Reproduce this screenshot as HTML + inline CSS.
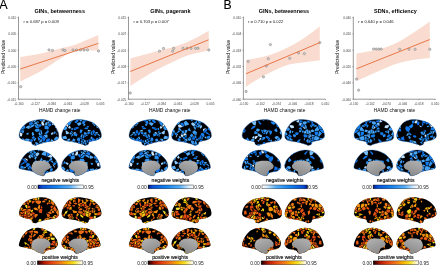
<!DOCTYPE html>
<html><head><meta charset="utf-8"><style>
html,body{margin:0;padding:0;background:#fff;width:440px;height:265px;overflow:hidden;}
svg text{font-family:"Liberation Sans", sans-serif;}
svg{will-change:transform;}
</style></head><body><svg width="440" height="265" viewBox="0 0 440 265" style="display:block"><defs><path id="latp" d="M0.20,14.60 L0.36,13.69 L0.60,12.65 L0.94,11.53 L1.39,10.38 L1.93,9.25 L2.60,8.20 L3.40,7.18 L4.34,6.16 L5.39,5.16 L6.51,4.21 L7.69,3.34 L8.90,2.60 L10.16,1.98 L11.51,1.46 L12.91,1.03 L14.33,0.67 L15.73,0.37 L17.10,0.10 L18.43,-0.13 L19.74,-0.32 L21.05,-0.46 L22.34,-0.52 L23.63,-0.51 L24.90,-0.40 L26.19,-0.20 L27.50,0.07 L28.79,0.42 L30.05,0.86 L31.23,1.39 L32.30,2.00 L33.26,2.73 L34.14,3.60 L34.95,4.54 L35.69,5.54 L36.37,6.54 L37.00,7.50 L37.59,8.45 L38.12,9.41 L38.60,10.38 L39.01,11.34 L39.35,12.29 L39.60,13.20 L39.78,14.10 L39.90,15.01 L39.94,15.89 L39.90,16.74 L39.76,17.51 L39.50,18.20 L39.15,18.79 L38.72,19.29 L38.19,19.73 L37.54,20.11 L36.75,20.46 L35.80,20.80 L34.62,21.09 L33.21,21.32 L31.67,21.52 L30.06,21.71 L28.48,21.93 L27.00,22.20 L25.56,22.55 L24.07,22.95 L22.61,23.38 L21.23,23.80 L20.01,24.18 L19.00,24.50 L18.27,24.77 L17.79,25.01 L17.45,25.22 L17.18,25.38 L16.89,25.48 L16.50,25.50 L15.98,25.44 L15.41,25.31 L14.82,25.12 L14.24,24.88 L13.73,24.60 L13.30,24.30 L13.05,23.95 L12.95,23.53 L12.91,23.07 L12.83,22.61 L12.59,22.18 L12.10,21.80 L11.29,21.49 L10.21,21.22 L8.99,20.98 L7.73,20.74 L6.53,20.49 L5.50,20.20 L4.61,19.90 L3.77,19.59 L3.00,19.27 L2.30,18.92 L1.70,18.54 L1.20,18.10 L0.80,17.63 L0.50,17.14 L0.28,16.62 L0.16,16.03 L0.13,15.37 Z"/><path id="medp" d="M0.00,16.80 L0.14,15.92 L0.40,14.84 L0.78,13.62 L1.24,12.34 L1.79,11.08 L2.40,9.90 L3.09,8.77 L3.87,7.60 L4.74,6.46 L5.66,5.36 L6.62,4.36 L7.60,3.50 L8.61,2.77 L9.65,2.14 L10.74,1.61 L11.86,1.16 L13.01,0.79 L14.20,0.50 L15.42,0.28 L16.69,0.12 L17.98,0.05 L19.30,0.07 L20.65,0.18 L22.00,0.40 L23.41,0.75 L24.90,1.22 L26.41,1.79 L27.88,2.43 L29.26,3.11 L30.50,3.80 L31.60,4.52 L32.60,5.31 L33.52,6.14 L34.35,6.98 L35.11,7.81 L35.80,8.60 L36.42,9.36 L36.95,10.10 L37.41,10.83 L37.80,11.56 L38.13,12.28 L38.40,13.00 L38.63,13.73 L38.82,14.47 L38.95,15.21 L39.00,15.93 L38.96,16.63 L38.80,17.30 L38.52,17.96 L38.14,18.61 L37.66,19.24 L37.10,19.83 L36.47,20.36 L35.80,20.80 L35.03,21.13 L34.14,21.37 L33.18,21.54 L32.22,21.69 L31.31,21.83 L30.50,22.00 L29.80,22.18 L29.16,22.35 L28.57,22.51 L28.02,22.70 L27.50,22.92 L27.00,23.20 L26.57,23.60 L26.23,24.10 L25.92,24.65 L25.58,25.16 L25.16,25.57 L24.60,25.80 L23.88,25.84 L23.03,25.75 L22.10,25.55 L21.13,25.27 L20.15,24.95 L19.20,24.60 L18.30,24.19 L17.40,23.69 L16.51,23.13 L15.59,22.57 L14.62,22.05 L13.60,21.60 L12.48,21.23 L11.26,20.91 L10.01,20.63 L8.76,20.37 L7.57,20.13 L6.50,19.90 L5.52,19.71 L4.58,19.56 L3.71,19.42 L2.91,19.29 L2.20,19.12 L1.60,18.90 L1.10,18.67 L0.67,18.46 L0.34,18.22 L0.11,17.90 L-0.00,17.44 Z"/><path id="wallp" d="M12.80,16.20 L12.99,15.59 L13.22,14.90 L13.51,14.18 L13.88,13.47 L14.33,12.83 L14.90,12.30 L15.59,11.87 L16.40,11.51 L17.29,11.21 L18.26,10.98 L19.27,10.81 L20.30,10.70 L21.41,10.65 L22.62,10.64 L23.88,10.71 L25.11,10.84 L26.28,11.07 L27.30,11.40 L28.22,11.87 L29.10,12.49 L29.89,13.19 L30.58,13.93 L31.13,14.65 L31.50,15.30 L31.67,15.90 L31.66,16.51 L31.50,17.09 L31.24,17.65 L30.93,18.16 L30.60,18.60 L30.21,18.96 L29.71,19.25 L29.16,19.49 L28.59,19.71 L28.05,19.94 L27.60,20.20 L27.22,20.47 L26.89,20.72 L26.59,20.97 L26.31,21.26 L26.05,21.59 L25.80,22.00 L25.61,22.55 L25.49,23.23 L25.39,23.97 L25.24,24.67 L25.00,25.24 L24.60,25.60 L24.02,25.74 L23.29,25.72 L22.47,25.58 L21.59,25.34 L20.68,25.04 L19.80,24.70 L18.88,24.28 L17.87,23.75 L16.84,23.15 L15.86,22.53 L14.99,21.93 L14.30,21.40 L13.80,20.94 L13.45,20.51 L13.21,20.11 L13.04,19.72 L12.92,19.32 L12.80,18.90 L12.69,18.48 L12.61,18.06 L12.58,17.64 L12.59,17.20 L12.66,16.72 Z"/><clipPath id="cl"><use href="#latp"/></clipPath><clipPath id="cm"><use href="#medp"/></clipPath><linearGradient id="gw" x1="0" y1="0" x2="0.5" y2="1"><stop offset="0" stop-color="#b4b4b4"/><stop offset="1" stop-color="#8c8c8c"/></linearGradient><g id="aneg0"><polygon points="12.7,2.1 13.8,2.5 13.9,2.6 14.5,3.5 14.6,3.8 11.4,5.4 10.5,4.7 10.4,4.4 10.1,2.8" fill="#1177eb"/><polygon points="4.8,4.8 4.1,2.2 2.1,3.9 3.4,5.2" fill="#46a4f7"/><polygon points="26.1,4.7 28.4,4.9 28.6,4.3 27.7,2.1 27.7,2.1 27.0,2.3 26.0,4.2" fill="#67b7fb"/><polygon points="23.6,15.6 22.3,15.2 20.5,15.5 19.7,16.4 22.2,18.5 22.9,18.5 23.6,15.6" fill="#1985f1"/><polygon points="14.7,28.4 14.6,27.9 14.2,27.1 11.8,26.7 11.7,26.7 12.3,27.6" fill="#1074e9"/><polygon points="21.8,13.9 22.3,14.8 20.4,15.2 19.4,13.5 20.5,12.1" fill="#41a1f7"/><polygon points="16.6,24.1 16.2,21.8 19.3,23.1 19.7,23.7 19.9,25.2 19.6,26.2 19.1,26.0 17.2,25.0" fill="#3c9df6"/><polygon points="1.6,24.8 0.2,23.4 0.8,21.1 1.4,20.9 2.8,22.5 2.2,24.3" fill="#9bd0fd"/><polygon points="39.0,22.3 42.2,22.9 42.4,24.0 38.9,22.7" fill="#46a4f7"/><polygon points="-0.5,9.5 -1.3,10.9 -3.9,8.9 -2.9,8.6" fill="#127aec"/><polygon points="3.2,22.1 1.7,20.5 3.7,18.3 5.6,19.2 5.8,20.4" fill="#41a0f7"/><polygon points="1.1,2.9 1.4,3.5 1.7,3.5 3.7,1.7 3.8,1.1 2.8,0.3 2.2,0.1" fill="#127ced"/><polygon points="9.2,0.8 11.3,-2.2 12.1,1.5 9.7,2.1 9.2,1.9 9.2,0.8" fill="#1c87f1"/><polygon points="26.1,24.6 26.1,22.9 25.5,21.8 24.5,21.8 21.5,23.4 21.4,25.0 25.4,26.0 25.5,25.8" fill="#5db3fa"/><polygon points="14.5,24.6 14.4,25.6 13.2,25.2 13.3,24.3 14.2,24.2" fill="#5fb3fa"/><polygon points="-1.3,17.8 -0.7,17.5 -0.3,17.5 -0.6,19.9 -1.6,19.9 -1.3,17.9" fill="#208af2"/><polygon points="27.5,-0.7 30.6,-3.8 31.5,-2.6 31.5,-2.5 29.9,0.2 28.0,0.8 27.9,0.8" fill="#3397f5"/><polygon points="24.2,15.5 23.0,18.8 24.5,21.1 25.7,21.1 26.9,18.6 24.5,15.5" fill="#0e6ee6"/><polygon points="28.7,25.5 29.5,27.7 30.1,28.6 31.2,26.5 31.1,25.4" fill="#127ced"/><polygon points="8.7,26.7 6.5,26.1 6.4,26.0 5.9,24.3 6.0,24.1 8.8,24.9 9.9,26.1" fill="#268ef3"/><polygon points="24.4,2.2 25.4,4.5 25.5,5.0 25.1,5.4 23.4,5.4 22.4,3.6 22.6,1.4 23.2,1.1" fill="#cfeaff"/><polygon points="20.5,7.2 20.6,7.6 22.9,5.6 22.0,4.1 19.9,4.5" fill="#1179eb"/><polygon points="36.3,7.6 36.3,7.7 37.4,7.9 39.2,7.8 39.8,6.8 39.6,6.5 36.9,5.6" fill="#b4dcfe"/><polygon points="29.0,5.2 29.3,4.5 30.8,3.3 32.5,3.5 32.4,5.2 32.4,5.5 30.3,7.1" fill="#1177eb"/><polygon points="1.2,8.8 0.8,9.1 1.1,12.0 1.9,12.1 2.9,10.0" fill="#1178eb"/><polygon points="16.1,-0.9 16.5,-0.8 17.3,-0.5 17.4,0.8 15.2,2.6 14.4,1.7" fill="#49a6f8"/><polygon points="31.4,26.7 33.4,27.7 30.4,30.4 30.5,28.8" fill="#0f6fe7"/><polygon points="2.5,7.4 5.4,8.6 4.8,9.6 3.0,9.8 1.8,8.8 2.0,7.7" fill="#268ef3"/><polygon points="25.6,27.0 26.0,30.7 21.9,28.5" fill="#389bf5"/><polygon points="16.7,3.9 15.4,4.0 15.2,3.8 15.1,3.5 17.4,1.4 17.5,1.4 18.6,3.7" fill="#4ca8f8"/><polygon points="19.0,3.6 18.0,1.2 20.0,1.8 19.2,3.6" fill="#4ba7f8"/><polygon points="25.7,13.9 28.0,13.8 30.0,12.1 29.2,10.1 29.0,10.1 25.8,13.2" fill="#1c88f1"/><polygon points="0.3,21.3 0.1,23.0 -0.5,22.9 -2.5,20.6 -1.7,20.4 -0.7,20.6" fill="#3296f4"/><polygon points="26.0,5.4 28.5,5.5 29.9,7.5 29.9,8.4 29.3,9.4 29.1,9.4 25.8,8.9 25.6,5.8" fill="#2990f3"/><polygon points="10.2,25.8 11.3,23.1 10.5,22.1 8.9,22.2 9.1,24.5 10.1,25.8" fill="#1a86f1"/><polygon points="24.9,15.4 27.0,18.1 28.6,17.6 28.7,15.1 27.9,14.4 25.6,14.7" fill="#4da9f8"/><polygon points="16.6,4.6 15.3,4.5 15.9,5.9 17.2,8.3 20.1,8.2 20.2,8.0 20.0,7.6" fill="#1784f0"/><polygon points="5.5,23.7 5.6,23.4 6.2,21.1 6.1,20.6 3.6,22.8 2.8,24.6" fill="#1177eb"/><polygon points="1.0,15.5 1.5,16.3 2.8,16.6 3.7,13.8 1.9,12.5 1.1,12.5 0.8,12.6" fill="#d8edff"/><polygon points="-0.5,15.1 -2.1,14.8 -2.0,15.5 -0.5,17.1 -0.1,17.1 1.3,16.6 0.8,15.8" fill="#3d9ef6"/><polygon points="31.3,21.9 32.3,19.2 32.5,19.2 33.3,19.5 34.5,20.6 33.9,23.5 32.1,23.4" fill="#56aefa"/><polygon points="2.9,28.3 3.0,26.7 1.6,25.4 1.7,29.5 1.7,29.4" fill="#1b87f1"/><polygon points="14.1,19.3 16.2,17.6 14.9,15.9 13.1,17.1 12.8,17.8 12.8,18.1" fill="#1178eb"/><polygon points="36.9,12.6 38.0,13.6 37.4,13.9 36.6,13.2" fill="#137fef"/><polygon points="23.5,14.4 22.4,14.4 22.1,13.6 22.3,10.1 22.8,10.2" fill="#42a1f7"/><polygon points="34.7,12.2 35.3,13.9 35.6,13.9 36.5,13.1 36.8,12.3 36.9,12.0 35.9,11.3" fill="#2e93f4"/><polygon points="10.2,21.6 10.9,18.9 7.2,18.5 6.2,19.2 6.4,20.4 6.7,20.9 8.6,21.7" fill="#45a3f7"/><polygon points="15.0,26.3 16.5,25.6 18.5,26.3 15.1,27.5 14.8,26.7" fill="#0f70e7"/><polygon points="14.7,28.7 12.0,28.2 12.0,28.8 12.0,28.9 13.8,29.6 14.8,28.9" fill="#1885f1"/><polygon points="36.8,4.4 36.9,3.6 39.5,4.9 39.7,6.1 36.8,5.0" fill="#258ef3"/><polygon points="6.0,-0.6 7.3,-0.8 8.7,0.5 8.7,0.5 5.4,0.3" fill="#1177eb"/><polygon points="20.4,11.3 17.7,11.9 15.6,10.8 16.8,9.1 20.1,8.8 20.6,9.3" fill="#2e94f4"/><polygon points="25.0,-0.4 24.6,-2.2 22.9,-2.5 22.9,-1.2 23.2,0.6" fill="#3297f4"/><polygon points="16.0,21.3 17.4,18.1 16.8,17.8 14.4,19.4 15.1,20.8 15.6,21.2" fill="#389bf5"/><polygon points="25.3,26.8 21.7,28.3 20.1,27.8 19.9,26.3 20.5,25.2 25.3,26.4" fill="#0f70e8"/><polygon points="42.1,2.7 43.2,2.4 40.8,-0.8 40.2,-1.1 39.1,0.1 39.1,0.6 41.0,2.4" fill="#127ced"/><polygon points="30.1,21.9 31.5,18.7 29.1,18.6 27.7,19.1 26.5,21.5 27.0,22.5" fill="#1073e9"/><polygon points="18.6,17.5 19.9,21.3 21.5,19.0 19.2,17.0" fill="#218bf2"/><polygon points="25.8,-0.1 25.9,1.6 24.7,1.9 23.5,0.7 23.6,0.6 25.0,-0.1" fill="#80c3fc"/><polygon points="37.2,3.1 39.7,4.5 40.4,3.2 38.5,1.3 37.2,3.1" fill="#4aa6f8"/><polygon points="40.8,11.1 40.7,11.1 38.0,11.4 37.8,8.9 39.7,8.8" fill="#a4d5fd"/><polygon points="34.3,12.2 33.1,12.4 32.0,13.2 32.2,14.2 32.6,15.1 34.7,13.9" fill="#91cbfc"/><polygon points="14.7,24.7 15.9,24.6 16.4,25.4 14.8,26.2 14.5,25.6" fill="#d2ebff"/><polygon points="0.9,2.4 2.0,0.2 1.4,-0.1 -1.0,0.9" fill="#1583f0"/><polygon points="-0.6,14.8 -2.1,14.6 -2.5,14.2 -3.0,13.2 -1.3,12.3 -1.0,12.4" fill="#248df2"/><polygon points="1.2,7.4 -0.4,5.9 -0.5,5.9 -1.5,7.3 0.2,8.9 0.7,8.7 1.0,8.4" fill="#1b87f1"/><polygon points="5.9,5.1 6.2,4.7 7.5,2.6 4.8,1.3 4.4,1.5 4.3,2.1 5.3,4.8" fill="#3b9cf6"/><polygon points="2.8,7.0 3.9,5.6 5.3,5.4 5.8,5.7 6.3,7.1 6.5,8.2 6.1,8.7" fill="#1a86f1"/><polygon points="10.8,21.8 11.8,19.2 12.3,18.9 13.7,19.6 14.2,21.0 11.9,22.6 11.4,22.7" fill="#1072e8"/><polygon points="3.1,10.3 2.2,12.0 4.1,13.2 4.5,13.0 5.4,10.8 5.3,10.4" fill="#3b9cf6"/><polygon points="37.5,14.1 38.0,13.8 38.8,14.0 37.7,14.5" fill="#c6e5ff"/><polygon points="11.5,-2.6 11.8,-4.7 13.9,-2.6 13.7,1.9 12.6,1.4" fill="#bbe0fe"/><polygon points="2.0,7.0 2.9,5.8 1.4,3.9 1.1,3.9 0.1,5.3 1.6,7.1" fill="#1583f0"/><polygon points="34.9,-2.1 39.7,-3.7 39.9,-1.9 38.6,-0.6 37.8,-0.8" fill="#127aec"/><polygon points="16.9,4.2 20.2,7.1 19.5,4.3 19.2,3.9 19.0,3.9" fill="#43a2f7"/><polygon points="-0.8,12.0 -1.2,11.9 -1.1,11.2 -0.3,9.8 0.2,9.5 0.7,9.4 0.8,11.9 0.5,12.1" fill="#1e89f2"/><polygon points="1.5,25.5 1.5,29.4 0.9,29.9 -1.0,27.6 1.5,25.4" fill="#2c92f4"/><polygon points="12.9,25.2 11.6,26.4 11.5,26.4 10.5,25.9 11.6,23.3 12.0,23.3 13.0,24.4" fill="#3b9df6"/><polygon points="36.9,2.6 38.5,0.8 38.5,0.4 37.7,0.2 35.7,0.8 35.9,2.3" fill="#8fcbfc"/><polygon points="5.0,29.3 3.2,28.0 3.1,26.8 3.4,26.9" fill="#2c92f4"/><polygon points="-2.4,14.8 -2.3,15.5 -3.0,16.8 -3.8,16.9 -2.7,14.4" fill="#56affa"/><polygon points="23.0,0.8 22.4,1.1 21.3,0.9 20.0,-0.9 22.7,-0.9 23.0,0.7" fill="#1482f0"/><polygon points="20.3,21.7 20.2,22.6 20.5,23.1 23.7,21.2 22.6,19.1 21.9,19.3" fill="#3195f4"/><polygon points="22.5,-2.6 21.1,-4.9 19.4,-1.9 19.9,-1.4 22.5,-1.5" fill="#258ef3"/><polygon points="37.3,16.5 34.9,19.0 35.8,20.3 37.9,21.2 39.3,17.8 39.0,16.9 37.5,16.4" fill="#3a9bf6"/><polygon points="14.1,25.8 14.5,26.4 14.4,26.7 12.2,26.3 13.2,25.4" fill="#1583f0"/><polygon points="21.6,13.1 21.8,9.7 21.2,9.4 20.6,11.4 20.6,11.6" fill="#258ef3"/><polygon points="33.2,5.2 33.2,3.4 33.7,2.7 35.6,3.0 36.5,3.4 36.5,3.4 36.4,4.3" fill="#a4d5fd"/><polygon points="32.2,-2.3 33.3,-0.1 35.0,-0.1 37.0,-0.8 34.3,-2.1 32.1,-2.5" fill="#41a0f7"/><polygon points="30.5,1.2 31.9,-1.7 33.1,0.6 33.1,2.1 32.6,2.6 30.7,2.5" fill="#3b9cf6"/><polygon points="15.3,5.9 11.0,8.3 11.6,5.8 14.8,4.3 15.0,4.4" fill="#40a0f6"/><polygon points="7.0,7.1 10.2,5.2 11.1,6.0 10.6,8.5 10.4,9.1 7.3,8.1" fill="#55aefa"/><polygon points="10.1,12.7 7.9,13.0 7.4,14.0 8.2,14.9 9.3,14.6" fill="#3b9cf6"/><polygon points="28.2,1.9 28.9,4.1 30.4,2.9 30.0,1.2" fill="#53acf9"/><polygon points="13.4,16.0 15.4,15.1 14.4,12.3 13.1,12.1 12.9,13.7" fill="#45a3f7"/></g><g id="aneg1"><polygon points="27.2,8.0 27.1,7.7 23.5,6.7 23.2,7.0 22.8,8.2 25.1,9.3" fill="#0f70e7"/><polygon points="1.4,4.8 1.0,5.6 -1.0,5.7 -2.9,4.4 -1.1,3.6 1.3,3.3" fill="#3f9ff6"/><polygon points="1.9,20.6 1.2,20.4 0.3,20.4 -0.7,21.9 -0.1,24.6 0.8,24.4 2.9,22.3 3.1,22.2" fill="#268ef3"/><polygon points="6.8,13.6 8.2,14.9 8.2,15.0 5.9,16.0 5.1,14.7" fill="#0f70e7"/><polygon points="15.3,25.3 17.1,23.7 16.7,22.9 16.7,22.8 15.3,22.9 15.0,23.0" fill="#3d9ef6"/><polygon points="8.2,4.7 7.2,4.0 6.8,3.0 7.9,2.5 9.5,2.6 9.4,3.6" fill="#43a2f7"/><polygon points="31.7,21.2 31.0,24.2 28.7,21.5 30.5,20.8 30.9,20.7" fill="#9ed2fd"/><polygon points="21.2,17.1 20.4,14.3 18.8,14.5 19.7,17.3" fill="#399bf5"/><polygon points="34.9,1.0 34.9,1.5 35.9,4.9 37.3,4.9 37.8,2.0 35.0,1.0" fill="#127ced"/><polygon points="14.0,14.1 14.4,12.7 13.9,11.9 11.2,11.7 12.3,13.9 13.7,14.4" fill="#137eee"/><polygon points="4.8,2.0 5.2,2.0 7.5,-1.1 7.2,-1.5 4.1,-0.5 3.6,-0.1 3.6,-0.0 3.5,0.4" fill="#127ced"/><polygon points="36.6,25.3 37.5,26.1 38.3,25.6 38.3,23.4 37.2,23.8" fill="#0f70e7"/><polygon points="6.0,5.5 6.5,4.0 6.0,3.0 5.6,2.7 5.3,2.6 4.9,3.7 5.3,5.5 5.6,5.6" fill="#228cf2"/><polygon points="20.6,20.9 20.6,20.9 20.9,21.3 20.5,21.9 20.2,22.2 19.6,22.4 18.7,21.4 18.7,21.0" fill="#2d93f4"/><polygon points="34.8,1.7 33.3,6.2 34.1,7.1 35.6,5.6" fill="#d7edff"/><polygon points="3.5,8.5 5.2,7.3 5.3,6.0 5.0,5.9 2.7,7.1 3.3,8.5" fill="#4ca8f8"/><polygon points="13.9,11.4 11.2,11.3 10.6,10.8 13.5,9.8 13.7,9.9" fill="#97cefd"/><polygon points="38.9,16.4 38.8,18.7 34.9,19.3 34.6,18.1 35.7,15.8 36.0,15.7 38.9,16.4" fill="#55aefa"/><polygon points="8.8,22.7 6.5,22.0 6.4,19.5 9.1,17.5 9.9,19.7" fill="#137eee"/><polygon points="26.5,24.0 26.4,21.3 28.1,21.9 27.9,23.7" fill="#1583f0"/><polygon points="3.1,0.2 3.0,-0.3 0.7,-0.7 -0.1,1.9 3.1,0.3" fill="#2990f3"/><polygon points="40.1,3.2 39.7,2.4 38.2,2.2 38.2,5.2 39.6,6.1" fill="#1279ec"/><polygon points="9.8,2.0 8.7,0.6 8.1,2.3 9.6,2.3" fill="#d2ebff"/><polygon points="19.2,23.4 19.5,22.7 20.3,22.5 20.6,24.2 19.0,24.1" fill="#3b9cf6"/><polygon points="17.4,23.7 18.4,24.6 18.8,24.2 18.9,23.5 17.1,22.9" fill="#127bed"/><polygon points="21.8,18.2 21.3,20.6 21.7,21.0 24.1,20.7 24.7,20.0 24.7,19.9 24.0,17.8 22.1,17.6" fill="#228bf2"/><polygon points="33.5,21.8 33.9,22.6 31.6,24.9 31.2,24.9 31.2,24.6 31.8,21.4" fill="#137eee"/><polygon points="26.5,24.6 25.5,25.1 25.4,26.2 27.9,27.3 29.0,25.9 27.9,24.2" fill="#1885f1"/><polygon points="13.1,19.6 13.2,19.8 12.6,22.1 10.0,23.3 9.2,22.6 10.3,19.8 11.3,19.4 12.9,19.3" fill="#0f6ee7"/><polygon points="4.3,14.4 2.1,16.0 1.8,15.9 1.4,15.7 1.4,15.6 3.7,13.5 4.1,14.0" fill="#4aa7f8"/><polygon points="38.7,20.2 35.1,20.5 34.1,21.4 34.5,22.3 34.9,22.7 37.0,23.3 38.2,23.1 38.4,22.9 38.6,22.1 38.8,20.3" fill="#1d88f1"/><polygon points="32.5,26.1 31.5,27.6 29.9,25.9 31.0,25.2 31.5,25.3 32.4,25.9" fill="#1481ef"/><polygon points="18.0,6.1 18.4,4.4 16.5,3.8 16.1,5.3" fill="#46a4f7"/><polygon points="34.5,0.8 34.4,0.8 30.0,2.4 31.9,5.2 33.0,5.9 34.6,1.4" fill="#238cf2"/><polygon points="27.1,2.4 25.4,3.3 23.0,1.0 23.4,-0.8 24.6,-0.7 26.7,1.6" fill="#127aec"/><polygon points="6.4,13.0 6.1,12.0 3.8,12.1 3.8,13.0 4.4,13.7" fill="#48a5f8"/><polygon points="11.2,13.9 10.6,11.8 10.2,11.3 10.0,11.2 8.9,14.8 8.9,14.8 9.4,15.4" fill="#1784f1"/><polygon points="28.8,13.8 29.1,13.8 30.0,14.4 29.1,15.9 28.8,15.9 28.1,15.4 28.4,14.3" fill="#238cf2"/><polygon points="3.5,26.7 3.4,23.0 1.1,24.8 2.7,26.6 3.0,27.0" fill="#1b87f1"/><polygon points="7.0,12.7 6.6,11.7 7.4,10.3 8.3,10.0 8.4,10.0 9.4,11.2 8.4,14.2 7.1,12.9" fill="#0f71e8"/><polygon points="5.6,22.6 3.9,22.8 3.8,23.0 3.4,26.3 4.6,25.8" fill="#46a4f7"/><polygon points="33.9,0.7 30.9,-3.0 29.1,1.6 30.0,1.8" fill="#44a3f7"/><polygon points="43.6,18.2 40.8,20.2 39.3,19.8 39.2,19.7 39.2,16.3" fill="#2f95f4"/><polygon points="32.7,6.5 33.4,7.5 33.4,8.1 31.5,8.8 30.8,7.5 31.8,5.8" fill="#badffe"/><polygon points="6.6,13.1 4.4,13.9 4.6,14.4 4.9,14.6 6.7,13.3" fill="#3b9df6"/><polygon points="28.2,13.0 26.6,11.7 25.1,13.3 27.9,13.9 28.3,13.3" fill="#83c5fc"/><polygon points="1.9,27.1 -2.5,29.0 -0.6,25.2 -0.5,25.1 0.3,25.1" fill="#127ced"/><polygon points="13.3,22.2 14.7,22.7 14.9,22.5 15.1,20.4 13.8,20.0" fill="#0f71e8"/><polygon points="17.7,9.0 15.8,7.3 13.5,8.3 13.9,9.2 14.1,9.3" fill="#127ced"/><polygon points="28.4,8.4 29.8,7.7 29.8,7.7 30.5,9.0 30.1,9.9 28.4,9.5" fill="#268ef3"/><polygon points="19.2,9.7 21.4,9.4 22.0,12.3 20.5,13.5 19.0,10.4" fill="#268ef3"/><polygon points="27.8,14.1 27.6,15.4 24.6,16.4 24.1,13.8 24.7,13.5" fill="#1c88f1"/><polygon points="17.0,22.6 17.1,22.7 18.9,23.3 19.2,22.6 17.9,21.5" fill="#258df2"/><polygon points="4.3,3.5 2.5,4.8 2.0,3.0 3.2,0.6 3.2,0.6 4.8,2.5" fill="#47a4f7"/><polygon points="16.9,14.7 14.5,14.1 14.9,12.8 17.4,12.1 17.9,14.3 17.1,14.7" fill="#3497f5"/><polygon points="8.2,5.1 7.0,6.3 6.2,5.7 7.1,4.2 8.2,4.9" fill="#3196f4"/><polygon points="31.1,14.5 32.2,13.8 31.7,12.8 31.1,12.3 29.5,13.2 30.5,14.2" fill="#43a2f7"/><polygon points="34.0,19.0 31.5,18.4 31.4,20.1 32.1,20.6 33.8,21.1 34.5,20.4" fill="#54adf9"/><polygon points="28.1,24.1 29.2,25.8 29.6,25.7 30.8,25.0 30.8,24.7 28.7,21.8 28.4,21.8" fill="#1073e9"/><polygon points="39.1,6.9 38.5,9.4 36.2,10.2 35.3,9.5 34.7,8.7 34.4,8.1 34.4,7.5 36.0,6.0 37.4,6.0 39.1,6.9" fill="#3699f5"/><polygon points="17.1,16.9 17.3,15.1 18.0,14.7 18.1,14.8 19.1,17.4 18.5,18.3 18.2,18.5 17.3,17.4" fill="#1784f0"/><polygon points="10.2,19.4 9.4,17.2 9.6,16.6 10.9,17.1 11.1,19.1" fill="#4da9f8"/><polygon points="16.0,20.3 15.7,22.7 16.7,22.5 17.5,21.3 17.5,20.9 17.3,19.7 16.8,19.8" fill="#4ea9f8"/><polygon points="33.1,27.9 32.8,26.2 34.9,27.2 35.0,27.3 33.2,28.0" fill="#1885f1"/><polygon points="30.8,14.7 30.5,16.7 29.7,16.4 30.3,14.5" fill="#3b9cf6"/><polygon points="16.9,3.4 18.5,4.2 19.4,3.6 19.5,2.1 18.3,0.6 17.5,0.5 16.6,1.8 16.5,2.8" fill="#1985f1"/><polygon points="26.7,20.7 25.8,20.1 25.8,20.0 28.1,18.2 29.6,20.5 28.2,21.4 28.0,21.4" fill="#3599f5"/><polygon points="43.7,24.8 42.1,25.7 38.9,23.1 39.2,22.4" fill="#1e89f1"/><polygon points="20.2,19.8 18.5,18.9 18.1,19.0 17.6,19.7 17.9,20.5 20.8,20.5" fill="#137fee"/><polygon points="23.1,5.8 24.9,3.6 22.0,2.2 20.5,2.6 20.2,3.9 22.8,6.1" fill="#52acf9"/><polygon points="6.1,21.7 5.5,21.9 3.8,21.9 2.4,20.4 3.7,18.0 5.0,18.1 5.9,19.6" fill="#1b87f1"/><polygon points="34.0,11.4 32.2,12.8 32.7,13.6 34.3,14.2 35.2,14.2 35.6,14.1 36.1,11.0 35.3,10.5" fill="#8dc9fc"/><polygon points="20.5,1.6 19.4,0.2 20.5,-3.0 22.2,-0.6 21.6,1.3" fill="#48a5f8"/><polygon points="2.6,1.0 -0.2,2.0 -1.1,2.5 1.6,2.9" fill="#1884f1"/><polygon points="21.8,21.4 23.5,21.3 23.6,22.9 22.4,24.2 21.5,21.9" fill="#0f71e8"/><polygon points="29.4,26.5 29.1,26.5 28.5,27.5 28.7,28.8 30.0,31.5 31.0,28.4 30.9,28.1" fill="#2b92f3"/><polygon points="20.6,19.5 21.4,18.1 21.5,17.7 21.2,17.5 19.6,17.4 19.1,18.1" fill="#1178eb"/><polygon points="27.5,8.1 25.3,9.5 26.5,10.3 27.6,9.9 27.9,9.5 27.9,8.5" fill="#1073e9"/><polygon points="34.6,23.5 35.0,24.7 36.1,25.2 36.5,25.1 36.7,23.9 34.6,23.3" fill="#1583f0"/><polygon points="14.9,16.2 13.9,15.5 13.9,14.7 14.2,14.5 16.7,15.0 15.1,16.2" fill="#278ff3"/><polygon points="14.8,6.2 12.9,5.9 12.7,6.2 12.7,6.4 13.5,7.9 15.2,7.1" fill="#1482f0"/><polygon points="2.1,16.6 1.9,16.4 1.5,19.8 2.1,20.1 3.0,17.4" fill="#258df2"/><polygon points="15.2,-1.9 13.4,-0.0 16.1,1.7 17.2,0.3 16.0,-1.6" fill="#1583f0"/><polygon points="16.6,16.9 17.2,15.0 17.0,15.0 15.5,16.5" fill="#1178eb"/><polygon points="28.7,12.9 29.0,11.8 30.3,10.6 30.6,11.5 30.7,12.0 29.1,13.1 28.8,13.2" fill="#1683f0"/></g><g id="aneg2"><polygon points="-0.9,11.4 0.2,13.0 0.2,13.7 0.0,13.7 -2.2,12.7 -1.7,11.0" fill="#2990f3"/><polygon points="5.2,28.5 7.8,27.7 5.2,25.4 4.8,25.5 4.1,28.2 4.1,28.2" fill="#1d88f1"/><polygon points="11.2,14.7 12.2,17.2 11.2,19.1 10.7,19.0 9.9,16.6" fill="#0f70e7"/><polygon points="25.2,23.1 26.6,23.1 28.0,23.8 28.3,24.3 25.1,24.2" fill="#137eee"/><polygon points="33.1,7.2 33.6,5.3 31.9,4.2 28.5,6.7 31.8,7.7" fill="#bfe2fe"/><polygon points="8.9,13.1 10.8,13.6 10.8,14.5 9.6,16.2 8.3,17.0 7.5,16.9 7.2,16.2 7.4,14.5 7.6,13.6" fill="#1582f0"/><polygon points="28.0,13.7 29.8,12.5 30.1,11.4 29.5,10.8 28.0,10.6 27.1,12.8" fill="#2b91f3"/><polygon points="12.4,17.4 14.0,18.2 11.9,19.8 11.5,19.3" fill="#127ced"/><polygon points="33.7,27.3 33.2,27.4 33.0,27.6 33.2,29.4 36.3,31.4 36.6,30.8 36.5,30.3 36.5,30.2" fill="#137fef"/><polygon points="-1.6,1.6 -1.3,1.9 -1.5,4.2 -2.1,4.7 -4.1,3.6 -2.2,1.5" fill="#3699f5"/><polygon points="26.7,12.7 25.4,13.4 24.1,10.4 24.4,9.9 26.6,9.9 27.0,10.5" fill="#42a1f7"/><polygon points="3.6,9.5 1.9,10.7 1.4,10.1 -0.0,8.1 0.1,7.5 1.9,7.0 3.9,8.5" fill="#1985f1"/><polygon points="8.3,11.5 5.2,8.5 4.5,8.9 4.1,9.8 5.1,11.3 6.5,12.7 7.2,12.8 8.6,12.3" fill="#0f70e7"/><polygon points="38.8,16.6 40.1,15.5 40.2,12.7 39.9,12.7 37.8,13.4 37.8,13.5" fill="#218bf2"/><polygon points="-0.3,8.5 -0.5,9.7 1.2,9.9 -0.3,8.4" fill="#3497f5"/><polygon points="14.4,2.4 15.8,3.9 16.3,3.7 17.6,2.6 14.4,0.4" fill="#1c87f1"/><polygon points="34.2,13.5 34.1,13.5 35.5,15.2 36.2,15.0 37.4,13.4 37.4,13.4 36.0,12.5 35.3,12.6" fill="#1784f0"/><polygon points="9.8,-1.0 10.0,-0.7 10.1,2.1 10.0,2.4 7.6,-0.6 7.7,-1.0 8.0,-1.1" fill="#6dbafb"/><polygon points="0.6,28.7 1.7,25.9 -0.7,24.6 -0.6,27.8" fill="#278ff3"/><polygon points="40.4,12.6 40.3,15.5 42.0,14.8 40.7,12.6" fill="#3e9ef6"/><polygon points="28.3,2.7 27.4,6.3 27.6,6.7 28.3,6.6 31.5,4.1 30.6,2.8" fill="#1176ea"/><polygon points="25.9,0.8 25.7,0.7 25.6,0.8 22.5,4.0 22.9,4.7 26.8,6.1 27.8,2.4" fill="#4aa7f8"/><polygon points="18.3,15.7 19.1,17.0 17.2,16.1 17.0,15.8" fill="#b0dbfe"/><polygon points="28.3,14.0 28.5,14.7 30.7,14.4 30.0,13.0" fill="#3498f5"/><polygon points="15.2,17.8 16.3,18.6 17.0,16.4 16.9,16.1 16.3,15.8 15.2,15.6" fill="#1582f0"/><polygon points="21.5,-1.4 20.8,0.1 19.7,1.5 19.3,1.3 18.5,-1.5 20.3,-1.7" fill="#3497f5"/><polygon points="40.4,12.1 40.2,12.1 39.7,10.6 45.1,9.8 40.7,12.1" fill="#1884f1"/><polygon points="31.4,11.2 33.9,13.1 34.7,12.4 33.2,10.3" fill="#2f94f4"/><polygon points="30.8,14.6 28.7,15.1 28.4,16.4 29.7,17.2 29.9,17.3 30.5,16.1 30.9,14.7" fill="#d6edff"/><polygon points="6.4,23.2 9.2,23.8 9.5,22.9 8.9,21.2 8.5,20.9 7.1,21.2 6.4,22.2" fill="#1177eb"/><polygon points="27.4,20.2 24.7,21.8 25.3,22.8 26.4,22.7 27.5,20.5" fill="#127ced"/><polygon points="22.1,-2.1 22.1,-2.1 21.0,0.0 23.7,-0.8" fill="#3e9ff6"/><polygon points="9.1,25.0 8.7,24.5 6.4,23.4 6.0,24.7 8.5,27.5 8.5,27.5" fill="#47a4f7"/><polygon points="13.6,-0.2 13.9,0.3 13.4,2.4 10.8,3.6 10.7,3.2 10.7,2.8 10.9,2.5" fill="#2e94f4"/><polygon points="10.7,24.5 9.9,24.5 9.7,24.0 10.0,23.1 11.5,22.0 11.7,22.5" fill="#278ff3"/><polygon points="29.9,21.6 29.0,23.7 29.2,24.4 29.6,25.6 30.5,25.0 32.0,23.5 31.7,22.6 30.6,21.4" fill="#3599f5"/><polygon points="8.5,8.9 8.7,11.3 5.2,8.1 5.2,8.1" fill="#cce8ff"/><polygon points="16.8,19.8 16.8,19.8 19.5,19.5 19.7,18.5 18.9,17.4 17.1,16.4 16.5,19.3" fill="#0f71e8"/><polygon points="43.5,2.5 39.4,0.5 39.4,0.5 37.8,2.2 37.3,3.4 39.3,4.2" fill="#2e94f4"/><polygon points="14.4,7.4 12.4,7.2 10.8,4.7 10.9,4.4 14.1,5.4" fill="#3e9ef6"/><polygon points="11.0,19.5 11.5,20.1 11.7,20.7 11.5,21.4 9.4,20.9 9.1,20.5 9.5,19.7 10.6,19.4" fill="#0f6ee7"/><polygon points="36.4,12.2 37.5,9.8 38.4,9.1 38.6,9.1 39.1,10.2 39.5,11.9 37.5,12.8" fill="#46a4f7"/><polygon points="23.4,18.0 20.6,17.9 21.5,16.3" fill="#1b87f1"/><polygon points="35.6,16.2 35.3,15.4 34.0,13.7 33.7,14.2 33.7,14.2 35.4,17.5 35.8,17.4" fill="#9ad0fd"/><polygon points="32.7,26.4 32.5,26.6 30.7,25.3 32.9,24.0 33.2,24.1" fill="#2a91f3"/><polygon points="3.0,3.2 3.0,2.8 3.7,0.9 4.2,0.2 5.5,0.4 3.7,3.2" fill="#1a86f1"/><polygon points="28.1,20.9 26.8,22.7 28.2,23.4 29.5,21.4" fill="#3095f4"/><polygon points="19.5,24.4 20.9,21.2 20.0,20.2 17.7,20.9 17.8,24.3 19.4,24.5" fill="#3799f5"/><polygon points="31.3,18.6 31.1,20.8 32.5,22.0 34.0,19.6 34.0,18.6 33.0,18.2" fill="#1d88f1"/><polygon points="33.7,24.0 33.6,23.8 34.0,23.6 37.3,24.9 34.4,25.0" fill="#3e9ef6"/><polygon points="10.0,-1.3 8.2,-1.6 8.9,-3.0 9.6,-2.5 10.0,-1.4" fill="#278ff3"/><polygon points="6.8,16.8 7.1,17.4 6.0,18.4 5.7,18.4 5.0,16.7" fill="#6ebbfb"/><polygon points="1.8,25.4 3.1,24.8 1.4,22.0 -0.7,23.8 -0.5,24.1" fill="#3296f4"/><polygon points="13.6,-0.8 10.8,-0.8 10.8,2.1 13.7,-0.2" fill="#1b87f1"/><polygon points="14.5,18.4 12.7,20.1 12.8,20.6 15.2,20.6 16.0,19.8 15.7,19.4 15.0,18.5" fill="#2890f3"/><polygon points="2.6,4.5 5.4,5.9 5.1,4.1 3.7,3.4 3.1,3.4 2.6,4.2" fill="#1c87f1"/><polygon points="0.1,2.3 0.3,3.6 -1.3,4.1 -1.0,2.0" fill="#4ba7f8"/><polygon points="30.4,17.6 31.0,18.3 32.6,17.7 32.8,16.0 31.0,16.4" fill="#57affa"/><polygon points="0.8,-0.8 0.6,0.5 -0.6,0.3 -0.5,-0.8 0.1,-1.9" fill="#1784f0"/><polygon points="18.6,14.8 19.9,13.6 21.9,15.4 21.4,16.1 20.4,17.2 20.1,17.5 19.3,16.7 18.6,15.5" fill="#2990f3"/><polygon points="16.3,9.7 16.7,9.7 18.1,7.0 16.7,6.0 15.6,8.4" fill="#46a4f7"/><polygon points="20.4,11.4 23.5,10.3 23.9,9.9 22.4,7.4" fill="#3699f5"/><polygon points="27.9,14.1 28.2,14.8 28.0,16.1 27.9,16.1 24.9,14.4 25.2,14.0 26.8,13.1" fill="#d7edff"/><polygon points="27.3,20.1 24.3,21.3 23.8,20.9 25.1,18.6 25.3,18.4 25.7,18.4 27.2,19.7" fill="#4ba7f8"/><polygon points="1.8,1.3 3.5,1.1 2.8,2.5 1.7,1.4" fill="#62b5fa"/><polygon points="33.3,26.6 32.8,26.7 33.3,23.7 33.3,23.7 33.4,23.9" fill="#3c9df6"/><polygon points="37.9,25.3 38.0,25.3 38.2,25.0 35.5,22.8 34.3,23.2" fill="#2990f3"/><polygon points="4.1,3.3 5.7,0.3 5.8,0.3 6.1,3.0 5.6,3.9" fill="#1179ec"/><polygon points="36.7,19.2 36.8,21.3 36.3,21.4 36.3,21.2 36.3,20.5" fill="#58b0fa"/><polygon points="6.3,13.0 1.7,15.3 1.7,15.3 1.4,14.7 4.9,11.8" fill="#0f71e8"/><polygon points="32.1,1.2 32.9,-0.6 33.0,-0.7 36.5,2.0 36.2,3.3 35.7,3.8 33.8,4.7 32.4,3.7 31.6,2.4" fill="#3699f5"/><polygon points="37.0,30.0 37.1,30.0 37.6,25.8 37.5,25.8 35.1,25.4" fill="#8ecafc"/><polygon points="30.8,11.1 30.5,11.1 29.8,10.5 31.8,8.1 33.0,7.6 33.2,8.0 33.3,9.7" fill="#3e9ef6"/><polygon points="11.3,25.5 10.9,28.0 12.0,28.5 11.6,25.5" fill="#127aec"/><polygon points="1.8,15.6 4.3,16.3 4.5,16.5 5.4,18.5 1.9,18.7 1.4,17.9 1.8,15.6" fill="#1c87f1"/><polygon points="9.7,7.2 11.2,8.8 12.1,7.3 10.5,4.8 9.6,6.1" fill="#87c7fc"/><polygon points="14.2,4.9 15.2,4.0 13.9,3.0 10.9,3.9 10.9,4.3" fill="#268ef3"/><polygon points="20.6,25.3 23.8,26.3 24.4,27.3 24.2,28.0 21.0,27.0 20.5,25.8 20.6,25.4" fill="#d6ecff"/><polygon points="6.6,3.0 10.0,3.1 10.0,2.7 7.1,-0.4 6.1,0.3" fill="#3b9cf6"/><polygon points="25.2,17.8 24.6,15.3 25.0,14.9 27.4,16.1 25.5,17.7" fill="#1784f1"/><polygon points="16.8,5.4 16.4,3.9 18.5,2.4 18.8,2.3 19.2,2.5 20.7,3.8 18.3,6.4" fill="#92ccfc"/><polygon points="-1.5,6.1 -1.9,5.2 -1.3,4.8 0.5,4.2 2.0,4.6 2.0,4.8 1.8,6.3 -0.2,6.7" fill="#258ef3"/><polygon points="14.4,13.4 17.7,14.4 16.2,15.4 15.3,15.1" fill="#2e93f4"/><polygon points="14.8,24.8 17.5,24.3 16.5,20.3 16.5,20.3 15.5,21.1 14.5,23.4" fill="#399bf5"/><polygon points="9.6,16.8 8.6,17.7 9.3,19.4 10.3,19.1" fill="#2f94f4"/><polygon points="27.6,19.4 26.0,18.1 28.0,16.5 28.1,16.5 29.5,17.5" fill="#127ced"/><polygon points="14.8,7.4 15.1,8.1 16.4,5.5 16.3,4.0 15.7,4.4 14.8,5.5" fill="#137eee"/><polygon points="11.6,24.9 11.2,24.7 12.3,23.2 14.2,23.9 14.4,24.9 14.3,25.1 11.8,25.0" fill="#3a9cf6"/><polygon points="19.6,25.4 17.6,24.8 14.9,25.3 14.8,25.5 14.8,27.2 16.1,27.7 17.1,27.8 19.6,25.8" fill="#46a4f7"/><polygon points="28.9,30.3 26.7,27.0 28.9,26.6 30.0,28.6" fill="#1481ef"/><polygon points="3.7,24.8 1.8,21.5 2.1,20.4 5.9,22.3 6.0,23.4 5.2,25.0 4.7,25.1" fill="#1d88f1"/><polygon points="14.2,12.7 14.7,13.4 17.7,14.0 18.1,13.9 19.3,12.0 19.3,11.7 17.8,10.7 16.9,10.3 16.6,10.4" fill="#3d9ef6"/><polygon points="23.1,20.8 24.5,18.6 23.4,18.2 20.6,18.2 20.3,18.6 20.1,19.5 21.3,20.8" fill="#379af5"/></g><g id="apos0"><polygon points="-0.7,18.5 -0.7,18.2 -2.6,17.4 -5.0,20.8 -3.6,20.2" fill="#e85c14"/><polygon points="10.9,29.6 10.9,32.1 12.0,30.0" fill="#f8c911"/><polygon points="38.6,0.0 39.0,-0.1 40.6,0.7 40.3,1.2 38.9,3.1 37.5,1.8 38.2,0.6" fill="#f17c16"/><polygon points="25.0,28.4 23.8,27.5 23.5,26.9 25.3,26.2" fill="#f8b604"/><polygon points="14.2,1.7 14.3,-1.8 15.3,-1.9 16.0,-1.8 16.1,-1.7 16.1,-0.9 15.6,2.5 14.4,2.1" fill="#f38a10"/><polygon points="30.4,-0.7 30.7,-1.1 33.1,-0.4 32.8,0.7 30.4,-0.4" fill="#e55012"/><polygon points="24.9,2.3 26.0,1.3 27.6,1.1 28.2,1.5 28.1,2.3 27.4,2.6" fill="#ec6816"/><polygon points="7.6,22.9 8.0,22.1 10.2,22.6 10.7,23.3 10.2,24.9 9.3,24.9 7.9,24.4 7.6,22.9" fill="#e14511"/><polygon points="32.3,13.4 33.7,11.9 33.7,10.8 31.9,11.6 31.6,11.9 31.3,12.9" fill="#f07b17"/><polygon points="27.1,23.6 26.0,23.7 25.6,25.2 25.7,25.9 26.6,26.1 27.4,25.6 27.5,24.5" fill="#f17e15"/><polygon points="34.0,-0.9 33.5,-0.2 33.2,0.7 33.2,1.1 34.5,1.7 35.0,0.5" fill="#e24711"/><polygon points="27.5,-0.6 29.2,-1.0 30.0,-0.7 30.0,-0.4 29.9,0.1 28.3,1.1 27.9,0.6" fill="#ed6d16"/><polygon points="14.5,16.9 15.0,16.7 16.3,15.9 14.5,14.5 13.8,14.4 12.1,14.8 14.3,16.9" fill="#e14511"/><polygon points="40.2,12.9 40.3,13.3 41.8,13.9 42.9,13.3 41.0,12.5" fill="#f5990a"/><polygon points="29.5,2.8 30.0,4.0 30.6,4.5 31.2,4.3 31.4,3.5 31.3,2.6 30.9,2.4" fill="#f8af01"/><polygon points="27.9,5.2 27.9,6.8 28.7,6.7 28.8,6.6 30.2,4.9 29.5,4.4" fill="#ec6b16"/><polygon points="9.1,-3.4 10.4,-3.6 9.9,-2.7 8.9,-2.9" fill="#f8df1f"/><polygon points="3.4,21.8 0.8,21.8 1.2,20.6 1.3,20.4 2.4,20.0" fill="#e75914"/><polygon points="21.0,10.7 20.0,12.1 18.9,9.5 19.8,7.5 21.0,6.9 21.3,7.8" fill="#f28612"/><polygon points="2.9,26.3 3.5,24.5 3.9,24.3 5.5,25.6 4.6,26.3" fill="#f8c911"/><polygon points="30.1,0.1 30.2,-0.3 32.7,1.1 32.8,1.4 31.8,2.2 31.3,1.9" fill="#f8b604"/><polygon points="10.8,5.3 12.2,3.8 12.7,3.0 9.4,1.9 10.1,3.9" fill="#f8b201"/><polygon points="0.5,15.2 -0.7,17.7 -2.2,16.8 -2.4,15.8 0.5,14.7" fill="#e75813"/><polygon points="11.8,9.3 11.1,10.0 8.2,10.7 8.1,10.6 9.1,7.9 10.0,7.7" fill="#e65613"/><polygon points="43.8,24.8 42.6,25.3 41.9,24.6" fill="#f8d519"/><polygon points="2.6,13.2 4.6,11.1 6.9,11.2 7.7,11.5 7.8,11.6 7.8,11.8 7.0,12.6 6.7,12.7 3.3,13.4" fill="#eb6615"/><polygon points="10.6,-3.6 11.8,-4.8 12.6,-3.0 10.5,-2.0 10.2,-2.0 10.0,-2.7" fill="#f4950c"/><polygon points="40.2,25.7 41.8,26.4 42.6,27.3 41.9,28.5 39.2,26.7" fill="#f9e335"/><polygon points="3.1,14.0 6.6,13.5 5.1,16.0" fill="#e24811"/><polygon points="12.7,-2.3 12.5,-2.8 11.1,-1.6 12.0,-0.5" fill="#f28811"/><polygon points="1.7,16.6 2.7,18.9 2.2,19.4 1.2,19.9 -0.2,18.4 -0.2,18.0 1.0,15.4" fill="#ee7217"/><polygon points="8.1,28.6 8.6,28.5 8.8,25.4 7.6,24.8 7.0,25.6 7.1,26.0" fill="#e55112"/><polygon points="14.6,17.3 14.4,20.4 14.0,20.6 12.8,19.4 14.5,17.3" fill="#e34911"/><polygon points="10.1,5.8 10.1,6.1 9.8,6.7 9.1,6.9 8.2,6.1 7.6,5.1 9.5,4.3" fill="#e75813"/><polygon points="5.8,28.5 5.1,28.5 5.0,26.7 5.7,25.9 6.4,25.9 6.5,26.2" fill="#e04110"/><polygon points="35.0,2.7 34.8,3.6 32.1,3.6 32.2,2.8 33.4,1.6 34.4,2.0" fill="#f8b806"/><polygon points="8.3,12.2 10.6,13.8 11.5,14.2 11.5,14.2 12.1,12.4 11.4,10.8 8.4,11.8" fill="#ec6b16"/><polygon points="2.0,15.9 4.7,16.4 4.7,16.2 4.6,16.0 2.9,14.3 2.2,14.1 1.5,14.1 1.5,14.1 1.2,14.7 1.3,15.1" fill="#e85d14"/><polygon points="23.4,10.6 21.3,11.2 19.7,12.8 19.7,13.4 20.3,14.9 23.1,15.5 23.1,15.4" fill="#e24611"/><polygon points="27.1,-1.2 27.8,-2.9 28.7,-1.1 27.5,-0.8" fill="#ee7117"/><polygon points="8.8,-2.5 6.7,-1.6 6.6,-1.2 7.8,0.3 9.9,-1.8 9.8,-2.6" fill="#ee7217"/><polygon points="12.3,12.5 14.2,11.6 14.3,11.8 13.7,13.9 12.2,14.1 12.1,14.1" fill="#f8df1f"/><polygon points="39.0,12.0 40.1,12.2 40.9,11.8 44.1,8.1 43.0,7.7 43.0,7.7 38.5,10.9" fill="#ea6215"/><polygon points="8.9,20.2 11.1,19.7 10.4,22.0 8.2,21.6 8.2,20.6" fill="#e14511"/><polygon points="23.3,3.3 23.5,3.1 24.7,2.6 26.3,3.0 26.4,4.4 23.3,4.5" fill="#ef7317"/><polygon points="8.5,19.9 8.8,17.2 8.5,17.2 7.1,19.4 7.8,20.5" fill="#e44d12"/><polygon points="33.9,20.7 33.7,19.0 32.9,19.3 32.7,19.5 32.2,20.4 33.4,21.3" fill="#ec6816"/><polygon points="35.3,0.8 34.8,1.8 35.6,2.4 37.0,1.7 37.5,0.7" fill="#f8b101"/><polygon points="13.9,17.0 11.9,15.0 11.7,15.0 11.7,15.0 11.0,16.9 11.9,18.6 12.3,18.7" fill="#f07a17"/><polygon points="9.7,3.8 7.0,4.6 6.2,3.8 8.1,1.6 8.5,1.8 8.8,2.0" fill="#e34b12"/><polygon points="-1.8,4.1 -2.6,5.1 1.1,4.5 1.1,4.4 0.8,3.4" fill="#f5990a"/><polygon points="23.5,10.1 23.6,9.8 22.2,7.7 21.8,10.8 23.4,10.2" fill="#e04210"/><polygon points="32.9,22.7 31.2,22.9 31.6,25.4 31.6,25.4 32.2,25.1 33.2,23.8" fill="#e96015"/><polygon points="29.0,25.9 27.9,25.6 27.9,24.8 28.9,24.6 29.5,25.7" fill="#e34c12"/><polygon points="15.3,17.0 15.9,20.3 16.2,20.3 18.7,17.7 19.0,16.4 16.5,16.3" fill="#ee7117"/><polygon points="36.0,21.0 34.2,21.0 33.6,21.5 33.5,22.0 35.3,22.4" fill="#f8db1c"/><polygon points="43.2,23.7 44.9,24.3 43.9,24.5 41.9,24.5 41.2,24.4" fill="#e65413"/><polygon points="31.8,4.7 32.6,5.9 33.8,7.3 35.0,7.6 35.2,7.6 35.5,6.2 35.1,4.3 32.1,3.9" fill="#ef7417"/><polygon points="31.8,20.1 30.3,20.6 29.9,20.0 30.8,19.1 32.3,19.4" fill="#f07818"/><polygon points="36.1,27.0 34.6,27.1 32.8,28.5 34.6,29.0 36.5,27.2" fill="#f8bd09"/><polygon points="3.4,0.1 3.7,-0.6 3.8,-0.7 5.9,-0.9 7.3,0.9 7.4,1.3 5.9,3.6 5.1,3.7" fill="#f8b604"/><polygon points="21.5,24.0 19.8,24.2 19.3,23.3 20.5,21.2 21.4,21.1 22.3,21.6 22.8,22.3" fill="#f8df1f"/><polygon points="13.4,23.0 11.4,23.3 10.7,25.1 11.6,26.0 13.9,26.0 14.2,25.8 14.1,25.2" fill="#f8be09"/><polygon points="-1.5,2.4 -2.1,0.6 -1.8,0.4 -0.8,0.3 0.9,1.1 0.6,2.2" fill="#f59a09"/><polygon points="20.3,1.9 19.0,1.7 18.9,0.6 19.1,-0.7 19.8,-0.8 20.4,-0.2" fill="#f8dd1e"/><polygon points="37.4,24.1 38.1,22.8 37.7,22.4 36.2,23.5" fill="#e44e12"/><polygon points="29.1,27.9 28.9,28.2 27.7,28.1 26.9,26.5 27.8,26.3 28.8,26.5" fill="#f8df1f"/><polygon points="24.9,28.6 24.9,28.9 24.5,29.5 23.3,28.9 23.9,27.7" fill="#f8bc08"/><polygon points="8.9,17.0 10.4,16.9 11.2,14.6 10.5,14.2 8.0,16.0 8.0,16.1 8.6,17.0" fill="#f17d16"/><polygon points="36.3,26.6 35.3,24.7 35.3,24.3 35.5,24.1 35.7,24.0 37.2,24.4 37.7,27.0 37.6,27.0 36.6,26.8" fill="#e85d14"/><polygon points="33.5,15.4 34.9,15.0 35.6,14.4 34.1,12.2 32.9,13.8" fill="#f28313"/><polygon points="37.7,17.3 35.6,17.3 35.1,18.3 36.2,19.0" fill="#f4970b"/><polygon points="2.4,16.9 3.1,18.9 4.4,18.5 4.8,16.9" fill="#e44d12"/><polygon points="29.0,22.9 28.8,24.1 28.0,24.5 27.5,23.4 28.2,22.8" fill="#f59d08"/><polygon points="33.9,-1.5 33.3,-0.6 30.8,-1.3 32.0,-4.6 34.1,-1.9" fill="#ea6415"/><polygon points="38.3,16.8 37.0,14.3 38.6,12.5 39.8,12.7 40.0,13.2 40.4,17.6" fill="#f18214"/><polygon points="35.9,7.9 36.4,6.5 39.1,4.4 41.8,6.8 36.4,8.2" fill="#ef7518"/><polygon points="31.8,8.3 33.3,7.8 34.2,8.2 33.5,10.3 32.1,11.0 31.6,9.0" fill="#e44e12"/><polygon points="27.0,20.5 25.8,20.9 25.3,22.4 25.8,23.2 26.9,23.2 27.8,22.7" fill="#ee7217"/><polygon points="8.8,19.8 11.3,18.9 11.4,18.8 10.9,17.5 9.3,17.7" fill="#eb6816"/><polygon points="34.3,-1.3 35.4,0.3 37.6,0.1 38.0,-0.5 37.3,-1.1 34.7,-1.8 34.4,-1.8" fill="#e44e12"/><polygon points="8.3,28.8 8.8,28.7 9.9,29.0 8.9,31.5 8.2,28.8" fill="#e24711"/><polygon points="5.4,16.2 6.8,13.5 7.1,13.3 7.3,15.8 7.3,15.9 5.5,16.4" fill="#f8c910"/><polygon points="7.3,10.1 8.1,10.6 8.5,7.7 7.3,7.0 6.0,7.9" fill="#f8d81b"/><polygon points="0.3,-1.8 2.7,-0.5 2.4,0.2 1.2,0.9 -0.2,-0.1" fill="#f8b101"/><polygon points="27.3,20.4 28.2,22.5 29.4,22.6 30.3,22.2 30.2,20.9 29.6,20.2 28.3,19.7" fill="#f28911"/><polygon points="36.1,26.8 34.7,26.8 34.0,26.0 35.1,24.8" fill="#e95f14"/><polygon points="35.6,23.6 35.5,22.4 36.2,21.1 36.6,20.9 37.1,21.1 37.8,22.1 35.7,23.6" fill="#e75713"/><polygon points="16.3,-0.7 18.4,0.9 18.6,2.1 16.2,2.8 16.0,2.6" fill="#f4970b"/><polygon points="36.2,13.8 34.5,11.8 34.3,10.5 35.2,8.4 35.4,8.3 36.0,8.7 37.5,11.1 38.1,12.2 36.7,13.8" fill="#e96115"/><polygon points="1.1,12.9 2.0,9.7 1.0,9.1 -0.6,9.8 -0.5,10.5 0.9,12.8 1.1,12.9" fill="#f4930c"/><polygon points="5.2,17.0 5.0,18.6 5.2,18.7 6.5,19.0 8.1,17.1 7.4,16.2 5.3,16.8" fill="#e24611"/><polygon points="10.7,28.4 11.6,26.5 14.0,26.3 13.5,27.9" fill="#ed6e17"/><polygon points="12.4,19.5 12.0,19.5 11.8,19.6 10.7,22.2 11.1,22.8 13.0,22.3 13.9,20.7" fill="#f4960b"/><polygon points="7.9,28.6 6.8,26.9 6.0,28.6 6.9,28.8 7.6,28.8 7.9,28.7" fill="#e85e14"/><polygon points="35.1,24.5 33.8,25.9 32.5,25.3 33.7,23.9 35.0,24.2" fill="#e44f12"/><polygon points="5.0,19.1 6.6,19.4 7.8,20.7 7.9,21.8 7.3,22.7 5.1,21.6" fill="#e85e14"/><polygon points="34.9,-1.9 36.8,-3.9 37.2,-2.2 37.2,-1.4" fill="#ec6b16"/><polygon points="36.0,20.9 34.4,20.8 34.0,18.9 34.2,18.5 35.0,18.5 35.9,19.2 36.4,20.6" fill="#f9e440"/><polygon points="33.5,26.3 32.3,25.7 31.7,25.9 31.8,26.7 32.7,28.3 32.7,28.3 34.2,27.0" fill="#ec6a16"/><polygon points="14.7,11.0 14.8,11.2 16.2,12.3 19.4,12.8 19.4,12.3 18.1,10.1 16.2,9.8 14.7,10.1" fill="#f28512"/><polygon points="20.8,-0.7 21.7,-1.9 19.9,-1.2 20.5,-0.5" fill="#f8e021"/><polygon points="36.9,20.4 36.5,19.2 38.1,17.4 38.3,17.2 40.2,17.9 40.3,18.0 37.3,20.5" fill="#e24711"/><polygon points="40.4,24.7 40.1,25.4 41.8,25.8 42.4,25.2 41.7,24.7 41.0,24.6" fill="#f28512"/><polygon points="-4.7,6.1 0.6,5.9 1.0,4.8 -2.9,5.0" fill="#f8ae01"/><polygon points="21.1,3.0 22.1,3.3 22.1,4.4 22.1,4.7 21.2,6.0 19.6,6.7 16.7,4.6 16.6,4.5 16.6,3.3 19.1,2.4 20.5,2.7" fill="#ed6e17"/><polygon points="1.6,13.4 2.3,9.7 3.8,10.0 4.0,10.5 2.2,13.2" fill="#f59a09"/><polygon points="4.1,22.4 4.1,23.6 7.1,22.9 7.1,22.9 5.0,21.8" fill="#e65413"/><polygon points="9.4,25.6 9.0,28.4 10.4,28.6 10.5,28.6 10.6,28.4 11.3,26.4 10.3,25.5" fill="#e24611"/><polygon points="32.9,15.5 32.3,14.1 31.1,13.4 28.3,15.0 31.3,16.3 32.6,16.0" fill="#ec6b16"/><polygon points="4.4,7.2 5.7,7.2 7.2,6.1 6.6,5.4 5.9,4.7 4.9,4.9 4.5,5.1 4.2,6.9" fill="#ed6f17"/><polygon points="28.5,18.9 27.3,15.3 27.7,15.4 31.0,16.9 31.0,17.7 30.6,18.6 29.9,19.5" fill="#e96115"/><polygon points="8.1,12.2 7.3,13.1 7.6,15.5 10.5,14.0" fill="#e65613"/><polygon points="31.5,26.9 32.4,28.8 31.0,30.9 29.1,28.6 29.3,28.2" fill="#ee7117"/><polygon points="0.9,20.1 -0.6,18.7 -3.1,20.2 0.8,20.3" fill="#ef7518"/><polygon points="37.1,2.1 39.0,4.0 39.0,4.2 36.0,5.9 35.6,4.0 35.6,3.1" fill="#e44f12"/><polygon points="30.6,4.8 29.0,6.5 32.1,5.7 31.3,4.7" fill="#e44d12"/><polygon points="25.2,28.5 25.3,28.8 26.4,28.9 27.3,28.6 27.4,28.5 26.7,26.4 25.6,26.1 25.5,26.2" fill="#f07a17"/><polygon points="13.4,3.2 14.4,2.9 15.5,3.1 15.8,3.2 15.7,4.2 13.6,6.0 13.3,5.9 12.7,4.0" fill="#e75914"/></g><g id="apos1"><polygon points="23.7,5.4 23.6,0.6 23.3,0.5 20.7,1.9 22.1,4.5 23.0,5.3" fill="#ea6215"/><polygon points="20.7,7.1 21.1,8.5 21.0,8.9 20.0,9.0 19.9,8.0 20.3,7.1" fill="#f17f15"/><polygon points="1.3,6.5 2.1,5.7 3.1,6.5 3.1,7.1 3.0,7.3 2.1,7.5" fill="#ea6315"/><polygon points="37.1,6.8 37.3,7.0 37.2,9.7 36.2,9.5 35.5,8.6 37.0,6.8" fill="#f18114"/><polygon points="38.7,2.8 39.5,2.0 41.7,1.9 42.1,2.5 41.8,3.9 41.1,4.5 38.9,3.6" fill="#e85c14"/><polygon points="29.0,18.1 28.8,18.9 29.2,19.3 30.4,19.4 30.0,18.2" fill="#e95e14"/><polygon points="0.3,20.2 0.7,17.6 0.6,17.3 -1.6,17.1 -2.1,19.2 -1.7,20.2 -0.6,20.8 -0.2,20.5" fill="#e75813"/><polygon points="41.2,6.0 42.2,6.8 44.0,5.7 42.1,4.3 41.3,4.9" fill="#e85a14"/><polygon points="24.4,19.4 25.7,19.0 26.0,19.8 25.2,21.2 24.3,21.3 23.7,21.0 23.7,20.8" fill="#e14411"/><polygon points="4.5,4.0 4.5,4.0 6.2,4.7 7.5,3.8 7.0,3.0 6.6,2.4 6.0,2.3" fill="#f28612"/><polygon points="3.4,8.0 4.4,8.6 5.7,7.7 5.9,7.5 3.3,7.3 3.3,7.4" fill="#e04110"/><polygon points="0.1,21.3 -0.3,21.5 -1.0,22.8 0.1,24.9 1.1,25.6 1.3,25.6 1.6,25.3" fill="#f38e0f"/><polygon points="8.4,12.6 9.7,12.1 10.0,12.8 10.0,14.7 9.8,14.9 8.2,15.0 8.0,12.8" fill="#ee7017"/><polygon points="38.1,7.6 37.1,10.1 38.3,11.0 38.4,11.0 40.1,9.3 39.2,7.8" fill="#e34a11"/><polygon points="20.8,6.8 22.5,5.9 21.7,5.1 19.8,5.3 19.3,5.9 20.3,6.7" fill="#e45012"/><polygon points="12.0,12.9 10.4,13.0 10.4,14.4 12.3,14.2 12.3,14.1 12.1,12.9" fill="#e85d14"/><polygon points="17.9,26.4 17.9,26.9 17.8,27.0 17.4,27.9 15.0,28.4 14.0,27.7 13.9,25.9 15.7,24.1 16.8,24.3" fill="#f7ab02"/><polygon points="30.5,24.7 30.9,24.9 31.2,26.0 29.9,26.4 28.5,24.9 29.6,24.5" fill="#f18015"/><polygon points="0.8,6.7 0.3,7.5 0.9,8.0 1.8,7.5 1.2,6.5" fill="#f8ce14"/><polygon points="7.9,4.1 9.6,4.8 10.6,4.3 8.9,2.2 7.3,2.9" fill="#f8d317"/><polygon points="2.7,2.2 2.2,0.6 3.1,-0.4 4.2,-0.3 4.9,1.1" fill="#ee7317"/><polygon points="27.6,26.9 26.6,28.9 29.2,29.8 29.3,29.6 28.6,27.6" fill="#e44e12"/><polygon points="26.6,26.4 26.7,26.7 25.7,28.9 24.0,29.8 23.9,29.1 24.0,27.7 24.7,26.4" fill="#e95f14"/><polygon points="2.8,2.5 4.9,1.6 5.4,2.1 4.3,3.8 2.6,3.2" fill="#e55112"/><polygon points="21.6,8.8 22.5,8.6 23.0,9.2 23.1,11.0 23.1,11.4 21.7,10.3 21.5,9.2" fill="#e44e12"/><polygon points="8.2,10.4 9.8,10.1 10.0,10.2 9.8,11.5 8.4,11.9" fill="#ee7317"/><polygon points="2.1,10.1 3.6,10.2 2.8,9.2 2.6,9.3" fill="#f5980a"/><polygon points="2.3,14.1 3.5,14.8 5.0,17.6 1.1,17.3 1.0,16.9 1.8,14.5 2.3,14.1" fill="#e44d12"/><polygon points="33.6,11.7 35.2,10.3 34.6,9.3 33.6,8.6 32.6,9.3 33.3,11.6" fill="#e55012"/><polygon points="3.3,8.4 4.2,9.0 4.7,10.3 4.5,10.5 3.9,10.1 3.1,9.1" fill="#f8b000"/><polygon points="23.2,10.9 23.9,8.6 23.1,9.2" fill="#f8ad01"/><polygon points="23.3,21.1 22.4,21.5 22.0,23.7 22.1,23.9 22.9,23.7 23.9,21.4" fill="#f38c0f"/><polygon points="17.0,6.4 16.9,8.8 14.5,7.6 15.5,6.1" fill="#e34c12"/><polygon points="-2.2,4.7 -2.2,2.5 -0.6,1.8 -0.1,3.7 -0.4,3.9" fill="#f18214"/><polygon points="7.6,22.6 7.0,22.6 5.6,20.7 5.9,18.2 6.8,17.6 7.8,18.8 8.0,22.2" fill="#fae64c"/><polygon points="33.0,19.5 31.6,17.9 31.8,16.3 32.0,16.1 34.2,17.1 33.0,19.5" fill="#f38a10"/><polygon points="7.9,4.7 9.4,5.1 9.3,5.3 8.2,7.2 7.5,7.3 6.5,7.0 6.4,6.4 6.7,5.7" fill="#ee7217"/><polygon points="33.3,1.6 35.3,3.7 36.6,2.2 36.0,1.5 33.3,1.3" fill="#e85b14"/><polygon points="19.4,5.0 20.0,2.1 18.7,1.7 17.8,4.2 18.0,5.7 19.0,5.8" fill="#f38a10"/><polygon points="16.0,15.2 13.5,16.0 13.0,19.3 13.1,19.4 15.8,18.1 16.3,15.3" fill="#f8c70f"/><polygon points="10.4,15.1 12.3,14.7 13.3,15.9 12.7,19.2 11.5,18.3 10.2,15.3" fill="#f4970b"/><polygon points="33.2,5.9 34.0,6.3 33.6,8.2 32.3,9.1 30.7,7.8 30.7,7.5 30.7,7.1" fill="#ea6315"/><polygon points="26.9,7.1 29.8,7.6 29.8,7.8 29.3,8.3 27.5,8.9 26.8,8.8 26.4,7.5" fill="#e14411"/><polygon points="18.0,15.2 18.0,15.2 19.8,16.2 17.7,18.2 16.1,17.8 16.8,15.5" fill="#e55112"/><polygon points="21.7,15.9 20.3,16.0 18.6,15.1 19.6,13.5 23.8,13.5 23.9,13.6 23.7,14.5 21.9,15.8" fill="#ec6816"/><polygon points="42.4,-2.5 39.4,0.6 39.5,1.7 41.6,1.4" fill="#e34a11"/><polygon points="0.8,10.8 0.8,11.7 -0.6,11.5 -2.2,9.7 -0.6,9.7 0.5,10.1" fill="#f8cd13"/><polygon points="0.2,7.6 0.2,7.6 -0.4,9.4 0.5,9.7 0.8,8.6 0.8,8.2" fill="#f38d0f"/><polygon points="-0.2,-1.1 1.1,0.6 0.8,0.8 -0.6,0.9 -1.0,-0.4" fill="#e44e12"/><polygon points="17.1,6.1 15.4,5.9 15.0,4.8 16.1,3.9 17.5,4.2 17.5,5.8" fill="#f59a0a"/><polygon points="10.6,26.9 12.3,25.7 10.9,25.2 10.4,25.3" fill="#f4930d"/><polygon points="40.0,17.7 39.7,17.1 41.2,15.9 42.0,17.4 41.8,17.8 41.2,18.2" fill="#f59d08"/><polygon points="10.0,24.4 10.5,24.4 11.1,23.5 11.3,22.0 8.5,22.8 8.0,23.1 9.0,24.2" fill="#ec6b16"/><polygon points="38.8,4.2 41.0,4.8 40.8,5.8 38.9,6.9 37.7,6.5 37.5,6.4" fill="#e34a11"/><polygon points="30.2,22.9 30.4,24.4 29.5,24.3 29.2,22.7 29.5,22.5" fill="#ec6a16"/><polygon points="16.7,12.7 17.7,14.6 16.5,14.9 16.2,14.8 16.2,14.7 15.3,12.8 15.8,12.4" fill="#f59b09"/><polygon points="2.7,29.1 -0.1,31.9 6.6,29.4 5.6,28.8" fill="#e75a14"/><polygon points="-0.5,-1.6 -0.2,-2.0 -1.8,-4.0 -2.7,-1.8 -2.2,-0.9 -1.2,-0.9" fill="#f28712"/><polygon points="2.4,21.7 5.0,21.4 6.5,22.6 5.0,24.3 2.8,24.5" fill="#eb6716"/><polygon points="26.3,23.6 24.9,24.8 24.7,26.0 27.2,26.2 27.5,25.0 26.5,23.8" fill="#f8cd13"/><polygon points="0.7,16.9 -2.0,16.5 -2.3,16.3 -2.4,14.0 1.5,14.5" fill="#f17f15"/><polygon points="1.8,0.4 1.2,0.6 0.0,-1.4 0.3,-1.9 1.5,-2.1 2.7,-0.7" fill="#f8bd09"/><polygon points="32.1,2.8 33.0,5.4 30.6,6.6 30.0,5.5 31.5,3.1" fill="#ea6215"/><polygon points="30.3,22.8 29.7,22.3 29.9,21.7 30.9,22.3" fill="#f8dd1e"/><polygon points="22.5,11.7 23.1,12.8 23.1,13.0 19.5,12.3 19.3,11.4 19.2,10.9 19.4,10.8 21.4,10.5" fill="#ee7117"/><polygon points="28.6,2.7 28.3,4.9 27.8,4.5 26.6,1.7 27.7,1.9" fill="#f4940c"/><polygon points="13.7,10.2 16.1,10.6 15.5,12.0 15.1,12.4 14.6,12.1 14.1,11.5" fill="#e44d12"/><polygon points="0.6,6.6 -0.2,4.5 -2.1,5.2 -3.0,6.2 0.0,7.3 0.0,7.3" fill="#e34911"/><polygon points="29.5,20.8 28.4,20.8 27.6,20.0 28.7,19.4 29.1,19.6 29.8,20.6" fill="#f8d317"/><polygon points="24.4,14.8 24.5,13.8 28.9,12.3 29.3,12.3 28.1,15.4 24.7,15.0" fill="#f38c10"/><polygon points="6.8,12.5 6.0,12.9 6.9,14.6 7.9,15.2 8.0,15.1 7.4,13.0" fill="#f4970b"/><polygon points="12.8,9.0 13.3,8.2 14.0,7.9 17.0,9.1 17.0,9.2 17.1,9.9 16.7,10.1 13.6,9.8" fill="#ed6e17"/><polygon points="27.9,25.4 28.4,25.3 29.5,26.3 28.5,27.0 27.6,26.6 27.6,26.4" fill="#e44f12"/><polygon points="2.3,25.9 2.0,26.2 2.6,28.3 5.0,27.8 4.8,25.2 3.0,25.3" fill="#f4960b"/><polygon points="21.0,7.0 23.0,5.8 23.6,5.9 23.8,6.1 23.9,6.2 22.6,8.1 21.7,8.4" fill="#f4910d"/><polygon points="39.0,15.7 40.9,14.4 41.1,14.7 41.1,15.4 39.9,16.8" fill="#e95f14"/><polygon points="6.0,10.2 5.9,7.8 4.5,8.7 4.9,10.4" fill="#e55313"/><polygon points="30.0,-0.2 25.3,-0.2 25.0,0.1 26.4,1.3 26.5,1.4 27.6,1.5" fill="#f17e16"/><polygon points="21.9,16.7 20.4,16.8 18.1,19.0 18.5,20.2 20.9,18.6 21.8,16.8" fill="#f8db1c"/><polygon points="35.4,16.3 35.9,16.2 36.8,15.3 36.5,13.9 33.5,12.5" fill="#f9e338"/><polygon points="41.1,6.3 42.1,7.2 42.0,8.8 41.4,9.3 40.5,9.4 39.3,7.3" fill="#f8c30d"/><polygon points="33.4,27.5 35.3,23.2 37.5,23.9 37.5,25.2 36.4,27.0 33.6,27.6" fill="#ef7317"/><polygon points="19.9,7.1 18.8,6.2 17.8,6.1 17.4,6.4 17.4,8.7 17.4,8.9 19.5,7.9" fill="#e14411"/><polygon points="1.2,10.9 1.2,11.9 2.2,13.7 2.3,13.7 3.7,12.4 4.3,10.8 3.6,10.4 2.0,10.4" fill="#e85b14"/><polygon points="1.1,8.2 1.2,8.6 2.6,9.1 2.8,9.0 3.2,8.0 3.0,7.5 2.1,7.7" fill="#e55112"/><polygon points="31.9,2.1 32.2,1.3 32.3,1.0 32.1,0.0 31.4,-0.7 30.7,-0.2 28.8,1.7 29.4,2.5 31.3,2.6" fill="#f8c60f"/><polygon points="32.5,11.7 32.1,9.7 30.5,8.6 30.0,8.9 29.8,11.6 32.1,11.9" fill="#f4970b"/><polygon points="33.0,2.6 33.6,5.5 34.1,5.9 35.0,5.6 35.0,4.1 33.3,1.7" fill="#e14310"/><polygon points="-0.1,25.0 -1.4,23.0 -1.5,23.1 -3.3,26.5" fill="#e34911"/><polygon points="31.6,22.0 33.4,22.0 33.8,21.8 33.8,21.7 33.1,20.6 33.0,20.6 32.3,20.4 30.5,20.7 30.4,21.0 30.4,21.3" fill="#ee7217"/><polygon points="14.7,28.7 14.7,28.7 13.1,30.3 12.5,29.0 13.8,28.0" fill="#f8b403"/><polygon points="31.7,20.1 30.8,19.5 29.7,19.4 30.2,20.8" fill="#e44e12"/><polygon points="12.7,19.6 12.8,19.7 12.7,20.3 11.5,21.0 8.5,22.0 8.7,18.9 11.6,18.8" fill="#e44d12"/><polygon points="16.9,12.6 17.9,14.5 17.9,14.5 18.8,12.5 18.5,11.6" fill="#ec6916"/><polygon points="33.1,20.1 31.4,17.9 30.5,18.3 31.0,19.4 32.3,20.1" fill="#ee7317"/><polygon points="24.3,6.0 25.2,6.5 25.8,6.8 26.4,6.5 28.2,5.5 28.1,5.4 27.6,5.1 25.8,4.7 24.2,5.8" fill="#ec6a16"/><polygon points="31.0,17.4 30.1,17.9 29.0,18.0 29.0,16.5 31.2,15.8" fill="#e65613"/><polygon points="2.3,2.6 1.8,1.0 1.2,1.1 1.0,1.2 1.3,3.6 1.5,3.7 2.1,3.3" fill="#f28612"/><polygon points="14.5,12.7 15.1,12.8 15.6,14.4 13.6,14.0" fill="#f8b906"/><polygon points="-1.2,-0.5 -2.2,-0.5 -3.5,1.1 -2.6,1.9 -1.0,1.1 -0.9,1.0" fill="#e34b12"/><polygon points="12.4,12.6 12.6,14.1 13.3,13.8 14.0,12.5 13.5,11.9" fill="#eb6615"/><polygon points="39.5,17.7 39.4,17.2 38.5,16.4 38.0,16.2 37.8,18.5 38.3,18.5" fill="#e14511"/><polygon points="11.5,8.8 10.2,5.4 10.2,5.1 11.0,4.6 11.4,4.3 12.5,7.8 12.1,8.7" fill="#e65613"/><polygon points="37.6,18.7 37.3,18.7 36.2,16.5 37.1,15.5 37.5,15.8" fill="#f8ad01"/><polygon points="42.1,17.1 44.0,15.7 42.5,14.8 41.7,14.7 41.6,15.4" fill="#f07918"/><polygon points="27.7,4.5 25.9,4.0 26.3,1.7 26.5,1.7" fill="#e24811"/><polygon points="40.3,10.1 41.2,10.0 42.5,12.0 41.2,12.7 39.1,11.3" fill="#f8d217"/><polygon points="24.4,25.0 23.0,24.1 22.0,24.1 22.0,24.2 23.2,26.8 23.5,27.2 24.3,26.2" fill="#f8c20c"/><polygon points="7.8,15.7 7.0,17.0 5.7,17.5 5.3,17.4 3.8,15.4 6.7,15.4" fill="#f8ae01"/><polygon points="11.0,9.9 12.3,11.8 12.4,11.9 13.7,11.4 13.2,10.3 12.4,9.6 11.7,9.7" fill="#f38e0f"/><polygon points="21.6,24.1 21.6,24.2 20.3,25.8 18.4,26.0 17.3,23.9 18.1,23.2 21.4,23.9" fill="#f8c810"/><polygon points="22.6,16.5 24.2,15.1 24.5,15.3 25.4,18.6 24.1,18.8" fill="#f4950b"/><polygon points="18.7,27.4 22.9,28.9 23.1,29.6 22.4,31.6 19.4,28.5 18.7,27.5" fill="#f5990a"/><polygon points="6.3,5.4 6.1,6.1 3.9,5.8 4.3,4.5" fill="#ee7017"/><polygon points="20.5,25.9 22.9,27.0 21.8,24.4" fill="#f8c30d"/><polygon points="10.7,4.0 11.3,3.7 12.0,2.9 10.9,0.8 10.3,0.6 9.2,2.2" fill="#f59b09"/><polygon points="34.2,22.1 34.6,22.5 33.1,27.2 32.5,27.1 31.6,25.9 31.5,25.0 33.7,22.4" fill="#e24611"/><polygon points="18.7,26.3 18.7,26.8 23.0,28.9 22.9,27.7 22.6,27.3 20.4,26.2" fill="#f28512"/><polygon points="6.9,10.8 7.9,10.7 8.0,12.0 7.6,12.1 7.1,11.8 6.8,10.8" fill="#f07718"/><polygon points="41.9,23.7 40.3,26.3 37.9,25.2 37.8,23.6 38.3,23.4" fill="#e85d14"/><polygon points="12.6,14.5 12.6,14.5 13.5,15.7 15.8,14.9 15.8,14.8 13.4,14.0" fill="#f8e022"/><polygon points="15.7,3.5 16.2,0.6 12.7,3.0 14.7,4.3" fill="#f38a10"/><polygon points="30.0,26.7 31.3,26.3 32.4,27.5 29.6,29.3 28.9,27.5" fill="#f18114"/><polygon points="36.7,6.5 35.3,8.7 34.3,8.1 34.5,6.2 35.5,6.0" fill="#f07a17"/></g><g id="apos2"><polygon points="0.6,25.5 1.1,22.1 0.7,21.6 -0.5,23.1 0.4,25.9 0.4,25.9" fill="#ef7317"/><polygon points="32.0,26.1 27.7,25.6 27.6,26.9 29.2,27.8 29.5,27.9 31.8,27.3" fill="#e44e12"/><polygon points="13.8,8.9 15.4,5.6 17.3,6.6 14.9,8.9 13.9,9.1" fill="#ed6e17"/><polygon points="25.1,24.6 26.8,24.5 27.1,23.9 26.9,22.4 24.4,22.0 24.0,22.6" fill="#f28811"/><polygon points="14.2,19.5 14.6,20.7 13.6,21.3 12.4,20.2 12.6,19.0 13.4,18.8" fill="#f8cd13"/><polygon points="35.9,0.6 35.5,1.3 38.6,2.3 38.4,0.9 37.1,0.2" fill="#f8d71a"/><polygon points="41.7,25.5 40.0,24.8 38.8,23.8 38.9,23.6 42.0,23.8" fill="#f8bf0a"/><polygon points="9.0,12.1 9.9,10.1 10.1,10.0 11.2,10.5 10.3,13.6 10.3,13.6" fill="#e85a14"/><polygon points="17.2,23.5 18.1,21.8 18.4,21.7 18.8,21.6 19.1,21.8 19.6,24.2 19.4,24.2" fill="#f8b503"/><polygon points="10.1,7.4 10.4,9.6 11.5,10.0 12.8,10.0 13.5,9.2 13.4,9.0 13.1,8.2 12.2,7.6" fill="#e75713"/><polygon points="-0.5,8.7 -1.1,8.9 -1.8,8.0 -2.9,5.3 -0.7,5.9 -0.2,6.8" fill="#f8d116"/><polygon points="37.1,13.9 37.2,14.0 38.7,14.8 40.7,14.2 40.8,14.1 40.6,12.8" fill="#fae64c"/><polygon points="31.6,19.8 31.6,20.3 29.5,20.3 28.6,17.4 30.5,17.7 30.8,17.8" fill="#f8b906"/><polygon points="31.8,11.0 31.6,10.0 32.3,9.8 35.8,10.0 35.7,11.7 35.5,12.0 33.2,12.2 31.9,11.4" fill="#f9e336"/><polygon points="18.1,25.7 19.3,25.3 19.5,25.2 19.8,25.7 17.7,26.9" fill="#ea6215"/><polygon points="13.1,23.1 13.8,24.7 16.1,21.6 15.0,21.3 13.8,21.7" fill="#e65613"/><polygon points="8.4,15.8 8.4,15.8 6.0,14.1 5.4,14.5 6.3,16.9 8.0,16.1" fill="#f8cf15"/><polygon points="1.6,24.2 1.4,22.1 1.4,22.1 0.6,25.3" fill="#f59d08"/><polygon points="25.4,6.8 23.9,5.9 22.8,6.9 25.1,8.5 25.5,7.9" fill="#f3900e"/><polygon points="35.8,12.6 33.5,13.1 33.2,14.5 35.7,16.3 36.6,13.8 36.5,13.7" fill="#e55112"/><polygon points="27.9,11.0 29.0,9.1 26.3,9.9 26.9,10.9 27.9,11.1" fill="#f28811"/><polygon points="41.1,27.1 39.6,27.7 39.4,28.2 40.2,29.4 41.4,29.4 42.6,27.8 41.8,27.1" fill="#f8d317"/><polygon points="24.0,-2.1 23.9,-1.3 25.6,0.8 26.9,0.3 27.2,-0.6 24.5,-2.7" fill="#f8c810"/><polygon points="2.3,1.1 2.2,1.6 -1.3,1.5 -2.4,0.9 -1.5,0.2 0.7,-0.4" fill="#ec6a16"/><polygon points="23.6,17.2 21.6,18.6 23.6,20.3 24.9,19.7 25.3,16.6" fill="#e24611"/><polygon points="16.0,17.4 16.3,18.6 18.2,20.7 18.6,20.5 19.0,19.1 17.0,16.9 16.9,16.9" fill="#ef7417"/><polygon points="9.3,22.9 9.3,22.2 8.9,22.0 7.6,22.1 6.7,22.8 8.3,24.6" fill="#e95f14"/><polygon points="32.0,27.7 29.7,28.2 34.0,32.2 34.1,31.9" fill="#e14511"/><polygon points="10.6,4.8 13.7,4.8 14.2,4.4 14.1,2.7 13.6,2.4 9.7,3.8 9.8,4.5" fill="#e75a14"/><polygon points="36.4,24.0 35.1,22.2 33.3,23.8 33.3,23.9 35.4,24.2" fill="#f8e020"/><polygon points="5.6,3.0 6.8,2.6 4.9,0.9 3.6,0.7 3.0,1.4 2.9,1.9 3.0,2.2 4.5,3.0" fill="#e85c14"/><polygon points="13.5,25.6 12.3,25.7 10.9,26.8 11.6,28.4 14.0,26.7 13.6,25.7" fill="#f28313"/><polygon points="41.8,23.5 42.8,22.9 41.4,21.2 39.5,22.2 39.4,23.3" fill="#f8bf0a"/><polygon points="12.7,13.8 13.5,12.3 12.7,10.8 11.5,10.8 10.6,13.5 11.1,13.8" fill="#ec6b16"/><polygon points="24.3,4.1 23.9,5.5 25.6,6.3 26.0,5.8" fill="#f8be0a"/><polygon points="16.6,24.3 16.8,24.1 17.7,21.5 16.2,21.6 14.0,24.9 14.0,25.2 14.1,25.3 16.4,24.5" fill="#f3900e"/><polygon points="27.1,16.5 28.0,17.2 27.1,21.2 27.0,21.4 25.1,19.7 25.8,16.6 26.1,16.3" fill="#e34911"/><polygon points="10.8,22.1 12.7,23.0 13.5,21.5 12.3,20.5" fill="#fae64c"/><polygon points="24.9,9.3 24.8,8.9 22.6,7.1 20.1,7.3 20.1,7.8 21.6,11.2 22.7,11.3" fill="#f07917"/><polygon points="3.8,25.6 2.9,26.5 3.2,27.1 4.6,27.5 5.5,26.0 5.5,25.9 5.2,25.3" fill="#e14310"/><polygon points="10.2,18.7 10.6,18.4 11.5,18.7 11.7,18.8 11.5,20.1 10.4,21.7 9.8,21.9 9.5,21.6 9.8,19.0 10.0,18.8" fill="#e04110"/><polygon points="26.5,11.2 26.5,11.3 25.9,14.6 23.4,11.4 25.1,9.6 25.8,10.0" fill="#ea6115"/><polygon points="38.6,18.1 41.4,17.3 41.0,14.6 38.8,15.1" fill="#f28612"/><polygon points="20.1,25.5 21.1,26.0 21.2,26.0 22.2,24.9 21.9,23.5 20.0,22.6 19.8,25.2" fill="#eb6816"/><polygon points="23.9,31.0 25.7,28.3 22.7,28.3 22.7,28.4" fill="#e44f12"/><polygon points="34.2,26.7 33.0,25.9 32.8,26.1 32.7,27.4 34.1,31.8 35.0,29.4 34.9,28.2" fill="#f4920d"/><polygon points="39.0,1.0 40.0,0.3 41.5,0.6 42.8,2.7 42.0,3.1 39.6,3.0 39.1,2.4" fill="#e65413"/><polygon points="3.6,6.5 3.2,6.9 3.6,9.0 4.4,6.8" fill="#ea6515"/><polygon points="4.8,22.3 4.7,19.1 5.6,18.9 6.9,21.8 6.1,22.6 5.7,22.9" fill="#f38e0f"/><polygon points="33.3,-2.3 30.5,-3.0 30.1,-1.5 31.1,-0.6 31.9,-0.6" fill="#f18214"/><polygon points="14.0,1.8 14.1,1.9 14.6,2.3 15.9,1.9 16.7,-0.3 15.6,-2.0 14.0,1.3" fill="#f9e43f"/><polygon points="33.5,6.0 33.4,7.9 32.3,9.0 31.8,9.2 31.0,8.0 30.6,6.2 32.0,5.1 32.7,5.0" fill="#f5980a"/><polygon points="39.3,-1.9 39.9,-0.5 40.1,-0.3 41.5,0.1 41.7,-3.1" fill="#f8ba07"/><polygon points="7.2,27.8 8.9,28.6 9.2,26.9 9.1,26.8" fill="#f8b604"/><polygon points="20.2,18.2 21.3,18.0 23.2,17.0 22.4,16.4 20.2,15.2" fill="#f59c09"/><polygon points="28.7,11.3 30.9,11.1 31.0,11.6 30.6,12.1 29.3,13.3 28.6,11.3" fill="#f8bd09"/><polygon points="8.5,16.3 9.0,16.8 9.8,18.1 9.6,18.2 8.2,16.6" fill="#fae547"/><polygon points="3.3,9.1 3.2,9.7 2.5,10.0 2.3,9.4 2.0,7.6 2.0,7.5 2.0,7.4 2.5,7.2 3.0,7.0" fill="#ec6a16"/><polygon points="14.9,27.9 12.4,29.7 13.8,31.1 15.4,28.4" fill="#e04010"/><polygon points="28.5,21.4 27.4,21.9 27.4,22.1 27.3,22.3 27.7,23.9 31.2,22.4 31.3,21.3" fill="#eb6615"/><polygon points="5.0,7.0 5.8,7.6 4.5,9.9 3.7,9.8 3.7,9.2 4.8,7.0" fill="#ed6e17"/><polygon points="28.2,10.8 29.4,9.2 30.4,8.8 31.2,9.6 31.4,10.6" fill="#f4950b"/><polygon points="15.6,4.9 17.6,5.7 19.0,5.7 19.3,4.7 18.8,3.4 16.1,2.9 14.7,3.3 14.9,4.5" fill="#f07718"/><polygon points="8.2,-4.2 9.9,-1.7 7.5,-1.8" fill="#ea6215"/><polygon points="8.6,4.5 8.5,3.8 8.3,3.5 7.6,3.1 7.3,3.1 6.4,3.5 5.9,6.5 6.5,7.0 7.0,7.0 8.5,5.5" fill="#e96015"/><polygon points="9.0,21.2 9.2,19.4 6.0,18.6 5.7,18.9 7.6,21.1" fill="#f38b10"/><polygon points="9.2,16.7 10.4,17.2 10.5,18.2 10.0,18.4" fill="#e75914"/><polygon points="12.2,7.2 13.2,7.9 13.5,5.8 12.2,6.2" fill="#f5990a"/><polygon points="33.0,23.6 32.0,22.4 32.1,21.1 32.1,21.1 34.7,20.9 34.6,21.9" fill="#f07918"/><polygon points="36.3,18.8 36.4,18.9 35.0,20.8 32.2,21.0 32.1,20.6 32.1,20.0" fill="#ec6b16"/><polygon points="29.0,21.2 31.5,21.1 31.5,21.0 31.4,20.7 29.7,20.7" fill="#ea6315"/><polygon points="28.5,13.9 26.7,11.5 25.8,15.0 26.1,15.7 27.1,15.9" fill="#ea6415"/><polygon points="1.5,6.8 2.0,6.5 1.1,4.9 -0.0,5.9 0.2,6.5" fill="#ea6415"/><polygon points="25.2,25.1 26.7,25.1 26.8,25.5 26.7,26.7 26.2,27.6 25.7,27.9 23.3,28.0 22.6,26.8 23.4,25.5" fill="#f17f15"/><polygon points="10.5,4.8 13.9,5.0 13.5,5.7 12.2,6.0" fill="#e65513"/><polygon points="10.1,-0.1 8.6,2.4 7.6,2.1 7.1,-1.0 7.5,-1.1 10.2,-1.2 10.3,-1.2" fill="#e85c14"/><polygon points="1.9,7.6 2.2,9.3 1.5,8.4" fill="#e65413"/><polygon points="12.6,16.7 12.1,18.3 12.3,18.4 13.1,18.2 14.1,17.1 13.6,15.8 13.5,15.8" fill="#e65413"/><polygon points="1.5,7.2 1.5,7.1 0.4,6.8 -0.3,8.8 0.0,8.8 0.4,8.5" fill="#f8bc08"/><polygon points="6.5,27.8 5.8,29.6 5.2,28.9 4.9,27.8 5.9,26.1" fill="#e55012"/><polygon points="36.1,6.8 34.3,6.1 33.9,7.8 36.5,8.5 37.0,7.9" fill="#f8ba07"/><polygon points="25.3,3.1 25.8,1.6 27.3,0.6 28.0,2.6 27.8,3.7" fill="#f8dc1d"/><polygon points="10.0,16.5 8.9,15.7 8.9,15.7 8.7,15.9 8.7,15.9 9.2,16.6 10.1,17.1 10.1,17.0" fill="#f38c10"/><polygon points="0.1,-4.6 -1.2,-0.3 0.7,-0.6 1.0,-1.2" fill="#ef7518"/><polygon points="14.2,26.9 14.9,27.8 12.2,29.6 11.4,29.3 11.5,28.8" fill="#e34c12"/><polygon points="3.7,0.3 5.0,0.5 6.3,-1.6 5.1,-2.4 3.8,-1.2" fill="#e44f12"/><polygon points="24.5,3.8 26.0,5.4 28.6,4.8 28.1,3.9 24.9,3.4 24.5,3.6" fill="#f8cb12"/><polygon points="5.7,3.8 5.1,6.4 4.8,6.4 3.6,6.1 3.5,5.4 4.5,3.8" fill="#f7ab02"/><polygon points="36.5,17.7 36.4,16.9 36.8,14.1 38.1,15.1 38.0,18.4 37.4,18.9 37.1,18.7 37.0,18.6" fill="#ed6d16"/><polygon points="0.6,8.8 0.1,9.1 2.3,10.4 2.6,10.2 2.3,9.6 1.4,8.5" fill="#f59a09"/><polygon points="17.9,27.3 19.9,25.9 20.9,26.6 20.4,27.0 18.9,28.1 17.6,27.9 17.8,27.5" fill="#e44e12"/><polygon points="32.6,24.2 32.3,25.4 32.1,25.5 27.9,24.9 27.8,24.6 27.9,24.2 31.4,23.3 32.5,24.1" fill="#f8c20c"/><polygon points="19.1,12.8 18.5,12.6 17.7,10.7 20.0,8.2 21.0,11.4 20.5,11.9 19.6,12.8" fill="#ef7618"/><polygon points="36.8,4.4 34.8,2.8 33.5,4.6 34.3,5.6 36.0,6.3" fill="#e55213"/><polygon points="4.1,3.3 2.9,2.5 1.6,4.2 3.1,5.1" fill="#f3900e"/><polygon points="24.0,21.5 26.9,22.2 26.9,21.9 25.1,20.1 23.8,20.8" fill="#e24811"/><polygon points="1.3,-1.2 1.0,-0.5 2.7,1.0 3.3,0.3 3.5,-1.1 2.7,-1.4" fill="#f17e16"/><polygon points="11.2,28.8 11.1,29.2 9.4,30.4 9.1,28.8 9.5,27.1 10.6,27.1" fill="#f17f15"/><polygon points="28.5,20.7 27.5,21.0 28.0,17.8 28.3,17.9 29.2,20.3" fill="#e24811"/><polygon points="27.8,0.1 29.0,2.0 30.4,1.0 30.6,0.1 29.5,-1.0 28.0,-0.7" fill="#f8b805"/><polygon points="3.2,22.7 3.0,24.2 3.7,25.3 5.0,24.8 5.3,23.3 4.4,22.6" fill="#e14411"/><polygon points="9.9,23.3 9.9,22.7 10.8,22.5 12.8,23.2 13.2,24.6 13.2,24.8 11.9,25.2 10.3,24.3" fill="#e45012"/><polygon points="4.5,27.8 4.9,28.9 3.0,28.9 2.8,28.7 2.9,27.5" fill="#f9e441"/><polygon points="14.6,15.0 15.6,13.2 16.1,13.4 16.2,15.4" fill="#f28811"/><polygon points="3.0,6.1 2.6,6.6 2.3,6.6 1.4,4.6 1.5,4.4 1.5,4.4 2.9,5.4" fill="#ea6515"/><polygon points="13.8,15.0 13.9,15.1 14.5,15.0 15.2,13.4 14.7,13.0 13.6,12.4 13.1,13.9" fill="#e85b14"/><polygon points="20.4,19.2 19.7,20.9 19.9,21.2 21.7,22.9 22.7,22.0 22.9,21.4 22.8,20.7 21.3,18.8 20.4,19.1" fill="#e24811"/><polygon points="34.4,26.3 32.7,25.6 33.0,24.1 35.5,24.7" fill="#e14511"/><polygon points="11.1,15.5 11.0,14.4 12.7,14.3 13.2,15.3 12.3,16.2 11.9,16.1" fill="#e75813"/><polygon points="38.9,24.0 38.5,24.5 39.0,27.3 40.5,26.6 39.8,25.0" fill="#f38f0e"/><polygon points="20.1,14.1 22.4,15.5 20.9,12.4 19.9,13.1" fill="#f59d08"/><polygon points="35.9,17.6 35.8,16.8 33.1,14.7 31.6,17.2" fill="#e14210"/><polygon points="24.4,2.9 23.4,2.6 21.8,0.8 23.4,-0.2 25.1,1.6 24.7,2.7" fill="#ee7117"/><polygon points="1.0,4.0 -1.2,1.7 2.5,1.9 2.6,2.3 1.1,4.0" fill="#ea6315"/></g><g id="bneg0"><polygon points="36.9,17.2 34.4,19.5 33.7,19.1 33.1,18.5 32.6,17.5 33.5,16.6 34.6,16.0 36.6,16.4" fill="#4ba7f8"/><polygon points="35.3,25.4 35.7,25.9 35.8,25.9 36.6,25.8 36.7,25.6 37.2,23.8 37.0,23.7" fill="#44a3f7"/><polygon points="21.1,-1.7 22.0,-1.6 22.3,-2.2 21.0,-4.5" fill="#1176ea"/><polygon points="17.8,21.0 19.2,18.6 19.2,17.8 18.0,17.8 17.3,19.5" fill="#b6ddfe"/><polygon points="0.2,10.0 3.4,11.6 3.5,12.0 1.3,12.7" fill="#1784f1"/><polygon points="35.9,26.2 36.4,26.3 38.4,28.2 35.7,30.3 35.3,29.7" fill="#1d88f1"/><polygon points="33.6,20.0 31.4,22.4 33.4,22.6 34.6,21.2 34.2,20.5" fill="#59b1fa"/><polygon points="18.3,9.7 18.2,9.9 16.1,11.8 16.1,11.8 13.9,10.7 14.8,8.5 15.7,8.5" fill="#44a3f7"/><polygon points="24.3,14.7 24.0,14.8 23.8,13.5 23.8,12.6 25.8,10.2 26.2,10.0 26.7,10.3 26.4,11.4" fill="#40a0f6"/><polygon points="23.2,12.6 21.6,12.9 20.8,13.7 20.6,14.1 23.4,13.7" fill="#137eee"/><polygon points="21.0,24.8 23.7,24.2 23.9,25.6 21.2,28.1 21.1,28.1 20.6,25.9" fill="#1b87f1"/><polygon points="15.3,24.7 16.0,24.2 18.0,24.5 18.7,25.3 16.8,27.1 15.7,26.5 15.1,25.0" fill="#3c9df6"/><polygon points="17.0,21.4 17.0,20.1 15.3,20.1 16.4,22.2 17.0,21.6" fill="#2f94f4"/><polygon points="29.5,22.4 28.2,21.1 28.4,20.3 28.5,20.2 29.3,19.4 30.1,21.0" fill="#47a4f7"/><polygon points="23.5,12.2 25.2,9.9 22.0,9.5 21.1,9.7 21.8,12.4" fill="#2b92f3"/><polygon points="11.1,29.7 14.4,30.9 14.3,30.8 12.5,29.2" fill="#56affa"/><polygon points="38.0,7.2 38.0,7.2 39.2,7.0 39.0,3.9 37.6,4.1" fill="#268ef3"/><polygon points="35.5,21.6 35.6,21.8 34.9,24.7 33.6,24.4 33.6,23.0 34.9,21.4" fill="#1d88f1"/><polygon points="34.9,3.1 36.8,3.8 36.9,7.3 34.9,7.0 34.4,4.4 34.6,3.3 34.7,3.1" fill="#1583f0"/><polygon points="3.5,27.6 5.9,26.7 6.4,27.7 5.8,28.9 3.1,28.7" fill="#379af5"/><polygon points="19.0,9.7 19.0,10.0 20.4,13.2 21.1,12.5 20.6,9.9 19.1,9.7" fill="#1f89f2"/><polygon points="15.8,15.4 15.8,14.1 16.2,13.3 16.2,13.3 19.8,15.2 20.2,16.4 19.8,16.8 19.5,16.9 18.3,17.0 16.4,16.3" fill="#79c0fb"/><polygon points="8.8,21.3 9.2,22.0 12.1,21.3 12.5,19.6 12.3,19.3 10.0,18.8 8.6,20.1" fill="#43a2f7"/><polygon points="40.2,0.5 41.1,-0.3 40.7,-0.6 36.2,-2.6 35.6,-1.9 38.0,0.7" fill="#3095f4"/><polygon points="6.3,-0.3 7.5,2.8 7.5,2.8 8.6,2.3 9.2,1.5 7.2,-0.6" fill="#42a1f7"/><polygon points="18.4,24.6 20.1,24.0 20.5,24.6 20.2,25.6 19.1,25.5" fill="#238cf2"/><polygon points="12.5,29.0 14.4,30.8 14.2,28.6 13.0,28.7" fill="#c4e4fe"/><polygon points="28.1,20.2 27.9,21.0 25.7,20.4 25.7,19.9 26.9,18.7" fill="#137dee"/><polygon points="6.8,25.1 7.8,23.1 4.7,23.7 4.7,24.0 6.1,25.9" fill="#4da8f8"/><polygon points="5.1,21.4 7.4,21.5 7.3,20.1 5.5,17.5 4.0,19.3" fill="#228bf2"/><polygon points="4.2,4.8 2.8,3.8 3.2,2.6 4.8,2.5 6.6,2.9 6.0,3.7" fill="#3b9cf6"/><polygon points="22.2,0.0 22.7,0.2 20.9,0.8 20.3,-0.4 20.7,-0.6" fill="#238cf2"/><polygon points="27.3,17.6 26.7,16.7 24.6,16.1 24.2,16.1 23.3,16.7 24.0,17.5 25.7,19.0 26.8,18.2" fill="#1072e8"/><polygon points="42.0,9.5 41.0,10.7 38.6,10.2 38.1,7.9 39.2,7.7 39.8,7.8" fill="#1073e9"/><polygon points="32.0,10.3 34.3,8.1 35.7,11.2 34.3,12.2" fill="#2b91f3"/><polygon points="35.9,2.9 38.1,1.2 39.6,1.0 39.2,3.0 38.8,3.4 37.9,3.6" fill="#1986f1"/><polygon points="7.5,25.2 8.6,23.4 8.9,23.1 10.9,25.7 9.0,26.1" fill="#127aec"/><polygon points="25.6,0.2 26.5,-1.9 27.0,-0.2 25.8,0.6" fill="#73bdfb"/><polygon points="12.6,16.4 15.3,15.8 15.8,16.8 13.9,18.9 13.1,19.0 12.9,18.8" fill="#cbe8ff"/><polygon points="20.9,23.7 20.8,22.6 22.6,22.0 23.5,22.6 23.6,22.8 23.3,23.9 21.3,24.3" fill="#1074e9"/><polygon points="27.6,17.7 27.0,18.5 28.4,20.0 28.4,20.0 27.9,17.8" fill="#1179ec"/><polygon points="5.1,-1.5 4.9,-1.0 4.5,-0.8 0.8,-0.9 0.6,-1.1 -0.1,-2.9 3.7,-2.4" fill="#43a2f7"/><polygon points="11.1,16.3 12.1,16.2 12.2,16.3 12.5,18.7 10.2,18.2 10.1,17.7" fill="#a8d7fd"/><polygon points="-0.4,0.6 -3.6,1.8 -2.3,3.0 -1.0,3.2" fill="#a7d6fd"/><polygon points="3.9,10.6 3.8,10.9 0.1,9.7 -0.3,9.5 1.3,6.9 1.6,7.1" fill="#0f71e8"/><polygon points="40.1,6.8 40.0,7.0 39.5,6.9 39.3,3.7 39.7,3.3 40.8,4.8 40.8,5.0" fill="#49a6f8"/><polygon points="40.2,14.3 41.2,13.7 40.8,11.7 38.4,11.2 37.7,11.7 37.8,12.8 38.4,14.3" fill="#4faaf9"/><polygon points="2.9,2.0 0.9,-0.0 4.6,-0.4 4.5,1.8" fill="#1177eb"/><polygon points="13.6,7.1 9.5,9.4 8.9,8.8 11.0,5.9 13.2,6.1" fill="#1177eb"/><polygon points="6.4,-2.4 6.7,-0.8 5.9,-0.4 5.5,-1.1 5.7,-1.6" fill="#51abf9"/><polygon points="24.4,-0.6 25.2,0.1 26.5,-1.9 26.4,-2.3" fill="#3b9df6"/><polygon points="32.9,25.4 33.6,26.7 33.5,27.8 32.3,27.2 32.9,25.4" fill="#4da9f8"/><polygon points="37.0,17.3 34.8,20.2 35.2,21.0 35.9,21.2 38.1,20.1 38.3,18.8" fill="#3a9bf6"/><polygon points="7.9,-4.2 9.8,0.8 9.4,1.1 7.3,-0.7 6.7,-2.3" fill="#2890f3"/><polygon points="33.8,3.0 30.4,1.5 30.0,1.3 29.4,1.6 28.6,2.8 31.3,4.7 33.6,4.1" fill="#1a86f1"/><polygon points="21.5,28.2 24.2,26.2 25.3,26.8 25.8,28.2 23.8,29.0" fill="#268ef3"/><polygon points="3.7,23.6 2.3,24.0 2.2,23.8 0.9,21.4 1.0,20.9 2.5,19.6 2.8,19.6 4.1,21.8 3.8,23.4" fill="#3598f5"/><polygon points="30.4,1.0 33.9,-1.8 31.3,-2.1 30.4,-0.7 30.1,0.9" fill="#1784f0"/><polygon points="20.3,17.5 20.8,17.0 22.9,17.0 23.3,17.9 21.9,20.0 21.5,19.8" fill="#2d93f4"/><polygon points="13.7,5.6 11.5,5.0 9.5,1.9 10.0,1.3 10.3,1.1 13.2,0.9 13.4,1.0 14.2,1.7" fill="#79c0fb"/><polygon points="18.0,4.5 15.8,1.5 17.2,1.2 19.0,3.2 19.2,4.2 18.6,4.7" fill="#1075ea"/><polygon points="32.4,25.8 29.7,25.6 30.0,26.9 30.5,27.1 32.0,27.1" fill="#b2dbfe"/><polygon points="19.6,18.5 19.5,20.8 21.3,20.0 20.0,17.4 19.7,17.6" fill="#1583f0"/><polygon points="4.7,23.4 5.1,21.9 8.1,21.9 8.6,22.5 8.6,22.8 8.3,23.1" fill="#2a91f3"/><polygon points="12.4,14.0 15.5,13.8 15.9,12.8 13.5,11.0 12.5,11.3 12.1,13.6" fill="#258df2"/><polygon points="38.4,20.4 35.9,21.4 36.0,21.6 37.1,23.2 37.2,23.3 39.0,23.8 39.8,23.9 40.9,22.3" fill="#47a5f8"/><polygon points="27.9,14.8 29.5,14.1 30.0,11.9 29.9,11.0 27.1,10.2 27.1,11.4" fill="#1985f1"/></g><g id="bneg1"><polygon points="13.4,19.7 13.3,17.9 15.8,18.7 15.6,19.0 13.7,19.7" fill="#238cf2"/><polygon points="32.3,20.6 34.8,20.5 35.0,19.4 34.3,18.1 34.1,18.1 31.7,19.9" fill="#44a3f7"/><polygon points="19.1,8.9 20.2,5.8 20.1,5.3 18.6,5.0 17.8,7.1 17.9,8.5" fill="#3196f4"/><polygon points="-1.4,8.2 0.4,9.5 1.8,8.6 1.7,6.1 -0.8,5.3 -1.6,5.6" fill="#0f71e8"/><polygon points="31.5,25.2 31.0,25.5 31.0,25.9 31.1,26.9 33.4,28.0 33.6,26.8" fill="#3a9cf6"/><polygon points="22.4,10.2 22.8,9.1 24.2,9.8 23.0,10.5" fill="#1e89f2"/><polygon points="35.4,11.5 34.1,9.8 33.6,10.8 33.5,12.8 34.8,13.7 35.1,13.8" fill="#42a1f7"/><polygon points="17.8,2.9 18.4,1.3 21.3,1.5 22.2,3.1 22.2,3.4 20.6,4.7 19.0,4.5 17.9,3.0" fill="#47a4f7"/><polygon points="19.2,10.3 19.2,10.3 17.9,13.5 20.9,13.5 21.0,13.1 20.2,11.2" fill="#52acf9"/><polygon points="30.0,-4.1 31.0,-2.6 31.5,-1.0 30.1,0.8 29.8,-2.8" fill="#2d93f4"/><polygon points="12.9,2.3 13.4,4.2 13.4,4.3 11.5,3.6 11.5,2.5 12.0,1.5" fill="#1176ea"/><polygon points="14.3,5.3 14.1,7.3 12.7,7.4 12.7,7.2 12.7,6.6 13.7,4.4 13.7,4.4 13.8,4.4" fill="#2a91f3"/><polygon points="28.2,15.3 26.7,14.8 26.3,14.1 25.9,12.5 25.9,12.4 29.1,12.2 29.7,13.9" fill="#127bed"/><polygon points="39.3,16.6 39.2,16.5 40.4,12.5 42.1,14.4 41.1,16.9 40.1,16.9" fill="#4da9f8"/><polygon points="32.0,24.6 32.5,22.9 35.5,23.3 35.5,24.0 35.5,24.7 35.4,24.8" fill="#49a6f8"/><polygon points="13.7,20.4 15.4,20.0 15.8,22.6 14.8,22.8 13.9,21.6" fill="#3a9cf6"/><polygon points="11.7,21.8 11.6,24.9 12.3,25.0 14.1,23.3 13.5,22.1" fill="#0f6ee7"/><polygon points="25.9,4.3 25.0,2.6 24.9,2.6 22.9,3.1 22.8,3.4 24.0,6.0" fill="#7dc2fc"/><polygon points="23.6,-2.0 22.9,-3.6 21.0,-1.9 21.9,-0.5" fill="#49a6f8"/><polygon points="41.8,27.6 42.0,28.4 40.8,30.4 40.0,28.3 41.0,27.6" fill="#1178eb"/><polygon points="-0.5,24.3 -2.9,22.7 -1.2,20.5 -0.9,20.4 -0.1,21.2" fill="#258df2"/><polygon points="39.0,15.7 40.1,12.5 39.9,11.1 38.7,11.7 37.1,14.7 37.2,14.8" fill="#41a1f7"/><polygon points="23.2,9.1 22.8,8.1 24.4,7.2 25.8,8.5 25.8,8.8 25.4,9.5 24.5,9.6" fill="#258ef3"/><polygon points="29.7,17.3 31.8,16.2 31.4,14.3 30.0,14.2 28.4,15.6 29.6,17.2" fill="#2e93f4"/><polygon points="31.2,24.8 30.7,25.1 28.8,23.7 28.3,22.6 28.6,22.1 31.8,22.8 31.8,23.0 31.3,24.6" fill="#3799f5"/><polygon points="1.3,20.4 1.2,18.3 1.7,17.9 4.8,18.3 4.9,19.1 4.8,19.2 3.0,21.0" fill="#42a1f7"/><polygon points="19.1,25.4 20.0,27.7 22.5,27.2 20.8,24.8" fill="#43a2f7"/><polygon points="19.5,9.3 19.4,9.3 19.1,9.2 20.8,6.1 21.7,7.7" fill="#afdafe"/><polygon points="15.9,14.4 13.5,14.9 13.2,14.6 15.7,14.3" fill="#137fee"/><polygon points="20.1,17.3 19.6,17.4 17.2,17.3 17.3,14.9 17.6,14.8 20.6,14.3 21.0,14.9 21.4,16.0" fill="#1481ef"/><polygon points="16.7,14.0 17.0,14.2 17.3,14.1 19.1,9.9 18.7,9.7 17.4,9.3 16.9,9.5 16.4,10.1 16.6,13.9" fill="#389af5"/><polygon points="24.4,18.9 25.9,19.4 27.9,21.5 27.9,21.8 27.7,22.3 26.5,22.4 25.0,21.6 24.2,19.4" fill="#127ded"/><polygon points="42.5,26.2 41.5,24.6 41.4,22.9 42.4,22.6 43.1,26.1" fill="#1e89f1"/><polygon points="6.7,15.8 5.7,11.4 5.4,11.1 2.7,13.3 5.6,16.7" fill="#3397f5"/><polygon points="16.1,18.5 16.2,18.3 16.4,17.5 16.2,15.1 16.0,14.9 13.6,16.6 13.9,16.9" fill="#3e9ef6"/><polygon points="31.7,10.9 32.9,10.7 32.7,12.9 32.3,13.1 31.0,11.4" fill="#2b92f3"/><polygon points="30.5,25.3 28.6,24.0 27.6,25.6 28.1,26.8 30.4,25.7" fill="#3e9ef6"/><polygon points="15.8,14.3 16.2,14.5 16.3,14.6 12.8,16.7 12.7,16.7 13.5,15.2" fill="#95cefd"/><polygon points="36.8,3.7 42.4,2.4 41.4,0.7 36.8,2.1" fill="#42a1f7"/><polygon points="15.9,13.9 16.4,14.0 16.2,10.3 14.7,10.6 13.6,12.7 14.0,13.0 15.8,13.8" fill="#51acf9"/><polygon points="15.1,14.2 13.9,13.2 13.2,14.3 13.4,14.6" fill="#268ef3"/><polygon points="14.9,0.8 16.6,2.7 17.2,2.7 17.9,1.1 17.8,0.9 15.3,0.3 14.9,0.6" fill="#1179ec"/><polygon points="36.2,10.8 34.7,9.4 34.7,9.1 36.3,7.2 40.2,8.9 40.1,9.1 39.8,9.7 38.5,10.5" fill="#389af5"/><polygon points="27.6,27.0 27.1,25.9 25.1,26.0 24.7,26.7 27.6,27.2" fill="#1073e9"/><polygon points="20.3,17.7 19.8,17.8 19.8,20.3 21.0,20.3 21.1,20.2" fill="#3095f4"/><polygon points="5.9,23.8 5.6,19.6 5.7,19.4 7.5,21.0 7.7,24.7 7.1,24.6" fill="#137eee"/><polygon points="10.3,12.1 9.7,14.8 9.5,15.2 7.2,15.7 6.5,11.7 10.1,11.5" fill="#137eee"/><polygon points="28.4,1.6 26.7,-0.0 25.9,0.0 25.2,2.4 25.3,2.5 27.5,2.2" fill="#b5ddfe"/><polygon points="16.1,19.4 16.0,22.6 16.7,22.9 18.0,22.1 18.6,20.4 16.6,18.8 16.4,19.0" fill="#2f94f4"/><polygon points="28.4,30.8 27.7,27.6 24.4,27.2 23.9,27.8 28.3,31.9" fill="#1176ea"/><polygon points="4.0,26.7 5.0,26.9 5.4,28.2 2.7,28.0" fill="#137fef"/><polygon points="10.8,11.7 13.2,12.3 14.1,10.2 11.8,9.5 10.9,10.2 10.6,11.0" fill="#4ba7f8"/><polygon points="4.3,24.4 5.4,24.2 7.0,25.0 5.4,26.3 4.3,26.3" fill="#3b9cf6"/><polygon points="10.9,3.8 13.6,4.5 12.3,6.4 9.7,4.7" fill="#1583f0"/><polygon points="14.2,0.8 14.1,1.1 13.3,2.1 12.3,1.2 12.0,-0.2 12.1,-0.2 13.3,0.1 14.2,0.6" fill="#248df2"/><polygon points="30.6,7.2 31.3,5.5 33.9,5.0 35.1,5.4 35.3,6.0 33.7,8.3 31.0,7.9" fill="#c1e3fe"/><polygon points="37.6,19.4 35.3,19.7 35.1,20.8 36.0,22.3 37.6,21.5" fill="#4da8f8"/><polygon points="22.0,10.5 20.8,10.8 21.4,13.0 22.9,12.3 22.6,10.8" fill="#2a91f3"/><polygon points="22.3,7.5 23.9,6.7 23.9,6.7 23.8,6.2 22.6,3.8 21.0,5.1 21.0,5.6 22.2,7.5" fill="#1178eb"/><polygon points="26.6,5.1 24.3,6.5 24.2,6.0 26.0,4.7" fill="#2b91f3"/><polygon points="23.2,10.6 23.6,12.0 25.7,12.2 25.7,12.1 25.5,10.2 24.5,10.2" fill="#42a1f7"/><polygon points="37.0,29.7 34.6,28.6 36.4,28.3 37.6,28.7" fill="#3498f5"/><polygon points="9.9,10.9 6.1,10.8 5.8,10.5 5.6,9.8 7.0,6.2 7.9,7.1 10.2,10.0" fill="#40a0f6"/><polygon points="1.9,23.4 2.7,21.4 1.1,20.9 0.4,21.4 -0.2,24.5 -0.2,24.5" fill="#4ba7f8"/><polygon points="10.7,19.9 10.4,17.0 9.6,16.0 7.0,16.4 5.9,17.3 5.4,18.2 5.5,19.0 8.0,20.6 10.6,20.0" fill="#43a2f7"/><polygon points="2.7,23.7 3.4,21.5 5.0,19.5 4.8,23.7 3.9,24.1" fill="#3598f5"/><polygon points="13.1,15.3 12.4,16.6 10.9,16.5 10.1,15.7 10.2,15.3 12.5,14.6 12.9,14.9" fill="#42a1f7"/><polygon points="2.2,23.9 0.4,25.1 0.3,27.1 1.2,28.7 1.8,28.2 3.3,26.4 3.5,24.4" fill="#208af2"/><polygon points="0.3,13.0 2.1,12.9 4.9,10.5 4.8,9.9 2.4,9.3 0.9,10.3" fill="#137eee"/><polygon points="0.7,17.7 1.3,17.3 -0.5,14.6 -0.7,14.7 -1.8,17.8 -0.1,18.0" fill="#1072e9"/><polygon points="42.1,26.5 41.8,27.2 40.9,27.2 39.1,26.1 41.2,25.1" fill="#3f9ff6"/><polygon points="30.5,26.3 28.1,27.1 28.0,27.4 28.8,30.0 30.7,27.2" fill="#4ba7f8"/><polygon points="5.6,3.9 2.4,5.9 2.5,8.6 5.2,9.7 6.6,5.8 6.6,5.4" fill="#1481f0"/><polygon points="-0.3,18.5 -1.6,18.3 -2.5,18.8 -1.3,20.1 -1.0,20.0" fill="#248df2"/><polygon points="0.8,20.4 0.8,18.4 0.1,18.7 -0.7,20.1 0.1,20.9" fill="#1380ef"/><polygon points="11.1,19.8 11.1,17.1 12.5,17.0 12.5,17.0 12.8,17.2 12.9,19.6" fill="#278ff3"/><polygon points="35.8,24.1 38.6,24.4 38.5,25.8 38.4,25.8 36.4,25.0 35.9,24.6" fill="#218bf2"/><polygon points="41.3,22.8 40.2,22.4 39.8,22.5 39.1,23.9 38.6,25.6 38.7,25.6 41.1,24.6" fill="#1178eb"/><polygon points="26.5,22.9 27.9,22.7 28.4,23.8 27.3,25.5 24.8,25.8 24.8,25.6" fill="#3095f4"/><polygon points="25.3,-0.0 25.5,0.1 24.8,2.2 22.8,2.5 21.8,1.2 21.9,0.8" fill="#1073e9"/><polygon points="14.6,1.0 16.6,2.8 15.5,3.1 14.5,1.2" fill="#0f70e8"/><polygon points="38.8,16.6 38.7,16.6 37.1,15.9 34.8,18.1 35.3,19.4 37.5,18.7" fill="#258df2"/><polygon points="9.5,5.0 7.8,5.5 7.8,5.9 8.4,6.8 11.1,6.8 11.1,6.3" fill="#2f94f4"/><polygon points="11.1,20.3 13.1,20.0 13.5,20.0 13.5,21.5 11.2,21.2 11.0,20.3" fill="#1481f0"/><polygon points="34.1,17.7 34.3,17.7 36.7,15.5 36.6,15.3 35.4,14.3 34.9,14.3 32.7,16.4" fill="#127aec"/><polygon points="18.9,25.4 18.1,25.5 17.4,26.9 18.2,28.1 19.3,27.9 19.4,27.8" fill="#40a0f6"/><polygon points="10.7,20.7 8.1,21.2 8.5,24.7 9.3,25.2 11.3,24.9 11.0,21.6" fill="#1073e9"/></g><g id="bneg2"><polygon points="12.3,14.5 13.9,11.5 15.5,11.8 16.3,12.3 15.5,13.7 15.0,14.4 12.9,14.9" fill="#2e94f4"/><polygon points="40.0,6.7 39.1,7.8 37.9,8.4 37.7,8.2 37.2,4.7 37.6,4.4 37.7,4.5" fill="#268ef3"/><polygon points="21.8,23.2 24.4,20.5 24.5,20.3 20.6,21.5 20.2,23.0" fill="#5cb2fa"/><polygon points="11.5,19.9 11.5,19.6 9.8,19.0 8.8,20.0 8.8,21.0 10.5,21.4 11.3,20.4" fill="#44a3f7"/><polygon points="38.2,10.3 38.0,11.1 39.4,12.4 40.8,12.2 40.8,12.2 40.6,11.2" fill="#1e89f2"/><polygon points="9.8,17.5 10.6,17.0 11.8,17.5 12.3,18.5 11.7,19.5 9.9,18.6 9.6,18.0" fill="#1179ec"/><polygon points="4.6,14.1 6.3,12.3 6.2,10.4 5.2,10.9 3.7,14.6 3.7,14.6" fill="#399bf5"/><polygon points="30.6,15.8 28.4,12.6 27.9,12.7 28.0,15.0 28.7,15.6" fill="#56affa"/><polygon points="2.7,16.0 2.1,16.2 1.7,18.1 2.0,20.9 2.5,20.9 3.5,20.8 3.6,18.1" fill="#40a0f6"/><polygon points="11.5,12.2 12.9,11.2 13.2,11.4 12.0,14.4 11.3,14.0" fill="#3f9ff6"/><polygon points="26.3,18.6 26.0,17.5 26.5,16.6 27.6,16.1 28.4,16.6 27.7,18.7 27.2,18.8" fill="#3e9ff6"/><polygon points="-0.9,8.8 0.3,8.2 -3.5,2.3 -1.6,8.6" fill="#1075ea"/><polygon points="1.9,26.3 -0.8,27.1 -0.9,27.0 -2.3,24.5 -0.5,23.4" fill="#1074e9"/><polygon points="15.3,7.3 14.8,6.5 15.0,6.2 17.3,5.3 17.4,5.4 16.5,7.0" fill="#85c6fc"/><polygon points="10.4,11.6 10.7,9.9 12.7,10.5 13.0,10.9 11.1,11.9" fill="#1075ea"/><polygon points="41.3,10.3 43.8,10.7 41.1,12.1 41.0,11.2" fill="#57b0fa"/><polygon points="-1.1,14.5 -4.0,14.7 -5.3,14.4 -1.2,11.8 -0.6,12.2" fill="#94cdfd"/><polygon points="14.8,2.0 12.2,-0.3 10.2,0.8 11.4,3.2 12.6,3.6 14.7,2.3" fill="#0f70e7"/><polygon points="32.6,16.5 32.0,20.4 35.5,19.8 36.0,17.7 33.0,16.3" fill="#0f6ee7"/><polygon points="38.2,10.0 40.7,11.0 40.9,10.1 40.8,9.6 39.4,8.2 38.3,8.7" fill="#1177eb"/><polygon points="4.0,15.3 4.0,15.3 3.8,15.4 3.5,16.0 4.2,17.8 6.2,17.4 6.4,17.1 6.7,16.2" fill="#1482f0"/><polygon points="14.5,18.5 13.6,18.2 15.0,15.3 15.9,17.7" fill="#3598f5"/><polygon points="23.1,-2.4 24.7,-2.6 24.4,-1.5 23.2,-1.7" fill="#3799f5"/><polygon points="38.1,17.0 39.5,12.8 40.9,12.6 42.1,15.2 39.1,17.1 38.5,17.1" fill="#3196f4"/><polygon points="18.8,31.7 18.8,31.9 16.4,29.1 16.6,27.6 18.5,28.3" fill="#137fef"/><polygon points="3.5,14.5 2.7,12.7 2.4,10.8 4.3,11.2 3.7,14.4" fill="#4aa6f8"/><polygon points="39.1,1.0 39.2,0.4 37.5,-1.3 36.9,-1.6 36.2,0.1 37.5,1.8" fill="#1178eb"/><polygon points="9.3,18.0 9.4,18.6 8.3,19.7 7.5,18.9 7.3,18.1 7.6,17.8" fill="#1f8af2"/><polygon points="39.2,21.9 40.0,22.2 39.1,24.8 38.9,22.1" fill="#218bf2"/><polygon points="35.3,11.3 36.7,11.5 37.5,10.9 37.7,10.1 37.8,8.9 37.5,8.7 35.8,8.4" fill="#1177eb"/><polygon points="15.1,21.1 12.4,19.8 12.3,20.3 14.4,21.9 15.1,21.5 15.1,21.1" fill="#137fee"/><polygon points="31.2,7.5 30.5,6.3 28.8,6.5 26.3,8.6 27.5,11.7 27.9,11.9 28.5,11.8 30.1,11.2 31.3,8.7" fill="#1075ea"/><polygon points="8.2,15.7 8.7,15.7 9.8,15.2 10.2,14.6 8.9,13.7 8.1,13.5 7.6,14.6" fill="#3095f4"/><polygon points="6.4,5.7 5.4,4.5 3.5,3.8 3.6,6.8 5.5,7.5 6.2,6.3" fill="#d6edff"/><polygon points="10.3,15.4 10.7,14.7 11.0,14.5 11.7,14.8 12.1,15.2 11.7,17.0 10.7,16.7" fill="#d7edff"/><polygon points="35.8,20.0 35.8,20.7 36.6,21.5 38.4,20.9 38.7,20.8 38.4,18.0 38.0,17.9 37.2,18.0 36.8,18.2" fill="#1583f0"/><polygon points="-2.5,20.2 -5.2,19.5 -2.6,18.7 -2.1,19.3 -2.4,20.2" fill="#379af5"/><polygon points="20.3,17.4 22.6,17.6 23.6,16.5 23.5,15.3 20.7,15.6 20.5,15.8" fill="#1176ea"/><polygon points="17.7,5.0 16.8,2.5 19.1,1.0 19.8,3.6 19.2,5.2 17.8,5.0" fill="#0f6ee7"/><polygon points="19.5,25.5 19.3,24.5 19.5,23.9 20.0,23.5 21.7,24.0 23.3,24.6 21.7,26.7 21.4,26.8" fill="#3d9ef6"/><polygon points="35.9,7.8 37.5,8.2 36.6,4.8 36.4,4.8 35.5,7.5" fill="#53acf9"/><polygon points="34.1,25.1 36.7,25.2 37.4,25.9 34.9,27.6 33.3,26.8" fill="#3498f5"/><polygon points="14.4,5.9 14.9,2.6 12.9,4.0 14.0,6.2 14.2,6.2" fill="#0f71e8"/><polygon points="21.8,28.2 23.7,27.6 21.9,27.1 21.7,27.1" fill="#49a6f8"/><polygon points="6.1,9.8 5.0,10.3 2.7,10.3 2.2,9.5 1.7,8.4 2.9,7.1 5.5,7.8 6.2,9.7" fill="#137eee"/><polygon points="5.0,14.1 6.7,12.5 7.9,13.3 8.0,13.4 7.5,14.5" fill="#2a91f3"/><polygon points="26.1,8.3 28.3,6.4 24.7,3.9 23.8,4.3 23.2,5.9 24.9,8.1" fill="#1482f0"/><polygon points="22.9,3.2 21.7,0.6 22.1,0.4 24.6,0.7 24.9,1.0 24.5,3.3 23.6,3.8" fill="#137dee"/><polygon points="2.3,12.6 2.4,10.6 1.8,9.8 0.2,11.9" fill="#248df2"/><polygon points="5.0,-2.9 7.4,0.5 2.7,2.7 0.4,0.9" fill="#1074e9"/><polygon points="11.0,4.1 11.0,3.5 9.4,1.4 8.3,1.3 8.3,3.4 10.2,4.5" fill="#1178eb"/><polygon points="15.6,20.8 14.6,18.9 16.1,17.9 18.2,18.5 15.6,20.8" fill="#379af5"/><polygon points="15.6,21.7 16.7,22.4 15.1,23.7 14.6,23.7 13.8,23.3 14.5,22.3" fill="#2890f3"/><polygon points="19.1,0.5 20.0,3.5 22.4,3.1 21.0,0.5 19.2,0.3" fill="#cbe8ff"/><polygon points="7.1,5.5 5.7,4.3 8.1,0.9 8.3,1.0 7.9,3.9 7.4,5.2" fill="#1784f0"/><polygon points="9.6,17.2 10.4,16.7 9.9,15.5 8.9,16.1" fill="#1884f1"/><polygon points="23.6,24.3 22.1,23.7 24.5,20.7 24.6,24.5" fill="#50abf9"/><polygon points="27.0,12.5 24.8,14.6 26.2,15.4 27.2,14.8 27.6,12.6 27.3,12.4" fill="#1583f0"/><polygon points="36.2,-1.4 35.8,-0.1 33.8,0.8 33.1,-1.1 35.6,-2.9" fill="#137fef"/><polygon points="33.1,23.7 31.4,23.1 29.3,25.2 30.4,26.4 31.7,27.0 32.5,26.6 33.7,24.8" fill="#66b7fb"/><polygon points="15.1,20.9 14.0,19.0 13.2,18.6 12.6,18.5 12.2,19.3 12.2,19.6" fill="#1480ef"/><polygon points="-0.6,22.7 -2.5,23.6 -3.6,23.2 -2.2,21.1 -2.1,21.1 0.0,22.0 -0.2,22.4" fill="#5bb1fa"/><polygon points="31.7,21.0 31.4,21.2 31.7,22.0 33.4,23.0 35.2,21.7 34.9,20.8" fill="#1073e9"/><polygon points="1.1,7.9 2.4,6.5 2.3,3.6 2.2,3.3 -0.1,1.4 -1.0,1.3 -3.3,1.9 -3.2,2.0 0.3,7.9" fill="#2c92f4"/><polygon points="9.4,5.9 7.6,5.6 7.3,5.8 7.2,6.4 9.1,7.3 9.8,6.7" fill="#2f95f4"/><polygon points="25.8,24.9 26.9,24.4 27.0,20.0 26.1,19.7 24.8,20.2 24.8,20.2 24.8,20.5 24.8,24.2" fill="#137eee"/><polygon points="2.6,26.1 2.5,25.1 1.4,23.8 0.3,22.7 -0.1,23.1 2.1,26.2 2.5,26.1" fill="#248df2"/><polygon points="8.0,16.6 7.7,17.6 9.0,17.7 9.2,17.2 8.7,16.1 8.3,16.2" fill="#3c9df6"/></g><g id="bpos0"><polygon points="27.5,-0.2 26.6,-1.5 26.1,-1.4 24.3,-0.7 23.9,-0.5 24.1,0.6 27.4,-0.1" fill="#f38a10"/><polygon points="20.7,27.9 21.9,29.0 22.3,28.4 21.7,26.7 21.4,26.8 20.9,27.3" fill="#ea6415"/><polygon points="4.9,16.5 4.3,12.9 3.6,12.6 2.2,13.3 2.1,16.8" fill="#e85b14"/><polygon points="14.8,21.5 15.5,21.2 15.3,20.1 14.2,19.2 14.0,19.2 13.6,21.2" fill="#e85c14"/><polygon points="10.1,10.8 8.2,10.6 7.8,8.9 9.3,7.8 10.4,8.0 11.6,8.8 11.1,10.1 11.0,10.2" fill="#e04110"/><polygon points="11.0,22.5 10.3,21.7 9.5,21.5 8.6,22.2 8.8,26.0 10.2,26.2 11.2,25.9 11.4,25.7" fill="#f8b302"/><polygon points="7.5,1.9 5.5,0.3 4.2,3.0 6.6,2.5 7.4,2.0" fill="#f07a17"/><polygon points="4.7,28.7 6.4,26.4 6.7,26.5 6.5,28.9 6.1,29.5 5.5,29.8 4.8,29.4" fill="#ec6a16"/><polygon points="-0.7,1.8 -0.7,1.7 -3.5,1.8 -2.0,3.6 -1.6,3.2" fill="#f28612"/><polygon points="38.6,28.0 37.7,26.7 36.5,27.5 35.5,28.4 35.5,28.6 35.8,29.5" fill="#eb6515"/><polygon points="0.3,3.3 -0.5,4.3 -1.3,3.3 -0.2,1.8 0.3,1.9" fill="#ec6b16"/><polygon points="37.6,3.9 37.5,4.1 35.9,2.9 36.0,2.7 36.6,2.3" fill="#e44f12"/><polygon points="14.9,2.8 14.0,2.4 13.2,4.2 13.2,4.6 14.8,3.2" fill="#f8d71a"/><polygon points="31.3,3.6 31.8,3.7 31.4,4.4 28.9,6.5 28.9,6.4 28.1,4.2 30.9,3.6" fill="#eb6716"/><polygon points="22.9,20.4 21.0,19.1 22.7,18.4 23.2,20.4" fill="#e04110"/><polygon points="11.4,3.6 11.5,3.5 12.8,4.5 13.0,4.8 13.1,5.4 11.7,5.4 10.5,4.5 10.5,4.4" fill="#ea6415"/><polygon points="22.5,21.0 20.4,21.1 19.7,19.6 19.4,18.9 20.4,19.1" fill="#fae548"/><polygon points="7.4,-1.9 9.7,-0.2 9.7,-0.2 9.7,-2.8" fill="#f9e230"/><polygon points="19.7,12.0 20.9,13.3 19.9,13.4 18.8,13.1 18.9,12.7" fill="#f8bc08"/><polygon points="6.4,17.3 7.0,16.7 7.6,16.6 10.0,17.2 8.3,19.2 7.7,18.9" fill="#e85b14"/><polygon points="15.2,12.4 17.2,9.8 17.0,9.4 16.2,9.0 14.9,11.8 14.9,11.8" fill="#eb6716"/><polygon points="33.4,10.8 33.6,11.0 35.5,12.0 36.4,11.4 35.4,10.2 34.0,10.2" fill="#e65513"/><polygon points="3.5,6.7 2.4,8.9 1.6,8.6 2.6,6.3" fill="#e24911"/><polygon points="23.2,-0.2 23.7,1.4 23.5,2.9 23.2,2.8 22.0,2.0 21.8,1.7 22.3,0.0" fill="#e04210"/><polygon points="13.8,2.2 13.0,1.4 12.3,1.1 11.7,3.1 12.9,4.1" fill="#f8c30c"/><polygon points="34.7,-0.0 32.7,1.4 31.6,-0.1 32.9,-3.3 35.6,-1.2" fill="#ea6115"/><polygon points="8.5,1.9 10.8,3.2 10.0,4.2 8.4,3.0 8.1,2.3 8.2,2.2" fill="#ea6415"/><polygon points="19.1,19.0 18.8,18.6 17.4,18.7 16.8,20.9 19.2,19.7" fill="#e55313"/><polygon points="34.9,15.2 36.5,14.9 37.2,12.0 36.7,11.9 35.6,12.5 35.0,14.1 34.8,15.2" fill="#eb6716"/><polygon points="26.6,22.7 24.9,23.1 24.4,22.8 24.0,21.8 23.8,20.9 25.1,20.4" fill="#f07918"/><polygon points="22.7,24.7 24.1,23.1 23.6,22.2 21.0,23.7" fill="#ef7417"/><polygon points="20.0,11.9 21.1,13.2 22.1,13.6 21.8,11.0 20.5,10.5 20.0,11.7" fill="#f8dc1d"/><polygon points="3.2,9.1 4.0,10.4 6.5,8.9 5.5,7.7" fill="#ed6f17"/><polygon points="0.6,1.3 0.9,1.3 1.3,0.7 0.6,-1.8 0.6,-1.8 -0.7,-0.8 -0.4,0.5 0.1,1.1 0.1,1.2" fill="#eb6515"/><polygon points="22.0,26.6 22.9,25.7 24.1,26.6 24.1,27.4 22.5,28.3" fill="#f5980a"/><polygon points="34.7,13.9 33.3,11.4 35.5,12.2" fill="#e44d12"/><polygon points="21.3,26.1 19.7,25.3 19.7,24.1 20.9,24.3 22.4,25.0 22.5,25.3 21.6,26.0" fill="#f07818"/><polygon points="7.5,2.7 6.7,3.1 5.8,5.9 5.9,6.0 7.7,5.0 7.9,3.4" fill="#f07718"/><polygon points="15.3,3.2 16.0,3.1 16.9,3.4 16.9,5.2 14.7,6.3 14.7,6.3 14.5,6.0 15.2,3.6" fill="#f8cc13"/><polygon points="38.6,28.2 36.0,29.6 36.3,30.8 38.7,28.3" fill="#f07b17"/><polygon points="35.4,28.1 36.3,27.4 35.1,25.5 35.2,28.0" fill="#e65613"/><polygon points="17.5,28.9 15.9,28.9 16.4,27.9 17.6,27.6" fill="#f8b504"/><polygon points="10.4,-4.7 11.7,-2.6 11.9,-0.6 11.6,-0.1 10.0,-0.2 9.8,-3.1" fill="#e85d14"/><polygon points="32.7,26.9 35.0,28.2 35.2,28.3 35.1,28.5 32.7,29.0 31.6,28.8" fill="#ea6215"/><polygon points="14.5,14.0 11.0,14.5 11.0,15.6 11.3,16.7 12.4,17.3 12.6,17.4 13.0,17.0" fill="#f28811"/><polygon points="1.6,5.1 0.7,5.3 0.7,3.5 0.8,2.0 1.0,2.0 2.8,3.1" fill="#e04010"/><polygon points="32.1,3.8 31.7,4.6 32.8,6.9 33.0,6.9 34.0,3.6 32.8,3.2" fill="#ea6315"/><polygon points="25.6,5.5 25.7,8.3 24.9,8.0 24.2,7.2 24.7,4.0 25.4,4.0" fill="#f8de1f"/><polygon points="32.9,11.2 33.1,11.4 34.4,14.1 34.2,15.5 34.1,15.5 32.6,14.7 31.2,13.5 31.9,11.4" fill="#f28512"/><polygon points="22.9,25.3 24.3,26.1 25.5,25.3 24.8,23.7 24.2,23.5 22.9,24.9" fill="#e04010"/><polygon points="-2.9,7.9 -0.8,10.1 -0.0,8.7" fill="#f28313"/><polygon points="36.0,5.1 35.6,5.0 35.1,3.9 35.9,3.1 37.2,4.1 37.2,5.1" fill="#f59a0a"/><polygon points="10.0,26.6 8.6,26.5 7.2,26.6 7.0,28.9 8.0,29.4 8.9,29.5" fill="#f28413"/><polygon points="30.6,25.9 29.1,28.1 28.2,27.3 27.9,25.7 28.3,25.0" fill="#f07b17"/><polygon points="37.0,15.0 40.5,15.1 40.8,14.6 40.2,11.5 40.2,11.5 39.9,11.4 38.0,11.7" fill="#e85c14"/><polygon points="10.7,15.5 10.9,16.6 10.2,17.0 7.9,16.5 8.9,15.8" fill="#e85b14"/><polygon points="4.0,23.4 3.3,22.5 1.6,22.3 0.7,22.5 0.8,25.1" fill="#ed6f17"/><polygon points="11.2,10.4 11.2,10.3 13.1,11.9 12.0,12.2" fill="#e44c12"/><polygon points="1.8,18.5 1.3,21.5 0.3,21.7 -0.3,21.5 -0.0,18.3 1.5,18.1" fill="#e14511"/><polygon points="33.1,7.6 32.9,7.5 30.9,8.8 31.9,10.8 32.8,10.6 33.5,9.9 33.7,7.8" fill="#f8b604"/><polygon points="5.9,17.4 5.1,18.9 5.1,20.0 6.3,20.1 7.5,19.1 6.2,17.4" fill="#e75813"/><polygon points="10.7,14.3 10.8,15.4 8.9,15.5 9.0,14.4 9.9,14.0 10.6,14.2" fill="#e04010"/><polygon points="22.8,3.2 21.9,6.2 20.2,5.7 20.3,4.8 21.5,2.6" fill="#e44d12"/><polygon points="9.9,11.2 8.2,10.7 8.0,11.5 10.0,13.8 10.7,14.0 10.7,13.2" fill="#e55112"/><polygon points="31.1,25.3 28.7,24.6 28.7,23.0 30.4,21.1 31.0,21.0 32.8,23.5 32.0,25.2" fill="#f17c16"/><polygon points="7.5,19.5 8.1,19.8 8.9,21.3 8.3,21.8 6.7,22.3 6.7,20.3" fill="#ed6e17"/><polygon points="22.1,-0.2 21.6,-0.8 19.5,-1.8 18.6,-0.7 19.2,1.0 21.2,1.5" fill="#f8e126"/><polygon points="14.9,2.3 15.7,2.1 16.1,-0.1 13.5,1.5 14.1,2.1" fill="#f8e126"/><polygon points="16.7,14.7 17.0,14.8 18.1,15.5 19.4,16.5 18.7,18.2 17.3,18.2 16.9,18.0 16.8,18.0 16.3,16.6" fill="#e04210"/><polygon points="14.7,22.5 14.4,24.4 13.5,25.1 11.9,25.2 11.3,22.6 13.4,22.1" fill="#f5980a"/><polygon points="4.3,-1.4 4.3,-1.8 4.2,-2.0 1.6,-2.6 2.0,0.5" fill="#f4950c"/><polygon points="28.3,18.5 27.7,14.9 26.4,14.4 24.4,15.2 26.1,18.6" fill="#f38e0e"/><polygon points="28.7,9.0 26.4,9.8 26.8,13.1 28.1,13.5 28.8,13.4 30.6,13.0 31.3,11.4 30.1,9.7" fill="#f5980a"/><polygon points="5.1,5.8 5.3,5.9 6.7,3.1 3.9,3.4 3.7,3.5" fill="#ee7017"/><polygon points="42.5,25.7 38.3,25.5 37.9,24.7 41.0,23.6 42.5,25.7" fill="#e24711"/><polygon points="16.9,21.6 17.0,21.3 18.9,20.3 19.5,21.6 19.1,23.1 18.3,23.0" fill="#f4940c"/><polygon points="8.6,15.6 7.6,16.2 7.0,16.2 7.3,14.7 8.7,14.6" fill="#ec6a16"/><polygon points="16.5,18.2 16.6,18.3 15.4,19.9 14.4,18.9" fill="#e65313"/><polygon points="32.5,25.7 32.6,26.3 34.7,27.7 34.9,24.9 34.9,23.7 33.5,23.8" fill="#f18214"/><polygon points="27.2,0.6 24.4,1.4 24.0,2.8 25.1,3.2 25.9,3.2 26.7,2.8 27.1,1.3" fill="#f7aa03"/><polygon points="8.4,3.2 8.1,5.0 9.1,6.4 10.3,4.7 10.2,4.5" fill="#ee7017"/><polygon points="7.8,1.6 8.6,0.2 7.0,-2.0 6.9,-2.1 5.5,-1.8 5.4,-1.4 5.7,-0.6 7.6,2.0" fill="#f28413"/><polygon points="8.7,1.7 9.9,0.4 10.0,0.4 11.5,0.4 12.0,0.9 11.3,2.9 11.3,2.9" fill="#f8b201"/><polygon points="14.7,7.1 15.9,8.7 14.6,11.4 13.4,8.5 14.6,7.1" fill="#f38a10"/><polygon points="14.9,29.2 15.1,27.2 16.1,27.8 15.6,28.8" fill="#f59d08"/><polygon points="35.0,15.8 37.5,17.9 37.8,18.0 40.4,16.3 40.5,15.6 36.7,15.3" fill="#eb6515"/><polygon points="16.3,2.0 17.2,2.3 18.2,1.8 18.8,1.2 18.2,-0.3 16.4,-0.3 16.3,-0.2" fill="#e96015"/><polygon points="14.7,14.0 13.7,16.4 16.1,16.3 16.3,14.7 15.2,13.7" fill="#e95f14"/><polygon points="38.4,2.5 39.6,2.6 40.0,0.1 38.8,0.0 38.2,0.1 37.9,1.5" fill="#ea6315"/><polygon points="28.5,7.8 26.2,8.9 25.7,8.7 26.3,5.7 28.7,6.7 28.7,6.9" fill="#f17d16"/><polygon points="31.0,25.9 29.6,28.1 30.4,29.5 31.5,28.8 32.0,26.5 31.8,25.8" fill="#f28712"/><polygon points="30.3,20.3 28.6,19.0 28.1,14.7 28.8,14.6 30.8,17.4 31.0,20.3 31.0,20.3" fill="#f17d16"/><polygon points="41.7,6.6 41.8,9.9 44.3,8.3 42.3,6.4" fill="#f07818"/><polygon points="11.9,17.6 10.0,20.9 9.4,20.8 8.9,19.6 10.6,17.6 11.2,17.2" fill="#f9e541"/><polygon points="15.1,22.1 15.9,21.8 16.3,21.8 18.0,23.3 16.7,24.4 14.7,24.5" fill="#f17e16"/><polygon points="40.1,2.8 40.3,3.4 42.1,3.3 41.9,-0.1 40.8,0.4" fill="#f28313"/><polygon points="5.0,19.1 3.2,19.6 3.9,21.5 5.0,20.1" fill="#ed6c16"/><polygon points="10.2,5.0 9.5,6.5 9.6,7.4 10.5,7.6 11.1,5.9" fill="#f18214"/><polygon points="16.4,21.4 16.5,21.1 17.0,18.9 16.7,18.7 15.6,20.1 16.0,21.4" fill="#e85c14"/><polygon points="13.4,21.2 13.6,18.8 12.6,17.8 12.3,17.8 10.5,21.2 11.3,22.0" fill="#f4930c"/><polygon points="20.8,27.1 21.2,26.6 19.5,25.3 19.3,26.1" fill="#e65413"/><polygon points="18.1,30.3 19.7,27.9 18.7,27.3 18.1,27.7 18.0,27.8 17.8,28.9" fill="#f59d08"/><polygon points="21.2,1.9 19.5,1.7 18.8,2.5 19.8,4.2 21.3,2.1" fill="#f07618"/><polygon points="-3.7,7.5 -4.5,7.0 -3.2,6.4 -0.4,6.6 0.5,8.5 0.3,8.6" fill="#e65613"/><polygon points="37.3,7.4 36.6,7.3 36.5,5.6 37.8,5.5 38.2,5.9 37.4,7.3" fill="#e34c12"/><polygon points="2.3,29.0 3.3,28.3 2.9,27.8 1.8,28.6" fill="#e24611"/><polygon points="17.9,9.3 17.6,8.9 18.4,7.0 19.1,7.1 19.5,9.1 18.0,9.3" fill="#e95f14"/><polygon points="1.2,25.9 1.3,25.1 4.0,23.6 4.3,23.9 4.3,24.3" fill="#ea6215"/><polygon points="37.8,7.4 40.3,10.5 40.6,10.6 39.4,6.3 39.3,6.3 38.3,6.3" fill="#f38a10"/><polygon points="0.5,3.6 0.5,5.5 0.0,5.9 -0.4,4.7" fill="#f4930c"/><polygon points="11.6,13.0 11.5,13.8 11.5,14.0 14.4,13.8 14.8,13.4 14.8,13.3 14.7,12.8 14.2,12.1 13.1,12.0 12.2,12.4" fill="#e14310"/><polygon points="34.6,7.9 35.8,9.3 35.8,9.6 33.8,9.6 34.0,8.0" fill="#f59a09"/><polygon points="17.0,9.0 16.1,8.6 15.3,7.2 17.5,5.8 18.2,6.1" fill="#f8d116"/><polygon points="2.5,29.5 2.4,30.8 4.1,29.3 4.0,28.8 3.5,28.5" fill="#f28612"/><polygon points="15.7,-0.4 15.8,-0.6 14.6,-1.9 12.3,-0.6 12.1,-0.1 12.6,0.5 13.3,0.8" fill="#f5990a"/><polygon points="17.8,11.7 16.0,12.9 15.8,12.4 17.5,10.1 17.6,10.1 17.9,11.3" fill="#f8b201"/></g><g id="bpos1"><polygon points="12.4,24.4 12.1,24.0 9.1,23.7 9.0,24.7 9.1,24.8 12.3,24.6" fill="#e44f12"/><polygon points="11.9,23.8 11.8,22.3 9.5,22.2 8.9,22.8 9.1,23.4" fill="#f38d0f"/><polygon points="2.1,-4.3 -1.1,-2.4 -0.7,-1.3 1.2,-1.2 2.1,-3.3" fill="#f8c911"/><polygon points="33.9,19.3 33.1,19.9 32.6,17.7 33.6,16.8" fill="#f28712"/><polygon points="23.2,5.2 21.7,5.6 20.0,5.3 19.9,4.8 20.0,4.5 21.8,3.7 21.9,3.7" fill="#e44f12"/><polygon points="36.4,6.7 34.2,6.2 34.3,6.8 35.0,7.0 36.4,7.0 36.4,6.8" fill="#e04110"/><polygon points="17.9,22.7 19.7,23.3 19.8,23.8 19.7,24.0 17.9,24.3" fill="#e75a14"/><polygon points="4.4,13.3 4.0,11.3 4.4,10.3 6.1,10.0 6.5,10.5 6.6,10.8" fill="#f7a604"/><polygon points="26.9,-1.1 26.1,-0.6 26.0,-0.6 25.4,-3.4 27.3,-1.8" fill="#e24511"/><polygon points="27.7,-0.1 28.1,0.8 28.0,0.9 26.0,-0.4 27.1,-1.0" fill="#e55213"/><polygon points="17.2,-0.3 15.1,-0.7 15.9,1.6 16.8,2.4 17.0,2.4" fill="#f8e021"/><polygon points="13.9,6.9 13.6,6.0 13.6,6.0 14.6,5.1 15.9,5.7 15.2,7.6" fill="#f4940c"/><polygon points="14.9,12.5 15.2,12.4 17.1,13.6 16.6,16.7 15.7,17.2 14.6,14.4" fill="#ed6e17"/><polygon points="37.1,30.3 35.3,27.2 36.0,25.9 38.1,25.8 39.1,27.1" fill="#f8b302"/><polygon points="8.6,28.9 10.4,30.1 10.9,29.2 10.3,27.5 10.1,27.5 9.0,28.1" fill="#e24711"/><polygon points="35.1,19.1 34.3,16.3 34.0,16.8 34.3,19.1" fill="#e14210"/><polygon points="14.5,4.8 14.9,3.9 14.0,2.8 12.8,3.5 13.4,5.6" fill="#ec6a16"/><polygon points="40.3,-0.6 41.3,-2.4 40.8,-5.0 38.6,-2.0 40.3,-0.6" fill="#ec6a16"/><polygon points="36.5,19.6 36.1,21.9 38.6,23.1 40.7,20.9 37.0,19.2" fill="#f18114"/><polygon points="3.0,4.8 1.9,5.2 0.5,3.3 1.3,0.5 4.1,2.0" fill="#f38e0f"/><polygon points="37.3,8.5 37.3,9.3 37.6,9.7 39.9,9.4 40.6,9.2 40.7,8.6 39.5,6.9 38.4,7.2 37.4,8.2" fill="#f8b503"/><polygon points="12.0,22.1 9.6,21.9 9.7,20.9 12.0,20.5 12.3,21.5" fill="#e55012"/><polygon points="32.1,13.4 34.5,14.9 35.6,14.6 36.2,13.2 36.4,11.9 36.4,11.9 33.4,11.4 32.7,12.2" fill="#e44e12"/><polygon points="20.3,18.1 22.9,16.6 23.0,16.8 22.9,18.0 21.9,19.3 21.5,19.3" fill="#e34b12"/><polygon points="1.3,8.3 0.9,8.5 -0.1,12.3 0.7,13.0 3.0,11.1 3.4,10.2" fill="#ec6c16"/><polygon points="39.5,-0.4 39.6,2.2 35.9,0.4 35.5,-0.1 37.2,-1.7 37.6,-1.8 38.0,-1.7" fill="#e24811"/><polygon points="17.6,-0.9 19.6,-4.3 16.3,-2.6 15.3,-1.0 15.4,-1.0 17.3,-0.7" fill="#f28612"/><polygon points="27.4,3.7 25.7,4.6 26.3,6.1 27.9,5.1" fill="#f07618"/><polygon points="4.8,15.5 5.0,17.5 5.7,18.4 5.7,18.5 5.9,18.1 5.8,15.8" fill="#f8c810"/><polygon points="3.8,21.6 3.4,22.2 1.6,22.1 -0.2,20.5 -0.6,19.4 -0.6,19.4 0.9,19.5 3.7,21.3" fill="#f28712"/><polygon points="22.2,1.0 21.6,2.7 19.9,3.4 18.7,2.6 19.7,1.3 22.2,0.7" fill="#f07918"/><polygon points="3.8,25.4 3.1,24.8 1.8,26.2 1.7,26.6 3.2,27.5" fill="#ec6b16"/><polygon points="0.7,13.7 3.2,14.4 2.4,15.4 1.8,15.6 0.4,14.5" fill="#f8e22c"/><polygon points="35.5,22.7 36.2,22.3 38.1,23.2 37.9,24.8 36.0,25.4 35.1,24.3" fill="#ed6d16"/><polygon points="22.1,19.7 23.1,18.4 23.8,20.2 23.9,20.4 22.8,20.9 22.4,20.7" fill="#f59b09"/><polygon points="25.6,20.9 24.4,20.3 24.3,20.1 25.9,18.6 26.3,18.7 26.6,18.9 26.3,20.0" fill="#f8c10b"/><polygon points="23.2,5.8 22.0,6.0 23.0,7.2 23.5,6.2 23.3,5.9" fill="#e24611"/><polygon points="25.0,4.4 25.4,4.6 25.9,6.4 25.9,6.6 24.4,6.2 24.0,6.1 23.8,5.7" fill="#e85c14"/><polygon points="27.8,15.7 29.8,15.4 30.0,17.0 29.3,18.2 27.9,18.2" fill="#e55112"/><polygon points="37.2,5.0 37.6,4.4 39.9,3.4 39.9,3.5 39.4,6.3 38.4,6.6 37.5,6.0" fill="#fae64e"/><polygon points="27.4,14.5 27.6,15.3 27.8,15.3 29.6,15.0 30.2,13.6 28.2,12.6" fill="#ed6e17"/><polygon points="25.5,21.9 23.5,23.8 23.0,21.1 24.1,20.6 25.4,21.5" fill="#f8b202"/><polygon points="34.3,7.1 33.9,8.5 36.9,9.3 36.9,8.5 34.9,7.3" fill="#ed6e17"/><polygon points="36.9,9.8 36.8,9.5 34.0,9.0 33.5,9.6 33.2,10.8 36.3,11.4" fill="#f8d217"/><polygon points="14.2,1.7 15.6,1.9 16.3,2.7 15.9,3.2 15.2,3.6 14.4,2.5" fill="#ea6215"/><polygon points="25.6,1.9 24.6,2.2 22.8,0.3 22.7,-0.2 22.8,-0.4 24.9,0.1 25.6,1.9" fill="#e44d12"/><polygon points="39.1,13.4 37.1,13.4 37.1,12.1 39.4,12.2 40.1,12.8 39.9,13.0" fill="#ec6916"/><polygon points="25.8,12.2 25.3,12.4 23.5,10.5 24.3,10.2 24.3,10.2 27.2,10.9 27.3,11.4" fill="#f07718"/><polygon points="-1.0,19.9 -2.2,23.2 -0.9,23.1 -0.5,20.8 -0.8,19.9" fill="#f8b403"/><polygon points="-3.0,14.3 -0.5,15.2 0.1,14.4 0.2,13.7 0.2,13.6 -0.6,12.9 -1.6,12.5 -3.0,14.3" fill="#e85b14"/><polygon points="7.9,10.7 7.8,10.4 10.1,8.7 11.6,10.0 11.9,11.4 9.5,12.7 8.7,12.0" fill="#e95e14"/><polygon points="11.6,2.3 12.7,3.2 13.8,2.5 13.6,1.6 12.9,0.8 12.3,0.8" fill="#e85b14"/><polygon points="17.6,5.3 17.3,5.8 17.8,7.8 19.3,6.2 19.4,5.6 19.3,4.9" fill="#ed6e17"/><polygon points="32.6,21.2 33.1,20.3 34.4,19.7 35.2,19.5 36.2,19.6 35.6,21.5 34.8,21.9" fill="#e65613"/><polygon points="2.4,18.0 1.4,19.0 4.0,20.9 5.6,19.0 5.6,18.8 5.6,18.7" fill="#f8c40d"/><polygon points="6.8,9.6 7.5,10.3 10.1,8.4 10.0,5.9 9.5,5.5 7.1,6.7" fill="#f59b09"/><polygon points="4.4,14.1 7.5,12.9 8.0,12.4 7.2,11.1 4.4,13.4" fill="#e34911"/><polygon points="1.2,0.2 -0.0,3.0 -1.1,2.7 -2.8,0.6 -0.8,-0.3 0.9,-0.4" fill="#f18015"/><polygon points="27.9,-0.0 28.1,0.6 29.9,-0.6 29.5,-1.2 29.5,-1.2" fill="#f38e0e"/><polygon points="40.6,16.5 37.3,16.0 36.5,15.0 36.9,13.7 39.0,13.7" fill="#f28512"/><polygon points="5.9,6.5 6.2,6.8 6.1,9.7 3.8,9.7 1.7,7.8 1.6,6.7 1.8,5.8 1.8,5.7 2.9,5.3" fill="#f38d0f"/><polygon points="21.9,-0.4 20.3,-4.7 20.0,-4.2 18.7,-1.2 20.1,0.3 21.9,-0.2" fill="#f07918"/><polygon points="1.2,5.8 -2.4,5.7 -2.3,6.8 1.0,6.6" fill="#f38f0e"/><polygon points="39.8,6.4 41.0,8.2 42.6,7.1 41.9,5.3 40.2,3.8" fill="#e14411"/><polygon points="39.1,11.8 37.1,12.0 37.0,12.0 37.7,10.1 39.6,9.6" fill="#e34a11"/><polygon points="9.7,20.5 9.3,19.7 10.4,17.9 12.0,18.8 12.0,20.1" fill="#eb6615"/><polygon points="40.5,16.8 37.7,16.3 37.8,18.7 40.9,20.4 41.5,20.2 40.7,16.9 40.6,16.8" fill="#f7a704"/><polygon points="33.3,24.4 34.2,23.8 34.6,22.4 32.8,21.7 32.6,21.8 33.1,24.2" fill="#f07818"/><polygon points="35.9,5.4 34.6,5.5 35.1,3.9 35.4,3.2 36.9,4.3 36.5,5.0" fill="#f8c60f"/><polygon points="31.7,11.1 32.4,10.4 32.8,9.3 30.5,8.0 29.5,9.0 29.5,9.4" fill="#f38a10"/><polygon points="-3.3,14.4 -3.8,9.8 -1.9,12.2" fill="#f28811"/><polygon points="17.2,2.6 17.0,2.7 16.4,3.2 17.3,5.1 19.6,4.7 19.7,4.3 18.4,3.0" fill="#f18114"/><polygon points="34.7,3.6 31.8,2.2 32.4,0.7 33.7,-0.0 34.6,0.2 35.0,0.7 35.1,2.9" fill="#ee7217"/><polygon points="22.7,9.4 22.9,7.8 23.6,6.5 24.1,6.7 24.0,9.4 23.2,9.6 22.8,9.6" fill="#f07b17"/><polygon points="25.6,22.4 23.4,24.0 22.9,24.8 24.9,24.8 26.9,24.6 27.2,23.4" fill="#f38c10"/><polygon points="6.1,15.7 6.3,18.0 9.0,16.5 6.2,15.6" fill="#f8b805"/><polygon points="8.5,1.3 10.0,3.3 9.6,4.8 8.0,3.4" fill="#ea6315"/><polygon points="30.3,27.4 29.4,27.4 29.2,28.4 29.5,28.6 30.4,28.4" fill="#e65513"/><polygon points="40.5,16.2 39.6,13.8 40.3,13.3 40.5,16.3" fill="#f59b09"/><polygon points="30.8,21.7 31.8,21.4 32.5,24.3 30.7,23.9 30.5,22.4" fill="#f18114"/><polygon points="26.1,13.2 25.7,13.4 24.6,15.1 26.7,15.4 27.0,15.2 26.9,14.5" fill="#f8ad01"/><polygon points="3.9,14.3 3.9,14.3 3.3,14.3 0.9,13.5 0.9,13.4 3.1,11.5 4.0,13.6" fill="#e44e12"/><polygon points="20.9,12.3 20.9,12.6 21.1,13.0 23.3,15.2 24.0,14.8 24.8,13.4 22.7,10.5 22.3,10.5" fill="#e34b12"/><polygon points="30.9,13.7 30.4,15.1 30.7,16.8 32.3,17.4 33.5,16.5 33.9,16.1 34.2,15.4 31.4,13.4" fill="#f38c10"/><polygon points="30.8,2.9 31.3,2.1 31.8,0.7 30.1,-0.1 28.5,1.0 28.4,1.1 28.0,2.4" fill="#f17c16"/><polygon points="24.4,2.3 24.2,3.5 22.1,3.2 21.9,3.1 22.4,0.7" fill="#e65413"/><polygon points="40.9,16.3 41.1,16.4 44.8,13.0 43.2,12.2 40.5,12.9 40.3,13.1" fill="#f8bc08"/><polygon points="29.4,28.7 29.3,31.7 27.9,29.1 29.2,28.6" fill="#e44e12"/><polygon points="12.5,9.9 12.7,11.2 14.7,11.9 15.1,11.8 15.5,10.5 13.3,8.7" fill="#e55213"/><polygon points="15.9,22.4 16.3,22.1 17.2,22.6 17.2,24.3 16.4,24.7 15.7,24.6 15.4,24.0" fill="#e95f14"/><polygon points="26.1,21.9 27.5,22.9 29.8,22.3 30.2,21.6 30.0,21.3 26.7,20.3 26.0,21.5" fill="#e44e12"/><polygon points="27.8,23.2 27.5,24.6 28.0,26.0 28.7,26.0 29.8,25.3 30.1,24.9 30.1,24.1 29.8,22.6" fill="#f4920d"/><polygon points="13.5,7.1 13.0,8.2 12.3,9.4 10.7,8.3 10.6,5.9 13.2,6.1" fill="#f38c0f"/><polygon points="27.7,15.7 27.5,18.2 26.7,18.5 26.5,18.3 27.1,15.8 27.4,15.7" fill="#f8b201"/><polygon points="1.1,7.1 -2.4,7.2 -3.5,9.1 0.7,8.1 1.1,7.9" fill="#e14511"/><polygon points="-0.1,24.0 1.3,22.8 -0.4,21.0 -0.7,23.7" fill="#f5990a"/><polygon points="20.4,20.4 20.7,21.7 22.1,20.9 21.7,19.8 21.3,19.7" fill="#f7a704"/><polygon points="13.2,0.4 14.5,-0.7 14.8,-0.6 14.8,-0.6 15.7,1.5 13.9,1.2" fill="#e14411"/><polygon points="7.9,-0.0 11.7,0.9 12.0,1.0 11.4,2.1 10.4,2.6 8.5,0.8" fill="#f8c30d"/><polygon points="33.5,6.2 33.5,5.8 31.6,4.9 30.8,6.0 30.8,6.1 30.9,7.4 32.8,9.0 33.2,8.4 33.6,6.8" fill="#f17c16"/><polygon points="30.2,20.8 29.8,19.1 30.7,18.1 32.5,18.2 32.6,19.8 32.0,20.6 31.7,20.7 30.4,21.1" fill="#f3900e"/><polygon points="25.9,1.9 24.9,3.9 24.4,3.5 24.6,2.4" fill="#f17c16"/><polygon points="7.4,22.3 7.1,20.0 5.9,19.1 4.2,21.2 4.2,21.5 6.1,22.4" fill="#e34b12"/><polygon points="8.9,24.9 6.9,26.1 7.1,26.5 8.6,27.6 9.6,27.0 8.9,25.0" fill="#e44f12"/><polygon points="19.7,18.0 19.0,17.1 20.6,13.8 22.8,15.8 22.8,16.3 20.0,17.9" fill="#e65613"/></g><g id="bpos2"><polygon points="22.6,2.5 20.4,3.8 20.6,4.9 21.1,4.9 22.3,4.8 22.9,2.9" fill="#f38b10"/><polygon points="34.6,7.7 35.5,6.7 37.4,6.7 38.7,7.4 37.7,9.3 34.6,7.7" fill="#f9e333"/><polygon points="1.4,22.1 0.2,23.5 0.5,24.3 0.6,24.4 2.0,24.2" fill="#f8b503"/><polygon points="28.5,19.5 28.8,16.7 29.3,16.1 31.7,18.0 30.9,19.9 28.9,19.8" fill="#ea6215"/><polygon points="17.2,21.0 19.6,20.2 20.1,19.4 20.1,18.8 17.5,19.0" fill="#e34a11"/><polygon points="1.4,17.5 0.3,18.2 -0.0,18.5 0.6,19.9 1.6,20.9 2.2,21.0 3.1,19.1" fill="#e65413"/><polygon points="27.5,6.1 26.4,4.1 26.4,4.0 26.5,3.9 29.2,3.8 29.5,5.3" fill="#f8c00b"/><polygon points="35.7,16.6 35.8,17.6 38.9,16.5 38.7,16.2 36.4,15.7" fill="#e96115"/><polygon points="1.3,-0.9 -0.8,0.9 -0.9,1.0 -1.6,0.5 -1.3,-3.7 -0.5,-3.1" fill="#f4950b"/><polygon points="9.6,21.0 10.0,21.4 12.1,21.9 12.8,19.6 11.3,19.4 9.6,20.4" fill="#ea6415"/><polygon points="35.2,20.4 33.0,21.6 32.9,23.7 34.4,24.6 37.4,23.1 37.5,21.8" fill="#f7a804"/><polygon points="41.9,26.7 39.0,25.3 38.9,24.9 39.4,24.7 40.8,25.0" fill="#f38e0f"/><polygon points="35.4,16.3 33.3,14.7 33.0,13.8 33.7,13.4 35.9,15.1 35.9,15.3" fill="#e95f14"/><polygon points="1.2,21.3 0.2,20.5 -1.1,21.3 -1.3,23.2 0.1,23.1 1.1,21.4" fill="#f8d81b"/><polygon points="17.2,23.8 15.7,25.5 14.8,25.9 14.1,23.4 16.2,22.2" fill="#ef7317"/><polygon points="23.9,27.2 25.6,26.7 24.6,23.6 24.5,23.6 22.8,26.4" fill="#f07718"/><polygon points="3.0,4.2 3.1,4.8 0.9,5.4 0.5,4.2 1.3,3.7" fill="#f59d08"/><polygon points="15.2,0.9 13.6,0.9 13.3,0.8 12.2,-0.2 13.9,-1.3 14.8,-1.5 15.5,-0.4 15.2,0.9" fill="#e14310"/><polygon points="42.3,10.5 41.4,13.1 41.9,13.6 43.7,11.4" fill="#f38a10"/><polygon points="29.5,2.6 28.1,1.7 27.3,1.9 26.7,2.3 26.5,3.3 29.4,3.3 29.4,3.3" fill="#e65613"/><polygon points="28.6,-0.3 28.1,-0.7 26.4,-0.5 27.3,1.3 28.1,0.9" fill="#f4940c"/><polygon points="25.4,10.4 23.1,9.2 23.2,8.0 24.0,6.7" fill="#f17c16"/><polygon points="35.3,16.4 33.3,14.9 33.2,17.5 35.0,18.4 35.5,17.7" fill="#e44f12"/><polygon points="39.6,12.3 38.1,14.1 37.2,13.6 36.2,11.9 37.9,10.6 39.5,12.1" fill="#f8c30d"/><polygon points="26.3,11.3 25.6,12.2 26.0,15.7 28.6,15.9 29.0,15.4 29.6,13.4 29.0,12.4 26.7,11.2" fill="#f8de1f"/><polygon points="32.3,1.8 33.9,2.7 32.2,3.7 31.9,3.5 31.9,3.4" fill="#f8bc08"/><polygon points="1.6,21.4 2.3,21.4 3.5,22.1 3.4,24.9 2.2,24.2 1.6,21.5" fill="#f38e0f"/><polygon points="34.2,29.0 35.0,27.1 37.6,27.3 38.4,29.1 34.5,30.6" fill="#f18114"/><polygon points="8.0,11.5 8.6,10.1 8.3,9.4 7.5,9.5 6.3,10.4 7.0,11.1" fill="#f9e230"/><polygon points="38.5,1.8 38.4,2.2 38.7,3.3 39.0,3.4 41.2,0.7 39.3,0.1 39.2,0.2" fill="#e34b12"/><polygon points="32.6,24.2 32.7,24.2 34.0,25.1 34.7,26.9 33.9,28.8 30.8,27.3" fill="#ec6a16"/><polygon points="22.5,13.4 20.9,15.5 19.1,12.8 20.5,11.6 22.6,13.3" fill="#e85d14"/><polygon points="8.0,12.0 9.0,10.3 9.7,11.8 8.5,12.4" fill="#eb6716"/><polygon points="8.1,-2.0 7.6,-1.3 7.6,-1.2 7.9,-1.0 10.5,-0.0 10.9,-0.3 10.1,-2.3" fill="#e24611"/><polygon points="2.0,17.1 2.0,17.2 3.8,18.5 4.9,18.1 4.9,18.0 3.9,16.4" fill="#e55213"/><polygon points="36.6,1.7 38.1,1.5 38.8,0.1 36.9,1.0" fill="#f4970b"/><polygon points="28.2,32.2 28.1,28.3 27.2,27.3 26.1,27.2 24.2,27.6 23.9,28.6" fill="#fae64c"/><polygon points="23.2,28.3 23.6,27.4 22.6,26.8 21.6,26.7 21.1,29.7 22.1,30.6" fill="#ec6b16"/><polygon points="1.5,26.7 -1.2,26.1 0.3,24.9 0.5,25.0" fill="#e75713"/><polygon points="17.2,18.6 16.7,17.1 17.0,16.5 19.8,16.5 19.4,18.4" fill="#e55012"/><polygon points="-0.0,12.3 -2.2,11.6 -0.8,10.6 -0.5,10.6" fill="#f8b302"/><polygon points="1.7,16.8 1.7,16.9 0.3,17.7 0.7,14.1 1.0,13.9 1.0,13.9 1.7,14.7" fill="#eb6615"/><polygon points="43.3,2.0 43.4,2.0 40.5,6.5 40.0,4.1" fill="#e24611"/><polygon points="25.3,-0.8 24.9,0.6 23.0,1.2 22.3,0.2 22.8,-0.7 23.3,-1.0 24.7,-1.7" fill="#ec6916"/><polygon points="6.1,15.4 7.7,14.8 8.0,16.2 6.0,16.7" fill="#f4910d"/><polygon points="24.5,16.3 23.2,13.7 23.3,13.6 25.2,12.4 25.3,15.9 24.8,16.3" fill="#e14411"/><polygon points="22.3,26.2 20.9,25.8 20.7,25.7 20.3,24.3 20.5,23.9 22.9,22.6 24.1,23.4" fill="#ea6315"/><polygon points="8.3,18.7 8.4,17.3 8.6,16.8 9.9,16.8 10.2,17.7 8.8,19.2" fill="#e14310"/><polygon points="-1.7,21.2 -2.4,21.0 -4.4,21.5 -2.9,22.1" fill="#e14511"/><polygon points="24.2,16.8 22.4,14.1 21.3,15.5 21.3,16.1 23.3,17.0" fill="#ec6916"/><polygon points="14.0,18.9 16.6,20.9 16.6,20.8 16.5,18.8 15.7,17.2 14.1,18.2" fill="#f5990a"/><polygon points="42.2,10.3 42.1,10.0 39.8,12.1 39.9,12.3 41.1,12.9" fill="#f17c16"/><polygon points="24.3,23.0 23.4,22.3 23.7,20.8 24.0,20.5 25.9,20.1 25.4,22.5 24.4,23.0" fill="#f8b704"/><polygon points="29.0,23.3 32.5,23.8 32.5,23.8 32.6,21.7 31.1,20.4 29.0,20.4" fill="#e75914"/><polygon points="31.1,0.8 31.1,0.2 30.2,-0.6 28.9,-0.4 28.4,1.0 29.8,2.3 30.7,1.5" fill="#f28612"/><polygon points="33.9,7.8 33.1,5.6 32.2,5.3 31.0,6.2 31.0,7.0 32.3,8.4 33.4,8.2 33.9,7.8" fill="#f8ad01"/><polygon points="31.6,1.0 31.7,0.4 32.9,-0.2 33.9,-0.2 34.1,2.2 33.8,2.2 32.3,1.6" fill="#eb6515"/><polygon points="31.3,-0.1 30.5,-0.7 30.9,-2.9 32.1,-2.7 32.4,-1.9 32.4,-0.6" fill="#e55112"/><polygon points="-1.0,7.9 0.6,8.5 0.3,9.3 -1.0,8.1" fill="#e34a11"/><polygon points="26.3,20.4 28.2,20.3 28.6,20.6 28.7,22.8 28.1,23.2 26.0,22.2 26.3,20.4" fill="#f18214"/><polygon points="3.5,25.5 3.6,25.7 3.2,26.8 2.0,26.9 1.9,26.8 0.8,24.8 2.2,24.7" fill="#f07818"/><polygon points="8.2,25.9 9.5,25.7 10.7,26.8 9.1,30.1" fill="#f4930c"/><polygon points="-1.6,17.8 -1.7,17.7 -1.3,14.8 -0.7,14.8 -1.2,17.9" fill="#ef7618"/><polygon points="22.7,7.7 22.7,9.0 20.8,9.1 20.1,6.1 20.5,5.8 20.9,5.8" fill="#f5990a"/><polygon points="35.9,2.4 38.1,2.4 38.5,3.6 35.7,3.4 35.6,3.4 35.4,3.0" fill="#f5990a"/><polygon points="26.4,19.5 28.1,19.4 28.4,16.7 25.8,16.4 25.3,16.8" fill="#f8b100"/><polygon points="34.1,8.4 37.5,9.9 37.5,10.5 36.1,11.3 35.5,11.3 33.7,8.6" fill="#ee7317"/><polygon points="41.2,0.3 39.5,-0.4 38.5,-2.3 41.9,-2.8 41.8,0.3" fill="#ec6a16"/><polygon points="-1.0,7.8 0.7,8.2 1.4,7.6 1.2,7.1 0.6,6.7 -1.0,7.0" fill="#eb6515"/><polygon points="5.6,17.5 8.2,17.2 8.4,16.8 8.2,16.5 5.9,16.9" fill="#e44d12"/><polygon points="39.2,6.9 39.5,6.8 39.5,6.6 39.1,4.3 39.0,4.0 38.7,3.8 36.3,3.8 37.9,6.3" fill="#f8c910"/><polygon points="2.5,10.6 1.2,10.8 1.2,12.9 1.3,13.0 1.3,13.0 2.7,12.5 3.0,10.9" fill="#e96015"/><polygon points="23.4,2.7 22.4,4.9 23.0,5.0 24.0,3.0" fill="#f9e545"/><polygon points="35.6,-1.4 36.8,0.6 38.8,-0.2 38.9,-0.3 37.9,-2.4 36.9,-3.3 36.0,-2.2" fill="#f8dd1e"/><polygon points="19.7,0.5 22.1,0.4 22.8,1.5 22.8,1.7 20.3,3.5 19.1,1.4" fill="#f8d519"/><polygon points="34.0,7.5 35.0,6.5 35.0,4.6 33.5,5.6" fill="#f18214"/><polygon points="15.5,1.0 15.8,-0.3 16.4,-0.3 18.4,1.4 17.5,1.9 17.4,1.9" fill="#ed6d16"/><polygon points="32.7,-2.1 32.2,-2.8 32.7,-3.0 33.8,-2.5" fill="#ea6215"/><polygon points="-3.4,19.8 -5.4,21.0 -4.5,21.3 -2.7,20.9" fill="#f8be0a"/><polygon points="23.4,19.7 23.1,20.0 20.7,19.2 20.6,18.7 20.8,17.1 20.9,16.9 23.0,17.6" fill="#e55213"/><polygon points="-1.4,7.9 -1.3,7.0 -1.7,6.7 -4.4,9.6 -1.8,8.9 -1.4,8.0" fill="#f9e544"/><polygon points="26.0,26.5 27.0,26.5 27.9,24.2 26.1,23.3 24.9,23.8" fill="#f5980a"/><polygon points="4.8,-1.3 3.9,-0.5 1.7,-1.2 -0.2,-2.9 4.4,-2.3" fill="#eb6615"/><polygon points="7.7,25.0 8.2,25.6 9.9,25.1 12.1,22.8 12.1,22.8 9.9,22.0" fill="#e55112"/><polygon points="41.9,14.5 43.8,15.2 42.2,18.7 40.7,18.6 40.0,17.1" fill="#f8ae01"/><polygon points="10.7,11.9 11.2,11.4 11.5,10.2 9.1,9.1 9.0,9.2 9.1,10.1 9.9,11.8 10.2,11.9" fill="#f8b705"/><polygon points="9.9,12.3 9.6,12.2 8.7,12.7 8.2,14.2 8.2,14.4 9.4,14.3" fill="#f9e339"/><polygon points="26.2,10.3 26.6,10.3 26.6,10.0 26.5,9.1 24.3,6.4 24.0,6.4 24.0,6.9 26.0,10.2" fill="#f8bd09"/><polygon points="-1.6,24.0 -0.1,23.9 0.2,24.7 -1.6,25.8 -2.0,25.9 -3.1,25.5 -2.1,24.2" fill="#e96015"/><polygon points="34.2,2.8 32.5,3.9 32.4,5.0 33.2,5.2 34.8,4.1 35.2,3.4 35.1,3.0 34.5,2.7" fill="#f17f15"/><polygon points="37.9,14.3 38.3,16.1 36.5,15.3 36.5,15.1 37.2,13.9" fill="#e85e14"/><polygon points="5.2,18.6 5.9,19.5 5.7,21.2 5.7,21.3 3.8,21.8 2.8,21.2 4.2,19.1" fill="#e65513"/><polygon points="39.8,11.6 38.0,10.1 38.1,9.4 39.4,7.5 39.7,7.3 41.4,8.1 41.8,9.7" fill="#ea6115"/><polygon points="16.6,12.5 18.6,12.5 20.2,11.3 20.4,9.7 18.5,9.6 17.6,10.3" fill="#e75713"/><polygon points="31.3,0.9 32.2,1.7 31.8,3.4 30.9,1.6" fill="#f4970b"/><polygon points="11.7,14.0 13.7,13.0 11.7,11.8 11.2,12.3" fill="#f17c16"/><polygon points="16.1,3.1 15.2,4.8 14.5,4.5 14.5,3.7 15.0,2.8" fill="#f4920d"/><polygon points="4.9,7.6 7.1,9.5 6.2,10.4 5.7,10.4 5.0,9.9" fill="#ee7017"/><polygon points="1.3,6.7 3.6,5.7 3.2,5.2 0.9,5.7 0.7,6.4" fill="#ef7417"/></g><linearGradient id="cb0neg" x1="0" y1="0" x2="1" y2="0"><stop offset="0" stop-color="#000000"/><stop offset="0.02" stop-color="#0020a0"/><stop offset="0.1" stop-color="#0650d8"/><stop offset="0.4" stop-color="#1482f0"/><stop offset="0.7" stop-color="#58b0fa"/><stop offset="0.88" stop-color="#d0eaff"/><stop offset="1" stop-color="#ffffff"/></linearGradient><linearGradient id="cb0pos" x1="0" y1="0" x2="1" y2="0"><stop offset="0" stop-color="#000000"/><stop offset="0.04" stop-color="#400000"/><stop offset="0.15" stop-color="#b01800"/><stop offset="0.3" stop-color="#e04010"/><stop offset="0.5" stop-color="#f07818"/><stop offset="0.65" stop-color="#f8b000"/><stop offset="0.8" stop-color="#f8e020"/><stop offset="0.95" stop-color="#fff8d0"/><stop offset="1" stop-color="#ffffff"/></linearGradient><linearGradient id="cb1neg" x1="0" y1="0" x2="1" y2="0"><stop offset="0" stop-color="#000000"/><stop offset="0.02" stop-color="#0020a0"/><stop offset="0.1" stop-color="#0650d8"/><stop offset="0.4" stop-color="#1482f0"/><stop offset="0.7" stop-color="#58b0fa"/><stop offset="0.88" stop-color="#d0eaff"/><stop offset="1" stop-color="#ffffff"/></linearGradient><linearGradient id="cb1pos" x1="0" y1="0" x2="1" y2="0"><stop offset="0" stop-color="#000000"/><stop offset="0.04" stop-color="#400000"/><stop offset="0.15" stop-color="#b01800"/><stop offset="0.3" stop-color="#e04010"/><stop offset="0.5" stop-color="#f07818"/><stop offset="0.65" stop-color="#f8b000"/><stop offset="0.8" stop-color="#f8e020"/><stop offset="0.95" stop-color="#fff8d0"/><stop offset="1" stop-color="#ffffff"/></linearGradient><linearGradient id="cb2neg" x1="0" y1="0" x2="1" y2="0"><stop offset="0" stop-color="#ffffff"/><stop offset="0.12" stop-color="#d0eaff"/><stop offset="0.30000000000000004" stop-color="#58b0fa"/><stop offset="0.6" stop-color="#1482f0"/><stop offset="0.9" stop-color="#0650d8"/><stop offset="0.98" stop-color="#0020a0"/><stop offset="1" stop-color="#000000"/></linearGradient><linearGradient id="cb2pos" x1="0" y1="0" x2="1" y2="0"><stop offset="0" stop-color="#000000"/><stop offset="0.04" stop-color="#400000"/><stop offset="0.15" stop-color="#b01800"/><stop offset="0.3" stop-color="#e04010"/><stop offset="0.5" stop-color="#f07818"/><stop offset="0.65" stop-color="#f8b000"/><stop offset="0.8" stop-color="#f8e020"/><stop offset="0.95" stop-color="#fff8d0"/><stop offset="1" stop-color="#ffffff"/></linearGradient><linearGradient id="cb3neg" x1="0" y1="0" x2="1" y2="0"><stop offset="0" stop-color="#000000"/><stop offset="0.02" stop-color="#0020a0"/><stop offset="0.1" stop-color="#0650d8"/><stop offset="0.4" stop-color="#1482f0"/><stop offset="0.7" stop-color="#58b0fa"/><stop offset="0.88" stop-color="#d0eaff"/><stop offset="1" stop-color="#ffffff"/></linearGradient><linearGradient id="cb3pos" x1="0" y1="0" x2="1" y2="0"><stop offset="0" stop-color="#000000"/><stop offset="0.04" stop-color="#400000"/><stop offset="0.15" stop-color="#b01800"/><stop offset="0.3" stop-color="#e04010"/><stop offset="0.5" stop-color="#f07818"/><stop offset="0.65" stop-color="#f8b000"/><stop offset="0.8" stop-color="#f8e020"/><stop offset="0.95" stop-color="#fff8d0"/><stop offset="1" stop-color="#ffffff"/></linearGradient></defs><rect width="440" height="265" fill="#fff"/><path d="M20.20,57.00 L20.67,56.92 L21.21,56.84 L21.82,56.74 L22.48,56.64 L23.21,56.53 L23.98,56.41 L24.80,56.28 L25.66,56.15 L26.56,56.01 L27.48,55.87 L28.44,55.72 L29.41,55.56 L30.40,55.40 L31.41,55.24 L32.42,55.08 L33.43,54.91 L34.44,54.74 L35.44,54.56 L36.43,54.39 L37.40,54.21 L38.34,54.03 L39.26,53.86 L40.15,53.68 L41.00,53.50 L41.83,53.32 L42.66,53.13 L43.49,52.94 L44.32,52.74 L45.14,52.54 L45.97,52.33 L46.79,52.12 L47.61,51.90 L48.43,51.68 L49.25,51.46 L50.06,51.24 L50.86,51.02 L51.66,50.80 L52.46,50.57 L53.25,50.35 L54.03,50.13 L54.81,49.92 L55.57,49.70 L56.33,49.49 L57.09,49.28 L57.83,49.08 L58.56,48.88 L59.29,48.69 L60.00,48.50 L60.69,48.32 L61.36,48.16 L62.01,48.01 L62.63,47.87 L63.24,47.73 L63.83,47.60 L64.41,47.48 L64.99,47.36 L65.55,47.25 L66.11,47.13 L66.67,47.01 L67.23,46.89 L67.79,46.77 L68.36,46.64 L68.94,46.50 L69.53,46.36 L70.13,46.20 L70.75,46.04 L71.40,45.86 L72.06,45.66 L72.75,45.45 L73.47,45.22 L74.22,44.97 L75.00,44.70 L75.83,44.40 L76.73,44.07 L77.68,43.70 L78.68,43.31 L79.73,42.90 L80.81,42.46 L81.92,42.01 L83.04,41.54 L84.19,41.07 L85.34,40.59 L86.49,40.10 L87.64,39.61 L88.77,39.13 L89.88,38.65 L90.97,38.19 L92.02,37.73 L93.03,37.30 L94.00,36.88 L94.91,36.49 L95.76,36.12 L96.54,35.79 L97.24,35.49 L97.87,35.22 L98.40,35.00 L98.40,50.60 L97.87,50.60 L97.24,50.60 L96.54,50.58 L95.76,50.56 L94.91,50.53 L94.00,50.50 L93.03,50.46 L92.02,50.43 L90.97,50.40 L89.88,50.36 L88.77,50.34 L87.64,50.31 L86.49,50.30 L85.34,50.29 L84.19,50.29 L83.04,50.30 L81.92,50.33 L80.81,50.37 L79.73,50.43 L78.68,50.50 L77.68,50.59 L76.73,50.71 L75.83,50.84 L75.00,51.00 L74.22,51.18 L73.47,51.38 L72.75,51.59 L72.06,51.82 L71.40,52.07 L70.75,52.33 L70.13,52.60 L69.53,52.89 L68.94,53.19 L68.36,53.50 L67.79,53.83 L67.23,54.16 L66.67,54.51 L66.11,54.86 L65.55,55.23 L64.99,55.60 L64.41,55.98 L63.83,56.37 L63.24,56.76 L62.63,57.16 L62.01,57.56 L61.36,57.97 L60.69,58.38 L60.00,58.80 L59.29,59.23 L58.56,59.67 L57.83,60.13 L57.09,60.60 L56.33,61.08 L55.57,61.58 L54.81,62.09 L54.03,62.60 L53.25,63.13 L52.46,63.66 L51.66,64.19 L50.86,64.73 L50.06,65.27 L49.25,65.81 L48.43,66.36 L47.61,66.90 L46.79,67.43 L45.97,67.97 L45.14,68.49 L44.32,69.01 L43.49,69.53 L42.66,70.03 L41.83,70.52 L41.00,71.00 L40.15,71.48 L39.26,71.97 L38.34,72.47 L37.40,72.97 L36.43,73.48 L35.44,73.99 L34.44,74.50 L33.43,75.01 L32.42,75.52 L31.41,76.03 L30.40,76.52 L29.41,77.01 L28.44,77.49 L27.48,77.96 L26.56,78.41 L25.66,78.84 L24.80,79.26 L23.98,79.65 L23.21,80.03 L22.48,80.38 L21.82,80.70 L21.21,81.00 L20.67,81.26 L20.20,81.50 Z" fill="#f9dccf"/><circle cx="20.7" cy="86.7" r="1.15" fill="#d4d0ce" stroke="#888" stroke-width="0.6"/><circle cx="49" cy="49.9" r="1.15" fill="#d4d0ce" stroke="#888" stroke-width="0.6"/><circle cx="52.5" cy="50.5" r="1.15" fill="#d4d0ce" stroke="#888" stroke-width="0.6"/><circle cx="63" cy="49.9" r="1.15" fill="#d4d0ce" stroke="#888" stroke-width="0.6"/><circle cx="65" cy="50.5" r="1.15" fill="#d4d0ce" stroke="#888" stroke-width="0.6"/><circle cx="73" cy="50" r="1.15" fill="#d4d0ce" stroke="#888" stroke-width="0.6"/><circle cx="76.5" cy="50" r="1.15" fill="#d4d0ce" stroke="#888" stroke-width="0.6"/><circle cx="80.5" cy="50" r="1.15" fill="#d4d0ce" stroke="#888" stroke-width="0.6"/><circle cx="84" cy="50" r="1.15" fill="#d4d0ce" stroke="#888" stroke-width="0.6"/><circle cx="87.5" cy="50" r="1.15" fill="#d4d0ce" stroke="#888" stroke-width="0.6"/><circle cx="98.5" cy="51" r="1.15" fill="#d4d0ce" stroke="#888" stroke-width="0.6"/><line x1="20.2" y1="69.0" x2="98.4" y2="43.4" stroke="#e66b38" stroke-width="0.9"/><path d="M18.5,16.6 V99.2 H100.7" fill="none" stroke="#444" stroke-width="0.55"/><line x1="17.6" y1="17.60" x2="18.5" y2="17.60" stroke="#555" stroke-width="0.5"/><text x="16.30" y="18.95" font-size="3.7" text-anchor="end" font-weight="normal" fill="#444" textLength="7.96" lengthAdjust="spacingAndGlyphs" >0.010</text><line x1="17.6" y1="33.92" x2="18.5" y2="33.92" stroke="#555" stroke-width="0.5"/><text x="16.30" y="35.27" font-size="3.7" text-anchor="end" font-weight="normal" fill="#444" textLength="7.96" lengthAdjust="spacingAndGlyphs" >0.005</text><line x1="17.6" y1="50.24" x2="18.5" y2="50.24" stroke="#555" stroke-width="0.5"/><text x="16.30" y="51.59" font-size="3.7" text-anchor="end" font-weight="normal" fill="#444" textLength="7.96" lengthAdjust="spacingAndGlyphs" >0.000</text><line x1="17.6" y1="66.56" x2="18.5" y2="66.56" stroke="#555" stroke-width="0.5"/><text x="16.30" y="67.91" font-size="3.7" text-anchor="end" font-weight="normal" fill="#444" textLength="9.02" lengthAdjust="spacingAndGlyphs" >-0.005</text><line x1="17.6" y1="82.88" x2="18.5" y2="82.88" stroke="#555" stroke-width="0.5"/><text x="16.30" y="84.23" font-size="3.7" text-anchor="end" font-weight="normal" fill="#444" textLength="9.02" lengthAdjust="spacingAndGlyphs" >-0.010</text><line x1="17.6" y1="99.20" x2="18.5" y2="99.20" stroke="#555" stroke-width="0.5"/><text x="16.30" y="100.55" font-size="3.7" text-anchor="end" font-weight="normal" fill="#444" textLength="9.02" lengthAdjust="spacingAndGlyphs" >-0.015</text><line x1="19.00" y1="99.2" x2="19.00" y2="100.10000000000001" stroke="#555" stroke-width="0.5"/><text x="19.00" y="105.15" font-size="3.7" text-anchor="middle" font-weight="normal" fill="#444" textLength="9.02" lengthAdjust="spacingAndGlyphs" >-0.160</text><line x1="35.30" y1="99.2" x2="35.30" y2="100.10000000000001" stroke="#555" stroke-width="0.5"/><text x="35.30" y="105.15" font-size="3.7" text-anchor="middle" font-weight="normal" fill="#444" textLength="9.02" lengthAdjust="spacingAndGlyphs" >-0.127</text><line x1="51.60" y1="99.2" x2="51.60" y2="100.10000000000001" stroke="#555" stroke-width="0.5"/><text x="51.60" y="105.15" font-size="3.7" text-anchor="middle" font-weight="normal" fill="#444" textLength="9.02" lengthAdjust="spacingAndGlyphs" >-0.094</text><line x1="67.90" y1="99.2" x2="67.90" y2="100.10000000000001" stroke="#555" stroke-width="0.5"/><text x="67.90" y="105.15" font-size="3.7" text-anchor="middle" font-weight="normal" fill="#444" textLength="9.02" lengthAdjust="spacingAndGlyphs" >-0.061</text><line x1="84.20" y1="99.2" x2="84.20" y2="100.10000000000001" stroke="#555" stroke-width="0.5"/><text x="84.20" y="105.15" font-size="3.7" text-anchor="middle" font-weight="normal" fill="#444" textLength="9.02" lengthAdjust="spacingAndGlyphs" >-0.028</text><line x1="100.50" y1="99.2" x2="100.50" y2="100.10000000000001" stroke="#555" stroke-width="0.5"/><text x="100.50" y="105.15" font-size="3.7" text-anchor="middle" font-weight="normal" fill="#444" textLength="7.96" lengthAdjust="spacingAndGlyphs" >0.005</text><text x="34.5" y="12.85" font-size="5.6" text-anchor="start" font-weight="bold" fill="#000" textLength="50.5" lengthAdjust="spacingAndGlyphs" >GINs, betweenness</text><text x="23.5" y="22.6" font-size="3.7" text-anchor="start" font-weight="normal" fill="#222" textLength="35.3" lengthAdjust="spacingAndGlyphs" >r = 0.687  p = 0.009</text><text x="38.9" y="111.6" font-size="5.0" text-anchor="start" font-weight="normal" fill="#111" textLength="41.6" lengthAdjust="spacingAndGlyphs" >HAMD change rate</text><text x="0" y="0" font-size="5" fill="#111" textLength="34.3" lengthAdjust="spacingAndGlyphs" transform="translate(4.6,74.1) rotate(-90)">Predicted value</text><path d="M130.40,58.40 L130.92,58.26 L131.51,58.10 L132.17,57.92 L132.89,57.72 L133.68,57.51 L134.52,57.28 L135.41,57.04 L136.34,56.79 L137.32,56.52 L138.33,56.25 L139.37,55.96 L140.43,55.68 L141.51,55.38 L142.61,55.08 L143.72,54.78 L144.83,54.48 L145.95,54.18 L147.05,53.88 L148.15,53.59 L149.23,53.29 L150.29,53.01 L151.33,52.73 L152.33,52.46 L153.30,52.20 L154.25,51.95 L155.22,51.70 L156.19,51.45 L157.16,51.20 L158.14,50.95 L159.12,50.70 L160.11,50.46 L161.09,50.21 L162.08,49.97 L163.06,49.73 L164.04,49.48 L165.02,49.24 L165.99,48.99 L166.96,48.75 L167.91,48.50 L168.86,48.25 L169.80,48.00 L170.73,47.75 L171.65,47.50 L172.55,47.24 L173.44,46.99 L174.31,46.73 L175.16,46.47 L176.00,46.20 L176.82,45.93 L177.62,45.67 L178.41,45.40 L179.18,45.13 L179.93,44.87 L180.68,44.60 L181.41,44.33 L182.13,44.06 L182.85,43.79 L183.55,43.52 L184.24,43.25 L184.93,42.97 L185.61,42.69 L186.29,42.41 L186.96,42.12 L187.63,41.84 L188.30,41.55 L188.97,41.25 L189.63,40.95 L190.30,40.65 L190.97,40.35 L191.64,40.04 L192.32,39.72 L193.00,39.40 L193.69,39.07 L194.41,38.71 L195.14,38.34 L195.89,37.96 L196.64,37.56 L197.40,37.15 L198.17,36.74 L198.94,36.32 L199.71,35.89 L200.47,35.47 L201.22,35.05 L201.96,34.62 L202.69,34.21 L203.40,33.80 L204.08,33.41 L204.75,33.03 L205.38,32.66 L205.99,32.31 L206.56,31.98 L207.09,31.67 L207.59,31.38 L208.04,31.13 L208.44,30.90 L208.80,30.70 L208.80,50.50 L208.37,50.59 L207.88,50.70 L207.33,50.81 L206.71,50.94 L206.05,51.08 L205.33,51.22 L204.58,51.37 L203.78,51.53 L202.95,51.70 L202.10,51.88 L201.22,52.06 L200.33,52.24 L199.43,52.44 L198.51,52.63 L197.60,52.83 L196.69,53.03 L195.78,53.24 L194.89,53.45 L194.02,53.65 L193.17,53.86 L192.35,54.07 L191.56,54.28 L190.81,54.49 L190.10,54.70 L189.43,54.90 L188.79,55.10 L188.18,55.30 L187.58,55.50 L187.01,55.69 L186.45,55.89 L185.91,56.08 L185.38,56.28 L184.85,56.48 L184.33,56.69 L183.82,56.89 L183.30,57.11 L182.78,57.33 L182.25,57.55 L181.72,57.79 L181.17,58.03 L180.60,58.28 L180.02,58.55 L179.42,58.82 L178.79,59.11 L178.14,59.41 L177.46,59.72 L176.75,60.05 L176.00,60.40 L175.22,60.76 L174.41,61.14 L173.58,61.52 L172.72,61.93 L171.84,62.34 L170.93,62.76 L170.01,63.20 L169.08,63.64 L168.13,64.10 L167.16,64.56 L166.19,65.04 L165.20,65.52 L164.21,66.01 L163.21,66.50 L162.21,67.00 L161.20,67.51 L160.19,68.02 L159.19,68.54 L158.19,69.06 L157.19,69.58 L156.21,70.11 L155.23,70.64 L154.26,71.17 L153.30,71.70 L152.33,72.25 L151.33,72.83 L150.29,73.43 L149.23,74.06 L148.15,74.71 L147.05,75.38 L145.95,76.06 L144.83,76.74 L143.72,77.44 L142.61,78.13 L141.51,78.82 L140.43,79.51 L139.37,80.18 L138.33,80.84 L137.32,81.49 L136.34,82.11 L135.41,82.71 L134.52,83.28 L133.68,83.82 L132.89,84.32 L132.17,84.78 L131.51,85.20 L130.92,85.58 L130.40,85.90 Z" fill="#f9dccf"/><circle cx="130.2" cy="93" r="1.15" fill="#d4d0ce" stroke="#888" stroke-width="0.6"/><circle cx="159.5" cy="51.2" r="1.15" fill="#d4d0ce" stroke="#888" stroke-width="0.6"/><circle cx="163.5" cy="48.5" r="1.15" fill="#d4d0ce" stroke="#888" stroke-width="0.6"/><circle cx="172.7" cy="51.1" r="1.15" fill="#d4d0ce" stroke="#888" stroke-width="0.6"/><circle cx="173.7" cy="48.3" r="1.15" fill="#d4d0ce" stroke="#888" stroke-width="0.6"/><circle cx="183" cy="48.3" r="1.15" fill="#d4d0ce" stroke="#888" stroke-width="0.6"/><circle cx="187" cy="48.3" r="1.15" fill="#d4d0ce" stroke="#888" stroke-width="0.6"/><circle cx="191" cy="48.3" r="1.15" fill="#d4d0ce" stroke="#888" stroke-width="0.6"/><circle cx="195.5" cy="48.3" r="1.15" fill="#d4d0ce" stroke="#888" stroke-width="0.6"/><circle cx="198" cy="48.3" r="1.15" fill="#d4d0ce" stroke="#888" stroke-width="0.6"/><circle cx="208.8" cy="50" r="1.15" fill="#d4d0ce" stroke="#888" stroke-width="0.6"/><line x1="130.2" y1="71.5" x2="208.6" y2="39.8" stroke="#e66b38" stroke-width="0.9"/><path d="M128.5,16.6 V99.2 H210.7" fill="none" stroke="#444" stroke-width="0.55"/><line x1="127.6" y1="17.60" x2="128.5" y2="17.60" stroke="#555" stroke-width="0.5"/><text x="126.30" y="18.95" font-size="3.7" text-anchor="end" font-weight="normal" fill="#444" textLength="7.96" lengthAdjust="spacingAndGlyphs" >0.015</text><line x1="127.6" y1="33.92" x2="128.5" y2="33.92" stroke="#555" stroke-width="0.5"/><text x="126.30" y="35.27" font-size="3.7" text-anchor="end" font-weight="normal" fill="#444" textLength="7.96" lengthAdjust="spacingAndGlyphs" >0.007</text><line x1="127.6" y1="50.24" x2="128.5" y2="50.24" stroke="#555" stroke-width="0.5"/><text x="126.30" y="51.59" font-size="3.7" text-anchor="end" font-weight="normal" fill="#444" textLength="9.02" lengthAdjust="spacingAndGlyphs" >-0.001</text><line x1="127.6" y1="66.56" x2="128.5" y2="66.56" stroke="#555" stroke-width="0.5"/><text x="126.30" y="67.91" font-size="3.7" text-anchor="end" font-weight="normal" fill="#444" textLength="9.02" lengthAdjust="spacingAndGlyphs" >-0.009</text><line x1="127.6" y1="82.88" x2="128.5" y2="82.88" stroke="#555" stroke-width="0.5"/><text x="126.30" y="84.23" font-size="3.7" text-anchor="end" font-weight="normal" fill="#444" textLength="9.02" lengthAdjust="spacingAndGlyphs" >-0.017</text><line x1="127.6" y1="99.20" x2="128.5" y2="99.20" stroke="#555" stroke-width="0.5"/><text x="126.30" y="100.55" font-size="3.7" text-anchor="end" font-weight="normal" fill="#444" textLength="9.02" lengthAdjust="spacingAndGlyphs" >-0.025</text><line x1="129.00" y1="99.2" x2="129.00" y2="100.10000000000001" stroke="#555" stroke-width="0.5"/><text x="129.00" y="105.15" font-size="3.7" text-anchor="middle" font-weight="normal" fill="#444" textLength="9.02" lengthAdjust="spacingAndGlyphs" >-0.160</text><line x1="145.30" y1="99.2" x2="145.30" y2="100.10000000000001" stroke="#555" stroke-width="0.5"/><text x="145.30" y="105.15" font-size="3.7" text-anchor="middle" font-weight="normal" fill="#444" textLength="9.02" lengthAdjust="spacingAndGlyphs" >-0.127</text><line x1="161.60" y1="99.2" x2="161.60" y2="100.10000000000001" stroke="#555" stroke-width="0.5"/><text x="161.60" y="105.15" font-size="3.7" text-anchor="middle" font-weight="normal" fill="#444" textLength="9.02" lengthAdjust="spacingAndGlyphs" >-0.094</text><line x1="177.90" y1="99.2" x2="177.90" y2="100.10000000000001" stroke="#555" stroke-width="0.5"/><text x="177.90" y="105.15" font-size="3.7" text-anchor="middle" font-weight="normal" fill="#444" textLength="9.02" lengthAdjust="spacingAndGlyphs" >-0.061</text><line x1="194.20" y1="99.2" x2="194.20" y2="100.10000000000001" stroke="#555" stroke-width="0.5"/><text x="194.20" y="105.15" font-size="3.7" text-anchor="middle" font-weight="normal" fill="#444" textLength="9.02" lengthAdjust="spacingAndGlyphs" >-0.028</text><line x1="210.50" y1="99.2" x2="210.50" y2="100.10000000000001" stroke="#555" stroke-width="0.5"/><text x="210.50" y="105.15" font-size="3.7" text-anchor="middle" font-weight="normal" fill="#444" textLength="7.96" lengthAdjust="spacingAndGlyphs" >0.005</text><text x="150.2" y="12.85" font-size="5.6" text-anchor="start" font-weight="bold" fill="#000" textLength="40.3" lengthAdjust="spacingAndGlyphs" >GINs, pagerank</text><text x="133.5" y="22.6" font-size="3.7" text-anchor="start" font-weight="normal" fill="#222" textLength="35.3" lengthAdjust="spacingAndGlyphs" >r = 0.703  p = 0.007</text><text x="148.9" y="111.6" font-size="5.0" text-anchor="start" font-weight="normal" fill="#111" textLength="41.6" lengthAdjust="spacingAndGlyphs" >HAMD change rate</text><text x="0" y="0" font-size="5" fill="#111" textLength="34.3" lengthAdjust="spacingAndGlyphs" transform="translate(114.6,74.1) rotate(-90)">Predicted value</text><path d="M245.90,60.20 L246.40,60.10 L246.98,59.98 L247.63,59.85 L248.35,59.72 L249.13,59.57 L249.97,59.41 L250.85,59.25 L251.78,59.07 L252.75,58.89 L253.75,58.70 L254.78,58.50 L255.82,58.30 L256.89,58.09 L257.96,57.87 L259.04,57.65 L260.12,57.43 L261.19,57.20 L262.25,56.96 L263.28,56.72 L264.30,56.48 L265.28,56.24 L266.23,55.99 L267.14,55.75 L268.00,55.50 L268.83,55.25 L269.65,54.99 L270.45,54.73 L271.25,54.47 L272.04,54.20 L272.81,53.93 L273.58,53.65 L274.34,53.37 L275.10,53.08 L275.85,52.79 L276.59,52.49 L277.32,52.19 L278.06,51.89 L278.79,51.58 L279.51,51.27 L280.23,50.96 L280.95,50.64 L281.67,50.31 L282.39,49.99 L283.11,49.66 L283.83,49.32 L284.55,48.98 L285.27,48.64 L286.00,48.30 L286.73,47.95 L287.45,47.60 L288.17,47.25 L288.88,46.90 L289.59,46.54 L290.30,46.18 L291.01,45.81 L291.71,45.44 L292.42,45.07 L293.12,44.70 L293.82,44.32 L294.52,43.93 L295.22,43.54 L295.91,43.15 L296.61,42.75 L297.31,42.34 L298.00,41.93 L298.70,41.52 L299.40,41.10 L300.10,40.67 L300.80,40.24 L301.50,39.80 L302.20,39.35 L302.90,38.90 L303.62,38.43 L304.36,37.93 L305.13,37.40 L305.91,36.85 L306.71,36.28 L307.52,35.70 L308.34,35.10 L309.16,34.50 L309.98,33.89 L310.80,33.28 L311.61,32.67 L312.41,32.06 L313.19,31.47 L313.96,30.88 L314.70,30.31 L315.42,29.76 L316.11,29.22 L316.76,28.72 L317.38,28.24 L317.96,27.80 L318.50,27.39 L318.98,27.01 L319.42,26.68 L319.80,26.40 L319.80,60.40 L319.42,60.45 L318.98,60.50 L318.50,60.56 L317.96,60.62 L317.38,60.68 L316.76,60.76 L316.11,60.83 L315.42,60.91 L314.70,60.99 L313.96,61.08 L313.19,61.17 L312.41,61.26 L311.61,61.36 L310.80,61.45 L309.98,61.55 L309.16,61.66 L308.34,61.76 L307.52,61.86 L306.71,61.97 L305.91,62.07 L305.13,62.18 L304.36,62.29 L303.62,62.39 L302.90,62.50 L302.20,62.60 L301.51,62.69 L300.83,62.78 L300.16,62.86 L299.49,62.93 L298.82,63.00 L298.16,63.07 L297.50,63.14 L296.84,63.22 L296.18,63.29 L295.52,63.37 L294.85,63.46 L294.18,63.55 L293.50,63.65 L292.81,63.76 L292.11,63.89 L291.40,64.03 L290.68,64.18 L289.94,64.35 L289.19,64.54 L288.42,64.75 L287.63,64.97 L286.83,65.23 L286.00,65.50 L285.15,65.80 L284.26,66.13 L283.35,66.48 L282.41,66.85 L281.45,67.25 L280.47,67.66 L279.48,68.09 L278.47,68.54 L277.45,69.00 L276.42,69.47 L275.38,69.95 L274.34,70.44 L273.31,70.93 L272.27,71.43 L271.24,71.94 L270.22,72.44 L269.21,72.94 L268.22,73.45 L267.24,73.94 L266.28,74.43 L265.35,74.92 L264.43,75.39 L263.55,75.85 L262.70,76.30 L261.86,76.75 L261.02,77.21 L260.17,77.69 L259.33,78.18 L258.49,78.67 L257.65,79.17 L256.82,79.68 L256.00,80.18 L255.19,80.69 L254.39,81.19 L253.61,81.69 L252.84,82.17 L252.10,82.66 L251.38,83.12 L250.68,83.58 L250.01,84.02 L249.37,84.44 L248.77,84.84 L248.19,85.22 L247.65,85.57 L247.15,85.90 L246.69,86.20 L246.27,86.47 L245.90,86.70 Z" fill="#f9dccf"/><circle cx="246.1" cy="91.5" r="1.15" fill="#d4d0ce" stroke="#888" stroke-width="0.6"/><circle cx="248.2" cy="61.4" r="1.15" fill="#d4d0ce" stroke="#888" stroke-width="0.6"/><circle cx="263.4" cy="76.9" r="1.15" fill="#d4d0ce" stroke="#888" stroke-width="0.6"/><circle cx="266.3" cy="65.9" r="1.15" fill="#d4d0ce" stroke="#888" stroke-width="0.6"/><circle cx="268.3" cy="58.7" r="1.15" fill="#d4d0ce" stroke="#888" stroke-width="0.6"/><circle cx="270.4" cy="44.6" r="1.15" fill="#d4d0ce" stroke="#888" stroke-width="0.6"/><circle cx="289.7" cy="58.3" r="1.15" fill="#d4d0ce" stroke="#888" stroke-width="0.6"/><circle cx="298.5" cy="53" r="1.15" fill="#d4d0ce" stroke="#888" stroke-width="0.6"/><circle cx="304.4" cy="53.6" r="1.15" fill="#d4d0ce" stroke="#888" stroke-width="0.6"/><circle cx="319.8" cy="42.6" r="1.15" fill="#d4d0ce" stroke="#888" stroke-width="0.6"/><line x1="245.9" y1="73.8" x2="319.8" y2="42.6" stroke="#e66b38" stroke-width="0.9"/><path d="M243.4,16.6 V99.2 H325.6" fill="none" stroke="#444" stroke-width="0.55"/><line x1="242.5" y1="17.60" x2="243.4" y2="17.60" stroke="#555" stroke-width="0.5"/><text x="241.20" y="18.95" font-size="3.7" text-anchor="end" font-weight="normal" fill="#444" textLength="7.96" lengthAdjust="spacingAndGlyphs" >0.010</text><line x1="242.5" y1="33.92" x2="243.4" y2="33.92" stroke="#555" stroke-width="0.5"/><text x="241.20" y="35.27" font-size="3.7" text-anchor="end" font-weight="normal" fill="#444" textLength="9.02" lengthAdjust="spacingAndGlyphs" >-0.004</text><line x1="242.5" y1="50.24" x2="243.4" y2="50.24" stroke="#555" stroke-width="0.5"/><text x="241.20" y="51.59" font-size="3.7" text-anchor="end" font-weight="normal" fill="#444" textLength="9.02" lengthAdjust="spacingAndGlyphs" >-0.018</text><line x1="242.5" y1="66.56" x2="243.4" y2="66.56" stroke="#555" stroke-width="0.5"/><text x="241.20" y="67.91" font-size="3.7" text-anchor="end" font-weight="normal" fill="#444" textLength="9.02" lengthAdjust="spacingAndGlyphs" >-0.032</text><line x1="242.5" y1="82.88" x2="243.4" y2="82.88" stroke="#555" stroke-width="0.5"/><text x="241.20" y="84.23" font-size="3.7" text-anchor="end" font-weight="normal" fill="#444" textLength="9.02" lengthAdjust="spacingAndGlyphs" >-0.046</text><line x1="242.5" y1="99.20" x2="243.4" y2="99.20" stroke="#555" stroke-width="0.5"/><text x="241.20" y="100.55" font-size="3.7" text-anchor="end" font-weight="normal" fill="#444" textLength="9.02" lengthAdjust="spacingAndGlyphs" >-0.060</text><line x1="243.90" y1="99.2" x2="243.90" y2="100.10000000000001" stroke="#555" stroke-width="0.5"/><text x="243.90" y="105.15" font-size="3.7" text-anchor="middle" font-weight="normal" fill="#444" textLength="9.02" lengthAdjust="spacingAndGlyphs" >-0.130</text><line x1="260.20" y1="99.2" x2="260.20" y2="100.10000000000001" stroke="#555" stroke-width="0.5"/><text x="260.20" y="105.15" font-size="3.7" text-anchor="middle" font-weight="normal" fill="#444" textLength="9.02" lengthAdjust="spacingAndGlyphs" >-0.102</text><line x1="276.50" y1="99.2" x2="276.50" y2="100.10000000000001" stroke="#555" stroke-width="0.5"/><text x="276.50" y="105.15" font-size="3.7" text-anchor="middle" font-weight="normal" fill="#444" textLength="9.02" lengthAdjust="spacingAndGlyphs" >-0.074</text><line x1="292.80" y1="99.2" x2="292.80" y2="100.10000000000001" stroke="#555" stroke-width="0.5"/><text x="292.80" y="105.15" font-size="3.7" text-anchor="middle" font-weight="normal" fill="#444" textLength="9.02" lengthAdjust="spacingAndGlyphs" >-0.046</text><line x1="309.10" y1="99.2" x2="309.10" y2="100.10000000000001" stroke="#555" stroke-width="0.5"/><text x="309.10" y="105.15" font-size="3.7" text-anchor="middle" font-weight="normal" fill="#444" textLength="9.02" lengthAdjust="spacingAndGlyphs" >-0.018</text><line x1="325.40" y1="99.2" x2="325.40" y2="100.10000000000001" stroke="#555" stroke-width="0.5"/><text x="325.40" y="105.15" font-size="3.7" text-anchor="middle" font-weight="normal" fill="#444" textLength="7.96" lengthAdjust="spacingAndGlyphs" >0.010</text><text x="258.7" y="12.85" font-size="5.6" text-anchor="start" font-weight="bold" fill="#000" textLength="50.5" lengthAdjust="spacingAndGlyphs" >GINs, betweenness</text><text x="248" y="22.6" font-size="3.7" text-anchor="start" font-weight="normal" fill="#222" textLength="35.3" lengthAdjust="spacingAndGlyphs" >r = 0.710  p = 0.022</text><text x="263.8" y="111.6" font-size="5.0" text-anchor="start" font-weight="normal" fill="#111" textLength="41.6" lengthAdjust="spacingAndGlyphs" >HAMD change rate</text><text x="0" y="0" font-size="5" fill="#111" textLength="34.3" lengthAdjust="spacingAndGlyphs" transform="translate(229.5,74.1) rotate(-90)">Predicted value</text><path d="M356.40,53.50 L356.91,53.41 L357.51,53.30 L358.18,53.19 L358.92,53.07 L359.73,52.93 L360.59,52.79 L361.51,52.64 L362.47,52.49 L363.47,52.32 L364.50,52.15 L365.56,51.97 L366.64,51.79 L367.73,51.60 L368.84,51.40 L369.94,51.21 L371.04,51.00 L372.14,50.80 L373.21,50.59 L374.27,50.38 L375.30,50.16 L376.29,49.95 L377.24,49.73 L378.15,49.52 L379.00,49.30 L379.82,49.08 L380.61,48.87 L381.39,48.65 L382.16,48.43 L382.91,48.21 L383.64,47.98 L384.37,47.76 L385.08,47.53 L385.79,47.29 L386.48,47.06 L387.17,46.81 L387.85,46.57 L388.53,46.32 L389.20,46.06 L389.87,45.80 L390.54,45.53 L391.21,45.25 L391.88,44.97 L392.55,44.68 L393.23,44.38 L393.91,44.08 L394.60,43.76 L395.30,43.43 L396.00,43.10 L396.71,42.75 L397.42,42.40 L398.13,42.03 L398.84,41.66 L399.55,41.27 L400.25,40.88 L400.96,40.48 L401.67,40.07 L402.38,39.66 L403.09,39.23 L403.80,38.81 L404.51,38.38 L405.22,37.94 L405.93,37.50 L406.64,37.05 L407.35,36.61 L408.06,36.16 L408.76,35.71 L409.47,35.26 L410.18,34.80 L410.88,34.35 L411.59,33.90 L412.30,33.45 L413.00,33.00 L413.72,32.54 L414.46,32.06 L415.22,31.56 L416.01,31.04 L416.80,30.51 L417.61,29.97 L418.42,29.43 L419.24,28.87 L420.05,28.32 L420.86,27.76 L421.67,27.21 L422.46,26.67 L423.24,26.13 L424.00,25.61 L424.74,25.10 L425.45,24.60 L426.14,24.13 L426.79,23.68 L427.40,23.25 L427.97,22.86 L428.51,22.49 L428.99,22.16 L429.42,21.86 L429.80,21.60 L429.80,58.00 L429.42,58.04 L428.99,58.09 L428.51,58.14 L427.97,58.20 L427.40,58.25 L426.79,58.31 L426.14,58.38 L425.45,58.45 L424.74,58.52 L424.00,58.60 L423.24,58.67 L422.46,58.76 L421.67,58.84 L420.86,58.93 L420.05,59.02 L419.24,59.12 L418.42,59.22 L417.61,59.32 L416.80,59.42 L416.01,59.53 L415.22,59.65 L414.46,59.76 L413.72,59.88 L413.00,60.00 L412.30,60.12 L411.59,60.25 L410.88,60.37 L410.18,60.50 L409.47,60.63 L408.76,60.77 L408.06,60.90 L407.35,61.04 L406.64,61.18 L405.93,61.33 L405.22,61.48 L404.51,61.63 L403.80,61.79 L403.09,61.95 L402.38,62.12 L401.67,62.29 L400.96,62.47 L400.25,62.66 L399.55,62.85 L398.84,63.04 L398.13,63.25 L397.42,63.46 L396.71,63.67 L396.00,63.90 L395.30,64.13 L394.60,64.37 L393.91,64.61 L393.23,64.86 L392.55,65.12 L391.88,65.38 L391.21,65.65 L390.54,65.92 L389.87,66.20 L389.20,66.48 L388.53,66.77 L387.85,67.07 L387.17,67.37 L386.48,67.67 L385.79,67.98 L385.08,68.30 L384.37,68.62 L383.64,68.95 L382.91,69.28 L382.16,69.61 L381.39,69.95 L380.61,70.30 L379.82,70.65 L379.00,71.00 L378.15,71.37 L377.24,71.76 L376.29,72.18 L375.30,72.61 L374.27,73.07 L373.21,73.53 L372.14,74.01 L371.04,74.49 L369.94,74.98 L368.84,75.47 L367.73,75.96 L366.64,76.44 L365.56,76.92 L364.50,77.40 L363.47,77.85 L362.47,78.30 L361.51,78.73 L360.59,79.14 L359.73,79.52 L358.92,79.88 L358.18,80.21 L357.51,80.51 L356.91,80.77 L356.40,81.00 Z" fill="#f9dccf"/><circle cx="356.6" cy="79" r="1.15" fill="#d4d0ce" stroke="#888" stroke-width="0.6"/><circle cx="358.6" cy="90.2" r="1.15" fill="#d4d0ce" stroke="#888" stroke-width="0.6"/><circle cx="373.6" cy="49.1" r="1.15" fill="#d4d0ce" stroke="#888" stroke-width="0.6"/><circle cx="376.2" cy="49.1" r="1.15" fill="#d4d0ce" stroke="#888" stroke-width="0.6"/><circle cx="378.8" cy="49.1" r="1.15" fill="#d4d0ce" stroke="#888" stroke-width="0.6"/><circle cx="381.2" cy="49.1" r="1.15" fill="#d4d0ce" stroke="#888" stroke-width="0.6"/><circle cx="399.7" cy="49.3" r="1.15" fill="#d4d0ce" stroke="#888" stroke-width="0.6"/><circle cx="409.1" cy="49.3" r="1.15" fill="#d4d0ce" stroke="#888" stroke-width="0.6"/><circle cx="415.1" cy="49.3" r="1.15" fill="#d4d0ce" stroke="#888" stroke-width="0.6"/><circle cx="429.8" cy="49.3" r="1.15" fill="#d4d0ce" stroke="#888" stroke-width="0.6"/><line x1="356.4" y1="68.8" x2="429.8" y2="39.5" stroke="#e66b38" stroke-width="0.9"/><path d="M353.3,16.6 V99.2 H435.5" fill="none" stroke="#444" stroke-width="0.55"/><line x1="352.40000000000003" y1="17.60" x2="353.3" y2="17.60" stroke="#555" stroke-width="0.5"/><text x="351.10" y="18.95" font-size="3.7" text-anchor="end" font-weight="normal" fill="#444" textLength="7.96" lengthAdjust="spacingAndGlyphs" >0.040</text><line x1="352.40000000000003" y1="33.92" x2="353.3" y2="33.92" stroke="#555" stroke-width="0.5"/><text x="351.10" y="35.27" font-size="3.7" text-anchor="end" font-weight="normal" fill="#444" textLength="7.96" lengthAdjust="spacingAndGlyphs" >0.020</text><line x1="352.40000000000003" y1="50.24" x2="353.3" y2="50.24" stroke="#555" stroke-width="0.5"/><text x="351.10" y="51.59" font-size="3.7" text-anchor="end" font-weight="normal" fill="#444" textLength="7.96" lengthAdjust="spacingAndGlyphs" >0.000</text><line x1="352.40000000000003" y1="66.56" x2="353.3" y2="66.56" stroke="#555" stroke-width="0.5"/><text x="351.10" y="67.91" font-size="3.7" text-anchor="end" font-weight="normal" fill="#444" textLength="9.02" lengthAdjust="spacingAndGlyphs" >-0.020</text><line x1="352.40000000000003" y1="82.88" x2="353.3" y2="82.88" stroke="#555" stroke-width="0.5"/><text x="351.10" y="84.23" font-size="3.7" text-anchor="end" font-weight="normal" fill="#444" textLength="9.02" lengthAdjust="spacingAndGlyphs" >-0.040</text><line x1="352.40000000000003" y1="99.20" x2="353.3" y2="99.20" stroke="#555" stroke-width="0.5"/><text x="351.10" y="100.55" font-size="3.7" text-anchor="end" font-weight="normal" fill="#444" textLength="9.02" lengthAdjust="spacingAndGlyphs" >-0.060</text><line x1="353.80" y1="99.2" x2="353.80" y2="100.10000000000001" stroke="#555" stroke-width="0.5"/><text x="353.80" y="105.15" font-size="3.7" text-anchor="middle" font-weight="normal" fill="#444" textLength="9.02" lengthAdjust="spacingAndGlyphs" >-0.130</text><line x1="370.10" y1="99.2" x2="370.10" y2="100.10000000000001" stroke="#555" stroke-width="0.5"/><text x="370.10" y="105.15" font-size="3.7" text-anchor="middle" font-weight="normal" fill="#444" textLength="9.02" lengthAdjust="spacingAndGlyphs" >-0.102</text><line x1="386.40" y1="99.2" x2="386.40" y2="100.10000000000001" stroke="#555" stroke-width="0.5"/><text x="386.40" y="105.15" font-size="3.7" text-anchor="middle" font-weight="normal" fill="#444" textLength="9.02" lengthAdjust="spacingAndGlyphs" >-0.074</text><line x1="402.70" y1="99.2" x2="402.70" y2="100.10000000000001" stroke="#555" stroke-width="0.5"/><text x="402.70" y="105.15" font-size="3.7" text-anchor="middle" font-weight="normal" fill="#444" textLength="9.02" lengthAdjust="spacingAndGlyphs" >-0.046</text><line x1="419.00" y1="99.2" x2="419.00" y2="100.10000000000001" stroke="#555" stroke-width="0.5"/><text x="419.00" y="105.15" font-size="3.7" text-anchor="middle" font-weight="normal" fill="#444" textLength="9.02" lengthAdjust="spacingAndGlyphs" >-0.018</text><line x1="435.30" y1="99.2" x2="435.30" y2="100.10000000000001" stroke="#555" stroke-width="0.5"/><text x="435.30" y="105.15" font-size="3.7" text-anchor="middle" font-weight="normal" fill="#444" textLength="7.96" lengthAdjust="spacingAndGlyphs" >0.010</text><text x="374" y="12.85" font-size="5.6" text-anchor="start" font-weight="bold" fill="#000" textLength="42.7" lengthAdjust="spacingAndGlyphs" >SDNs, efficiency</text><text x="358.3" y="22.6" font-size="3.7" text-anchor="start" font-weight="normal" fill="#222" textLength="35.3" lengthAdjust="spacingAndGlyphs" >r = 0.640  p = 0.046</text><text x="373.7" y="111.6" font-size="5.0" text-anchor="start" font-weight="normal" fill="#111" textLength="41.6" lengthAdjust="spacingAndGlyphs" >HAMD change rate</text><text x="0" y="0" font-size="5" fill="#111" textLength="34.3" lengthAdjust="spacingAndGlyphs" transform="translate(339.40000000000003,74.1) rotate(-90)">Predicted value</text><text x="-0.7" y="8.7" font-size="12.6" text-anchor="start" font-weight="normal" fill="#000" stroke="#000" stroke-width="0.1">A</text><text x="223.6" y="8.5" font-size="12.2" text-anchor="start" font-weight="normal" fill="#000" stroke="#000" stroke-width="0.1">B</text><g transform="translate(18.90,120.00)"><use href="#latp" fill="#000"/><g clip-path="url(#cl)"><use href="#aneg0"/></g><use href="#latp" fill="none" stroke="#2a78d8" stroke-width="0.45" stroke-opacity="0.8"/></g><g transform="translate(101.60,120.00) scale(-1,1)"><use href="#latp" fill="#000"/><g clip-path="url(#cl)"><use href="#aneg1"/></g><use href="#latp" fill="none" stroke="#2a78d8" stroke-width="0.45" stroke-opacity="0.8"/></g><g transform="translate(18.90,150.00)"><use href="#medp" fill="#000"/><g clip-path="url(#cm)"><use href="#aneg2"/></g><use href="#medp" fill="none" stroke="#2a78d8" stroke-width="0.45" stroke-opacity="0.8"/><use href="#wallp" fill="url(#gw)"/></g><g transform="translate(100.50,150.00) scale(-1,1)"><use href="#medp" fill="#000"/><g clip-path="url(#cm)"><use href="#aneg0"/></g><use href="#medp" fill="none" stroke="#2a78d8" stroke-width="0.45" stroke-opacity="0.8"/><use href="#wallp" fill="url(#gw)"/></g><text x="60.25" y="182.1" font-size="5.6" text-anchor="middle" font-weight="normal" fill="#111" textLength="37.7" lengthAdjust="spacingAndGlyphs" stroke="#111" stroke-width="0.15">negative weights</text><rect x="37.95" y="185.00" width="45.6" height="3.8" fill="url(#cb0neg)" stroke="#111" stroke-width="0.4"/><text x="36.65" y="188.95" font-size="5.2" text-anchor="end" font-weight="normal" fill="#222" textLength="9.5" lengthAdjust="spacingAndGlyphs" >0.00</text><text x="84.15" y="188.95" font-size="5.2" text-anchor="start" font-weight="normal" fill="#222" textLength="9.5" lengthAdjust="spacingAndGlyphs" >0.95</text><g transform="translate(18.90,197.80)"><use href="#latp" fill="#000"/><g clip-path="url(#cl)"><use href="#apos0"/></g></g><g transform="translate(101.60,197.80) scale(-1,1)"><use href="#latp" fill="#000"/><g clip-path="url(#cl)"><use href="#apos1"/></g></g><g transform="translate(18.90,227.80)"><use href="#medp" fill="#000"/><g clip-path="url(#cm)"><use href="#apos2"/></g><use href="#wallp" fill="url(#gw)"/></g><g transform="translate(100.50,227.80) scale(-1,1)"><use href="#medp" fill="#000"/><g clip-path="url(#cm)"><use href="#apos0"/></g><use href="#wallp" fill="url(#gw)"/></g><text x="59.90" y="259.0" font-size="5.6" text-anchor="middle" font-weight="normal" fill="#111" textLength="35.8" lengthAdjust="spacingAndGlyphs" stroke="#111" stroke-width="0.15">positive weights</text><rect x="37.30" y="260.90" width="45.6" height="3.8" fill="url(#cb0pos)" stroke="#111" stroke-width="0.4"/><text x="36.00" y="264.85" font-size="5.2" text-anchor="end" font-weight="normal" fill="#222" textLength="9.5" lengthAdjust="spacingAndGlyphs" >0.00</text><text x="83.50" y="264.85" font-size="5.2" text-anchor="start" font-weight="normal" fill="#222" textLength="9.5" lengthAdjust="spacingAndGlyphs" >0.95</text><g transform="translate(128.90,120.00)"><use href="#latp" fill="#000"/><g clip-path="url(#cl)"><use href="#aneg1"/></g><use href="#latp" fill="none" stroke="#2a78d8" stroke-width="0.45" stroke-opacity="0.8"/></g><g transform="translate(211.60,120.00) scale(-1,1)"><use href="#latp" fill="#000"/><g clip-path="url(#cl)"><use href="#aneg2"/></g><use href="#latp" fill="none" stroke="#2a78d8" stroke-width="0.45" stroke-opacity="0.8"/></g><g transform="translate(128.90,150.00)"><use href="#medp" fill="#000"/><g clip-path="url(#cm)"><use href="#aneg0"/></g><use href="#medp" fill="none" stroke="#2a78d8" stroke-width="0.45" stroke-opacity="0.8"/><use href="#wallp" fill="url(#gw)"/></g><g transform="translate(210.50,150.00) scale(-1,1)"><use href="#medp" fill="#000"/><g clip-path="url(#cm)"><use href="#aneg1"/></g><use href="#medp" fill="none" stroke="#2a78d8" stroke-width="0.45" stroke-opacity="0.8"/><use href="#wallp" fill="url(#gw)"/></g><text x="170.45" y="182.1" font-size="5.6" text-anchor="middle" font-weight="normal" fill="#111" textLength="37.7" lengthAdjust="spacingAndGlyphs" stroke="#111" stroke-width="0.15">negative weights</text><rect x="148.10" y="185.00" width="45.6" height="3.8" fill="url(#cb1neg)" stroke="#111" stroke-width="0.4"/><text x="146.80" y="188.95" font-size="5.2" text-anchor="end" font-weight="normal" fill="#222" textLength="9.5" lengthAdjust="spacingAndGlyphs" >0.00</text><text x="194.30" y="188.95" font-size="5.2" text-anchor="start" font-weight="normal" fill="#222" textLength="9.5" lengthAdjust="spacingAndGlyphs" >0.95</text><g transform="translate(128.90,197.80)"><use href="#latp" fill="#000"/><g clip-path="url(#cl)"><use href="#apos1"/></g></g><g transform="translate(211.60,197.80) scale(-1,1)"><use href="#latp" fill="#000"/><g clip-path="url(#cl)"><use href="#apos2"/></g></g><g transform="translate(128.90,227.80)"><use href="#medp" fill="#000"/><g clip-path="url(#cm)"><use href="#apos0"/></g><use href="#wallp" fill="url(#gw)"/></g><g transform="translate(210.50,227.80) scale(-1,1)"><use href="#medp" fill="#000"/><g clip-path="url(#cm)"><use href="#apos1"/></g><use href="#wallp" fill="url(#gw)"/></g><text x="170.20" y="259.0" font-size="5.6" text-anchor="middle" font-weight="normal" fill="#111" textLength="35.8" lengthAdjust="spacingAndGlyphs" stroke="#111" stroke-width="0.15">positive weights</text><rect x="147.95" y="260.90" width="45.6" height="3.8" fill="url(#cb1pos)" stroke="#111" stroke-width="0.4"/><text x="146.65" y="264.85" font-size="5.2" text-anchor="end" font-weight="normal" fill="#222" textLength="9.5" lengthAdjust="spacingAndGlyphs" >0.00</text><text x="194.15" y="264.85" font-size="5.2" text-anchor="start" font-weight="normal" fill="#222" textLength="9.5" lengthAdjust="spacingAndGlyphs" >0.95</text><g transform="translate(242.00,120.00)"><use href="#latp" fill="#000"/><g clip-path="url(#cl)"><use href="#bneg0"/></g><use href="#latp" fill="none" stroke="#2a78d8" stroke-width="0.45" stroke-opacity="0.8"/></g><g transform="translate(324.70,120.00) scale(-1,1)"><use href="#latp" fill="#000"/><g clip-path="url(#cl)"><use href="#bneg1"/></g><use href="#latp" fill="none" stroke="#2a78d8" stroke-width="0.45" stroke-opacity="0.8"/></g><g transform="translate(242.00,150.00)"><use href="#medp" fill="#000"/><g clip-path="url(#cm)"><use href="#bneg2"/></g><use href="#medp" fill="none" stroke="#2a78d8" stroke-width="0.45" stroke-opacity="0.8"/><use href="#wallp" fill="url(#gw)"/></g><g transform="translate(323.60,150.00) scale(-1,1)"><use href="#medp" fill="#000"/><g clip-path="url(#cm)"><use href="#bneg0"/></g><use href="#medp" fill="none" stroke="#2a78d8" stroke-width="0.45" stroke-opacity="0.8"/><use href="#wallp" fill="url(#gw)"/></g><text x="284.75" y="182.1" font-size="5.6" text-anchor="middle" font-weight="normal" fill="#111" textLength="37.7" lengthAdjust="spacingAndGlyphs" stroke="#111" stroke-width="0.15">negative weights</text><rect x="262.00" y="185.00" width="45.6" height="3.8" fill="url(#cb2neg)" stroke="#111" stroke-width="0.4"/><text x="260.70" y="188.95" font-size="5.2" text-anchor="end" font-weight="normal" fill="#222" textLength="9.5" lengthAdjust="spacingAndGlyphs" >0.00</text><text x="308.20" y="188.95" font-size="5.2" text-anchor="start" font-weight="normal" fill="#222" textLength="9.5" lengthAdjust="spacingAndGlyphs" >0.95</text><g transform="translate(242.00,197.80)"><use href="#latp" fill="#000"/><g clip-path="url(#cl)"><use href="#bpos0"/></g></g><g transform="translate(324.70,197.80) scale(-1,1)"><use href="#latp" fill="#000"/><g clip-path="url(#cl)"><use href="#bpos1"/></g></g><g transform="translate(242.00,227.80)"><use href="#medp" fill="#000"/><g clip-path="url(#cm)"><use href="#bpos2"/></g><use href="#wallp" fill="url(#gw)"/></g><g transform="translate(323.60,227.80) scale(-1,1)"><use href="#medp" fill="#000"/><g clip-path="url(#cm)"><use href="#bpos0"/></g><use href="#wallp" fill="url(#gw)"/></g><text x="284.00" y="259.0" font-size="5.6" text-anchor="middle" font-weight="normal" fill="#111" textLength="35.8" lengthAdjust="spacingAndGlyphs" stroke="#111" stroke-width="0.15">positive weights</text><rect x="261.10" y="260.90" width="45.6" height="3.8" fill="url(#cb2pos)" stroke="#111" stroke-width="0.4"/><text x="259.80" y="264.85" font-size="5.2" text-anchor="end" font-weight="normal" fill="#222" textLength="9.5" lengthAdjust="spacingAndGlyphs" >0.00</text><text x="307.30" y="264.85" font-size="5.2" text-anchor="start" font-weight="normal" fill="#222" textLength="9.5" lengthAdjust="spacingAndGlyphs" >0.95</text><g transform="translate(353.90,120.00)"><use href="#latp" fill="#000"/><g clip-path="url(#cl)"><use href="#bneg1"/></g><use href="#latp" fill="none" stroke="#2a78d8" stroke-width="0.45" stroke-opacity="0.8"/></g><g transform="translate(436.60,120.00) scale(-1,1)"><use href="#latp" fill="#000"/><g clip-path="url(#cl)"><use href="#bneg2"/></g><use href="#latp" fill="none" stroke="#2a78d8" stroke-width="0.45" stroke-opacity="0.8"/></g><g transform="translate(353.90,150.00)"><use href="#medp" fill="#000"/><g clip-path="url(#cm)"><use href="#bneg0"/></g><use href="#medp" fill="none" stroke="#2a78d8" stroke-width="0.45" stroke-opacity="0.8"/><use href="#wallp" fill="url(#gw)"/></g><g transform="translate(435.50,150.00) scale(-1,1)"><use href="#medp" fill="#000"/><g clip-path="url(#cm)"><use href="#bneg1"/></g><use href="#medp" fill="none" stroke="#2a78d8" stroke-width="0.45" stroke-opacity="0.8"/><use href="#wallp" fill="url(#gw)"/></g><text x="395.65" y="182.1" font-size="5.6" text-anchor="middle" font-weight="normal" fill="#111" textLength="37.7" lengthAdjust="spacingAndGlyphs" stroke="#111" stroke-width="0.15">negative weights</text><rect x="373.10" y="185.00" width="45.6" height="3.8" fill="url(#cb3neg)" stroke="#111" stroke-width="0.4"/><text x="371.80" y="188.95" font-size="5.2" text-anchor="end" font-weight="normal" fill="#222" textLength="9.5" lengthAdjust="spacingAndGlyphs" >0.00</text><text x="419.30" y="188.95" font-size="5.2" text-anchor="start" font-weight="normal" fill="#222" textLength="9.5" lengthAdjust="spacingAndGlyphs" >0.95</text><g transform="translate(353.90,197.80)"><use href="#latp" fill="#000"/><g clip-path="url(#cl)"><use href="#bpos1"/></g></g><g transform="translate(436.60,197.80) scale(-1,1)"><use href="#latp" fill="#000"/><g clip-path="url(#cl)"><use href="#bpos2"/></g></g><g transform="translate(353.90,227.80)"><use href="#medp" fill="#000"/><g clip-path="url(#cm)"><use href="#bpos0"/></g><use href="#wallp" fill="url(#gw)"/></g><g transform="translate(435.50,227.80) scale(-1,1)"><use href="#medp" fill="#000"/><g clip-path="url(#cm)"><use href="#bpos1"/></g><use href="#wallp" fill="url(#gw)"/></g><text x="395.60" y="259.0" font-size="5.6" text-anchor="middle" font-weight="normal" fill="#111" textLength="35.8" lengthAdjust="spacingAndGlyphs" stroke="#111" stroke-width="0.15">positive weights</text><rect x="373.20" y="260.90" width="45.6" height="3.8" fill="url(#cb3pos)" stroke="#111" stroke-width="0.4"/><text x="371.90" y="264.85" font-size="5.2" text-anchor="end" font-weight="normal" fill="#222" textLength="9.5" lengthAdjust="spacingAndGlyphs" >0.00</text><text x="419.40" y="264.85" font-size="5.2" text-anchor="start" font-weight="normal" fill="#222" textLength="9.5" lengthAdjust="spacingAndGlyphs" >0.95</text></svg></body></html>
